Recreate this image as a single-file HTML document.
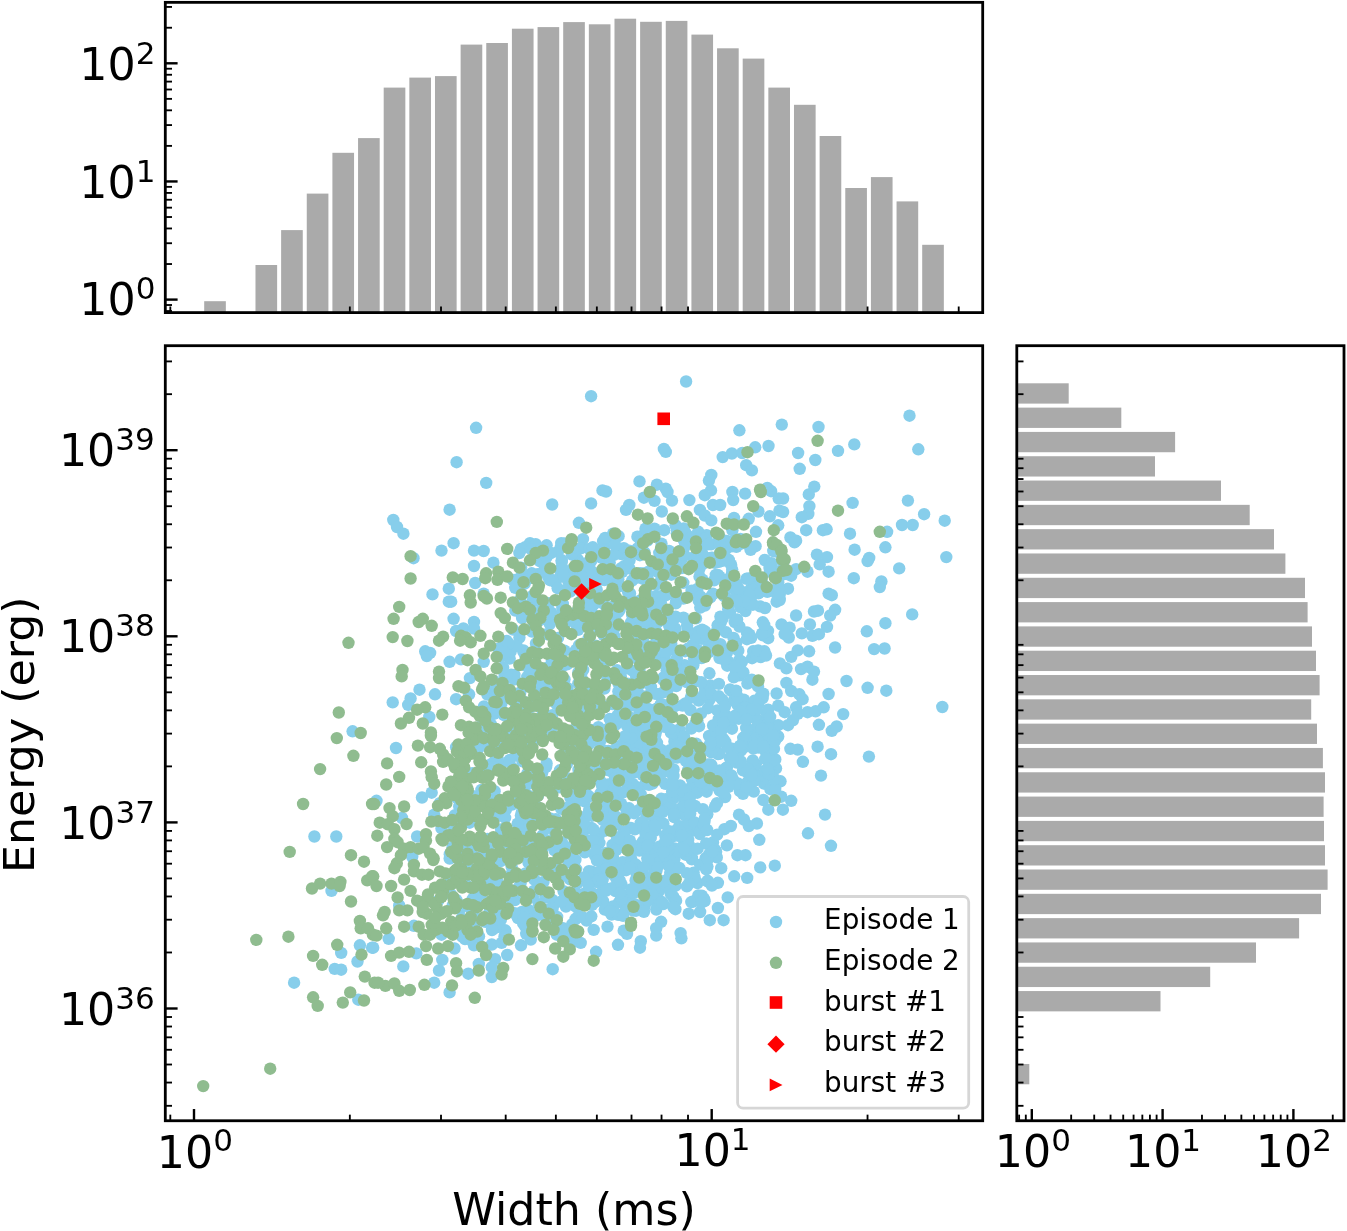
<!DOCTYPE html>
<html><head><meta charset="utf-8"><title>plot</title>
<style>html,body{margin:0;padding:0;background:#fff;}svg{display:block;}circle{r:6.2px;}text{font-family:"DejaVu Sans","Liberation Sans",sans-serif;fill:#000;}</style>
</head><body>
<svg width="1347" height="1231" viewBox="0 0 1347 1231">
<rect width="1347" height="1231" fill="#fff"/>
<rect x="204.2" y="301.2" width="21.64" height="11.4" fill="#aaaaaa"/>
<rect x="255.49" y="265" width="21.64" height="47.6" fill="#aaaaaa"/>
<rect x="281.13" y="230.1" width="21.64" height="82.5" fill="#aaaaaa"/>
<rect x="306.77" y="193.6" width="21.64" height="119" fill="#aaaaaa"/>
<rect x="332.41" y="152.8" width="21.64" height="159.8" fill="#aaaaaa"/>
<rect x="358.06" y="138.1" width="21.64" height="174.5" fill="#aaaaaa"/>
<rect x="383.7" y="87.6" width="21.64" height="225" fill="#aaaaaa"/>
<rect x="409.34" y="77.6" width="21.64" height="235" fill="#aaaaaa"/>
<rect x="434.99" y="76.1" width="21.64" height="236.5" fill="#aaaaaa"/>
<rect x="460.63" y="44.6" width="21.64" height="268" fill="#aaaaaa"/>
<rect x="486.27" y="43" width="21.64" height="269.6" fill="#aaaaaa"/>
<rect x="511.92" y="28.7" width="21.64" height="283.9" fill="#aaaaaa"/>
<rect x="537.56" y="27.1" width="21.64" height="285.5" fill="#aaaaaa"/>
<rect x="563.2" y="22.1" width="21.64" height="290.5" fill="#aaaaaa"/>
<rect x="588.85" y="24.3" width="21.64" height="288.3" fill="#aaaaaa"/>
<rect x="614.49" y="18.7" width="21.64" height="293.9" fill="#aaaaaa"/>
<rect x="640.13" y="21.8" width="21.64" height="290.8" fill="#aaaaaa"/>
<rect x="665.77" y="20.9" width="21.64" height="291.7" fill="#aaaaaa"/>
<rect x="691.42" y="34.6" width="21.64" height="278" fill="#aaaaaa"/>
<rect x="717.06" y="48.3" width="21.64" height="264.3" fill="#aaaaaa"/>
<rect x="742.7" y="58.6" width="21.64" height="254" fill="#aaaaaa"/>
<rect x="768.35" y="87.6" width="21.64" height="225" fill="#aaaaaa"/>
<rect x="793.99" y="104.8" width="21.64" height="207.8" fill="#aaaaaa"/>
<rect x="819.63" y="136" width="21.64" height="176.6" fill="#aaaaaa"/>
<rect x="845.28" y="188" width="21.64" height="124.6" fill="#aaaaaa"/>
<rect x="870.92" y="177.1" width="21.64" height="135.5" fill="#aaaaaa"/>
<rect x="896.56" y="201.4" width="21.64" height="111.2" fill="#aaaaaa"/>
<rect x="922.2" y="244.8" width="21.64" height="67.8" fill="#aaaaaa"/>
<rect x="1016.8" y="383.3" width="51.9" height="20.31" fill="#aaaaaa"/>
<rect x="1016.8" y="407.61" width="104.5" height="20.31" fill="#aaaaaa"/>
<rect x="1016.8" y="431.92" width="158.3" height="20.31" fill="#aaaaaa"/>
<rect x="1016.8" y="456.23" width="138.2" height="20.31" fill="#aaaaaa"/>
<rect x="1016.8" y="480.54" width="204.2" height="20.31" fill="#aaaaaa"/>
<rect x="1016.8" y="504.85" width="232.9" height="20.31" fill="#aaaaaa"/>
<rect x="1016.8" y="529.16" width="257.2" height="20.31" fill="#aaaaaa"/>
<rect x="1016.8" y="553.47" width="268.6" height="20.31" fill="#aaaaaa"/>
<rect x="1016.8" y="577.78" width="288.2" height="20.31" fill="#aaaaaa"/>
<rect x="1016.8" y="602.09" width="290.8" height="20.31" fill="#aaaaaa"/>
<rect x="1016.8" y="626.4" width="295.2" height="20.31" fill="#aaaaaa"/>
<rect x="1016.8" y="650.71" width="299.2" height="20.31" fill="#aaaaaa"/>
<rect x="1016.8" y="675.02" width="302.8" height="20.31" fill="#aaaaaa"/>
<rect x="1016.8" y="699.33" width="294.4" height="20.31" fill="#aaaaaa"/>
<rect x="1016.8" y="723.64" width="300.2" height="20.31" fill="#aaaaaa"/>
<rect x="1016.8" y="747.95" width="306.1" height="20.31" fill="#aaaaaa"/>
<rect x="1016.8" y="772.26" width="308.2" height="20.31" fill="#aaaaaa"/>
<rect x="1016.8" y="796.57" width="306.8" height="20.31" fill="#aaaaaa"/>
<rect x="1016.8" y="820.88" width="307.2" height="20.31" fill="#aaaaaa"/>
<rect x="1016.8" y="845.19" width="308.2" height="20.31" fill="#aaaaaa"/>
<rect x="1016.8" y="869.5" width="310.8" height="20.31" fill="#aaaaaa"/>
<rect x="1016.8" y="893.81" width="304.2" height="20.31" fill="#aaaaaa"/>
<rect x="1016.8" y="918.12" width="282.3" height="20.31" fill="#aaaaaa"/>
<rect x="1016.8" y="942.43" width="239.2" height="20.31" fill="#aaaaaa"/>
<rect x="1016.8" y="966.74" width="193.4" height="20.31" fill="#aaaaaa"/>
<rect x="1016.8" y="991.05" width="143.7" height="20.31" fill="#aaaaaa"/>
<rect x="1016.8" y="1063.98" width="12.5" height="20.31" fill="#aaaaaa"/>
<g fill="#87ceeb"><circle cx="476.1" cy="427.8" r="6.2"/><circle cx="456.6" cy="462.2" r="6.2"/><circle cx="486.2" cy="482.9" r="6.2"/><circle cx="449.6" cy="509.7" r="6.2"/><circle cx="552.2" cy="504.5" r="6.2"/><circle cx="393.3" cy="520.0" r="6.2"/><circle cx="397.0" cy="527.0" r="6.2"/><circle cx="403.4" cy="533.7" r="6.2"/><circle cx="591.1" cy="396.2" r="6.2"/><circle cx="686.1" cy="381.5" r="6.2"/><circle cx="739.4" cy="430.3" r="6.2"/><circle cx="663.9" cy="448.9" r="6.2"/><circle cx="665.8" cy="451.9" r="6.2"/><circle cx="722.7" cy="457.1" r="6.2"/><circle cx="731.9" cy="453.5" r="6.2"/><circle cx="755.2" cy="447.3" r="6.2"/><circle cx="768.5" cy="446.0" r="6.2"/><circle cx="742.2" cy="453.0" r="6.2"/><circle cx="746.2" cy="465.2" r="6.2"/><circle cx="751.9" cy="470.4" r="6.2"/><circle cx="711.3" cy="474.9" r="6.2"/><circle cx="708.9" cy="480.6" r="6.2"/><circle cx="639.5" cy="481.4" r="6.2"/><circle cx="602.5" cy="490.4" r="6.2"/><circle cx="606.1" cy="491.5" r="6.2"/><circle cx="591.1" cy="503.4" r="6.2"/><circle cx="656.9" cy="484.7" r="6.2"/><circle cx="665.8" cy="488.7" r="6.2"/><circle cx="667.5" cy="492.0" r="6.2"/><circle cx="643.9" cy="497.7" r="6.2"/><circle cx="654.5" cy="500.9" r="6.2"/><circle cx="672.0" cy="500.6" r="6.2"/><circle cx="689.4" cy="500.1" r="6.2"/><circle cx="711.0" cy="490.4" r="6.2"/><circle cx="704.8" cy="495.2" r="6.2"/><circle cx="732.4" cy="492.0" r="6.2"/><circle cx="733.2" cy="500.1" r="6.2"/><circle cx="745.1" cy="493.6" r="6.2"/><circle cx="771.1" cy="491.2" r="6.2"/><circle cx="767.3" cy="487.9" r="6.2"/><circle cx="712.9" cy="505.0" r="6.2"/><circle cx="720.2" cy="505.0" r="6.2"/><circle cx="629.3" cy="505.0" r="6.2"/><circle cx="626.0" cy="509.9" r="6.2"/><circle cx="661.8" cy="511.5" r="6.2"/><circle cx="699.9" cy="509.9" r="6.2"/><circle cx="704.8" cy="515.5" r="6.2"/><circle cx="758.4" cy="511.5" r="6.2"/><circle cx="769.8" cy="516.3" r="6.2"/><circle cx="578.9" cy="522.8" r="6.2"/><circle cx="583.0" cy="539.1" r="6.2"/><circle cx="637.4" cy="536.7" r="6.2"/><circle cx="664.2" cy="530.2" r="6.2"/><circle cx="675.6" cy="525.3" r="6.2"/><circle cx="683.7" cy="528.5" r="6.2"/><circle cx="698.3" cy="531.8" r="6.2"/><circle cx="734.0" cy="518.0" r="6.2"/><circle cx="748.7" cy="518.8" r="6.2"/><circle cx="756.0" cy="531.8" r="6.2"/><circle cx="778.7" cy="498.5" r="6.2"/><circle cx="779.5" cy="510.7" r="6.2"/><circle cx="711.3" cy="520.4" r="6.2"/><circle cx="614.7" cy="539.9" r="6.2"/><circle cx="732.4" cy="530.2" r="6.2"/><circle cx="781.8" cy="424.6" r="6.2"/><circle cx="818.5" cy="427.0" r="6.2"/><circle cx="909.5" cy="415.7" r="6.2"/><circle cx="798.1" cy="453.0" r="6.2"/><circle cx="815.3" cy="460.0" r="6.2"/><circle cx="799.7" cy="468.8" r="6.2"/><circle cx="838.0" cy="450.9" r="6.2"/><circle cx="854.3" cy="444.4" r="6.2"/><circle cx="918.3" cy="449.3" r="6.2"/><circle cx="814.3" cy="486.6" r="6.2"/><circle cx="808.8" cy="494.4" r="6.2"/><circle cx="783.1" cy="498.5" r="6.2"/><circle cx="809.4" cy="506.1" r="6.2"/><circle cx="808.3" cy="513.9" r="6.2"/><circle cx="801.8" cy="517.2" r="6.2"/><circle cx="783.1" cy="512.0" r="6.2"/><circle cx="852.6" cy="502.9" r="6.2"/><circle cx="907.9" cy="500.6" r="6.2"/><circle cx="924.1" cy="514.2" r="6.2"/><circle cx="944.7" cy="520.7" r="6.2"/><circle cx="902.0" cy="525.0" r="6.2"/><circle cx="912.7" cy="525.0" r="6.2"/><circle cx="806.2" cy="530.2" r="6.2"/><circle cx="822.9" cy="530.2" r="6.2"/><circle cx="826.6" cy="529.3" r="6.2"/><circle cx="850.0" cy="533.7" r="6.2"/><circle cx="887.1" cy="531.8" r="6.2"/><circle cx="778.2" cy="525.3" r="6.2"/><circle cx="790.4" cy="537.5" r="6.2"/><circle cx="796.1" cy="540.7" r="6.2"/><circle cx="352.6" cy="731.3" r="6.2"/><circle cx="453.6" cy="543.2" r="6.2"/><circle cx="441.5" cy="550.6" r="6.2"/><circle cx="474.0" cy="550.6" r="6.2"/><circle cx="483.7" cy="551.0" r="6.2"/><circle cx="530.0" cy="543.2" r="6.2"/><circle cx="535.7" cy="544.1" r="6.2"/><circle cx="525.1" cy="547.3" r="6.2"/><circle cx="539.7" cy="561.1" r="6.2"/><circle cx="413.5" cy="558.2" r="6.2"/><circle cx="561.7" cy="561.9" r="6.2"/><circle cx="474.0" cy="566.0" r="6.2"/><circle cx="493.4" cy="562.7" r="6.2"/><circle cx="475.2" cy="583.0" r="6.2"/><circle cx="537.3" cy="574.1" r="6.2"/><circle cx="548.7" cy="577.4" r="6.2"/><circle cx="555.2" cy="582.2" r="6.2"/><circle cx="568.1" cy="580.6" r="6.2"/><circle cx="448.8" cy="588.7" r="6.2"/><circle cx="432.5" cy="594.4" r="6.2"/><circle cx="448.8" cy="601.7" r="6.2"/><circle cx="451.2" cy="601.7" r="6.2"/><circle cx="483.7" cy="593.6" r="6.2"/><circle cx="548.7" cy="603.3" r="6.2"/><circle cx="453.6" cy="618.8" r="6.2"/><circle cx="474.0" cy="622.0" r="6.2"/><circle cx="522.7" cy="611.5" r="6.2"/><circle cx="576.3" cy="624.5" r="6.2"/><circle cx="456.1" cy="631.0" r="6.2"/><circle cx="463.4" cy="628.5" r="6.2"/><circle cx="474.0" cy="628.5" r="6.2"/><circle cx="503.2" cy="645.6" r="6.2"/><circle cx="519.4" cy="637.5" r="6.2"/><circle cx="547.0" cy="634.2" r="6.2"/><circle cx="425.2" cy="651.3" r="6.2"/><circle cx="430.1" cy="652.9" r="6.2"/><circle cx="426.8" cy="656.1" r="6.2"/><circle cx="449.6" cy="661.8" r="6.2"/><circle cx="461.0" cy="659.4" r="6.2"/><circle cx="483.7" cy="661.8" r="6.2"/><circle cx="509.7" cy="658.6" r="6.2"/><circle cx="511.3" cy="674.8" r="6.2"/><circle cx="512.9" cy="678.1" r="6.2"/><circle cx="523.5" cy="650.4" r="6.2"/><circle cx="551.9" cy="660.2" r="6.2"/><circle cx="469.9" cy="678.1" r="6.2"/><circle cx="535.7" cy="692.7" r="6.2"/><circle cx="545.4" cy="679.7" r="6.2"/><circle cx="419.5" cy="689.7" r="6.2"/><circle cx="435.0" cy="694.3" r="6.2"/><circle cx="392.7" cy="702.4" r="6.2"/><circle cx="410.6" cy="698.4" r="6.2"/><circle cx="408.2" cy="704.9" r="6.2"/><circle cx="456.1" cy="699.2" r="6.2"/><circle cx="469.1" cy="694.3" r="6.2"/><circle cx="429.3" cy="717.0" r="6.2"/><circle cx="490.2" cy="725.2" r="6.2"/><circle cx="499.9" cy="731.6" r="6.2"/><circle cx="542.2" cy="715.4" r="6.2"/><circle cx="569.8" cy="731.6" r="6.2"/><circle cx="794.5" cy="542.4" r="6.2"/><circle cx="854.6" cy="549.7" r="6.2"/><circle cx="885.4" cy="547.3" r="6.2"/><circle cx="869.2" cy="557.9" r="6.2"/><circle cx="867.6" cy="561.1" r="6.2"/><circle cx="899.2" cy="568.4" r="6.2"/><circle cx="946.3" cy="557.1" r="6.2"/><circle cx="816.9" cy="554.6" r="6.2"/><circle cx="827.0" cy="557.1" r="6.2"/><circle cx="819.7" cy="564.4" r="6.2"/><circle cx="828.6" cy="571.7" r="6.2"/><circle cx="807.5" cy="571.7" r="6.2"/><circle cx="796.1" cy="569.2" r="6.2"/><circle cx="791.2" cy="575.7" r="6.2"/><circle cx="784.7" cy="574.1" r="6.2"/><circle cx="853.8" cy="578.2" r="6.2"/><circle cx="881.4" cy="581.4" r="6.2"/><circle cx="879.8" cy="587.1" r="6.2"/><circle cx="788.0" cy="588.7" r="6.2"/><circle cx="779.9" cy="593.6" r="6.2"/><circle cx="776.6" cy="601.7" r="6.2"/><circle cx="778.2" cy="582.2" r="6.2"/><circle cx="828.6" cy="593.6" r="6.2"/><circle cx="831.8" cy="595.2" r="6.2"/><circle cx="796.1" cy="615.5" r="6.2"/><circle cx="814.0" cy="611.5" r="6.2"/><circle cx="818.0" cy="610.7" r="6.2"/><circle cx="835.1" cy="609.8" r="6.2"/><circle cx="830.2" cy="615.5" r="6.2"/><circle cx="781.5" cy="624.5" r="6.2"/><circle cx="789.6" cy="627.7" r="6.2"/><circle cx="788.8" cy="637.5" r="6.2"/><circle cx="784.7" cy="634.2" r="6.2"/><circle cx="809.9" cy="624.5" r="6.2"/><circle cx="801.8" cy="633.4" r="6.2"/><circle cx="812.4" cy="635.8" r="6.2"/><circle cx="818.9" cy="634.2" r="6.2"/><circle cx="827.0" cy="626.9" r="6.2"/><circle cx="912.2" cy="614.4" r="6.2"/><circle cx="885.4" cy="623.2" r="6.2"/><circle cx="866.8" cy="631.3" r="6.2"/><circle cx="835.1" cy="647.5" r="6.2"/><circle cx="874.1" cy="649.1" r="6.2"/><circle cx="884.6" cy="648.5" r="6.2"/><circle cx="797.7" cy="650.4" r="6.2"/><circle cx="791.2" cy="656.9" r="6.2"/><circle cx="809.1" cy="651.3" r="6.2"/><circle cx="779.9" cy="663.4" r="6.2"/><circle cx="786.4" cy="668.3" r="6.2"/><circle cx="801.0" cy="669.1" r="6.2"/><circle cx="807.5" cy="666.7" r="6.2"/><circle cx="814.0" cy="671.6" r="6.2"/><circle cx="812.4" cy="679.7" r="6.2"/><circle cx="846.5" cy="681.0" r="6.2"/><circle cx="867.6" cy="687.8" r="6.2"/><circle cx="886.3" cy="690.7" r="6.2"/><circle cx="786.4" cy="682.9" r="6.2"/><circle cx="791.2" cy="691.0" r="6.2"/><circle cx="799.4" cy="694.3" r="6.2"/><circle cx="802.6" cy="699.2" r="6.2"/><circle cx="776.6" cy="693.5" r="6.2"/><circle cx="828.6" cy="694.0" r="6.2"/><circle cx="942.3" cy="707.0" r="6.2"/><circle cx="778.2" cy="705.7" r="6.2"/><circle cx="784.7" cy="712.2" r="6.2"/><circle cx="796.1" cy="707.3" r="6.2"/><circle cx="797.7" cy="713.8" r="6.2"/><circle cx="807.5" cy="712.2" r="6.2"/><circle cx="815.6" cy="711.3" r="6.2"/><circle cx="823.7" cy="707.3" r="6.2"/><circle cx="843.2" cy="714.1" r="6.2"/><circle cx="778.2" cy="725.2" r="6.2"/><circle cx="788.0" cy="725.2" r="6.2"/><circle cx="792.9" cy="720.3" r="6.2"/><circle cx="818.9" cy="724.8" r="6.2"/><circle cx="831.8" cy="730.8" r="6.2"/><circle cx="836.7" cy="726.5" r="6.2"/><circle cx="778.2" cy="736.5" r="6.2"/><circle cx="314.4" cy="836.5" r="6.2"/><circle cx="336.3" cy="836.5" r="6.2"/><circle cx="331.5" cy="890.9" r="6.2"/><circle cx="396.0" cy="748.0" r="6.2"/><circle cx="422.0" cy="797.5" r="6.2"/><circle cx="376.5" cy="800.8" r="6.2"/><circle cx="434.2" cy="814.6" r="6.2"/><circle cx="417.1" cy="836.5" r="6.2"/><circle cx="456.1" cy="747.2" r="6.2"/><circle cx="472.3" cy="744.7" r="6.2"/><circle cx="431.7" cy="792.7" r="6.2"/><circle cx="439.8" cy="803.2" r="6.2"/><circle cx="441.5" cy="828.4" r="6.2"/><circle cx="412.2" cy="856.8" r="6.2"/><circle cx="438.2" cy="900.7" r="6.2"/><circle cx="399.2" cy="905.5" r="6.2"/><circle cx="413.9" cy="925.8" r="6.2"/><circle cx="439.8" cy="931.5" r="6.2"/><circle cx="402.0" cy="818.0" r="6.2"/><circle cx="776.4" cy="738.2" r="6.2"/><circle cx="780.5" cy="781.3" r="6.2"/><circle cx="781.3" cy="796.7" r="6.2"/><circle cx="782.9" cy="809.7" r="6.2"/><circle cx="768.3" cy="809.7" r="6.2"/><circle cx="763.4" cy="800.0" r="6.2"/><circle cx="756.9" cy="823.5" r="6.2"/><circle cx="748.8" cy="826.0" r="6.2"/><circle cx="739.0" cy="814.6" r="6.2"/><circle cx="743.9" cy="819.5" r="6.2"/><circle cx="724.4" cy="829.2" r="6.2"/><circle cx="730.9" cy="826.0" r="6.2"/><circle cx="726.9" cy="845.4" r="6.2"/><circle cx="759.3" cy="839.8" r="6.2"/><circle cx="737.4" cy="855.2" r="6.2"/><circle cx="745.5" cy="855.2" r="6.2"/><circle cx="760.2" cy="867.4" r="6.2"/><circle cx="774.8" cy="865.7" r="6.2"/><circle cx="734.2" cy="876.3" r="6.2"/><circle cx="747.2" cy="877.9" r="6.2"/><circle cx="721.2" cy="868.2" r="6.2"/><circle cx="717.9" cy="882.8" r="6.2"/><circle cx="727.7" cy="897.4" r="6.2"/><circle cx="717.9" cy="908.0" r="6.2"/><circle cx="723.6" cy="920.2" r="6.2"/><circle cx="709.8" cy="920.2" r="6.2"/><circle cx="700.1" cy="912.0" r="6.2"/><circle cx="688.7" cy="913.7" r="6.2"/><circle cx="680.6" cy="933.1" r="6.2"/><circle cx="661.1" cy="921.8" r="6.2"/><circle cx="790.4" cy="748.8" r="6.2"/><circle cx="797.7" cy="749.6" r="6.2"/><circle cx="817.6" cy="746.7" r="6.2"/><circle cx="831.0" cy="754.2" r="6.2"/><circle cx="802.9" cy="761.8" r="6.2"/><circle cx="868.9" cy="756.6" r="6.2"/><circle cx="776.0" cy="768.3" r="6.2"/><circle cx="821.0" cy="775.6" r="6.2"/><circle cx="791.2" cy="800.8" r="6.2"/><circle cx="825.0" cy="814.6" r="6.2"/><circle cx="808.0" cy="833.3" r="6.2"/><circle cx="831.0" cy="845.8" r="6.2"/><circle cx="341.2" cy="952.9" r="6.2"/><circle cx="359.9" cy="945.3" r="6.2"/><circle cx="372.1" cy="947.7" r="6.2"/><circle cx="357.5" cy="961.5" r="6.2"/><circle cx="334.7" cy="968.9" r="6.2"/><circle cx="341.2" cy="969.7" r="6.2"/><circle cx="294.1" cy="982.7" r="6.2"/><circle cx="358.3" cy="999.7" r="6.2"/><circle cx="373.2" cy="947.7" r="6.2"/><circle cx="388.7" cy="938.8" r="6.2"/><circle cx="403.3" cy="966.4" r="6.2"/><circle cx="416.3" cy="953.4" r="6.2"/><circle cx="441.5" cy="934.7" r="6.2"/><circle cx="442.3" cy="959.9" r="6.2"/><circle cx="439.0" cy="970.5" r="6.2"/><circle cx="434.2" cy="982.7" r="6.2"/><circle cx="454.5" cy="948.5" r="6.2"/><circle cx="449.6" cy="992.4" r="6.2"/><circle cx="468.3" cy="973.7" r="6.2"/><circle cx="474.0" cy="945.3" r="6.2"/><circle cx="478.8" cy="964.0" r="6.2"/><circle cx="491.8" cy="944.5" r="6.2"/><circle cx="501.6" cy="942.9" r="6.2"/><circle cx="507.2" cy="955.0" r="6.2"/><circle cx="495.1" cy="959.1" r="6.2"/><circle cx="491.8" cy="967.2" r="6.2"/><circle cx="491.8" cy="977.0" r="6.2"/><circle cx="505.6" cy="931.5" r="6.2"/><circle cx="521.0" cy="945.3" r="6.2"/><circle cx="530.8" cy="939.6" r="6.2"/><circle cx="552.7" cy="969.2" r="6.2"/><circle cx="556.8" cy="934.7" r="6.2"/><circle cx="574.6" cy="941.2" r="6.2"/><circle cx="467.5" cy="934.7" r="6.2"/><circle cx="580.7" cy="942.9" r="6.2"/><circle cx="596.1" cy="951.8" r="6.2"/><circle cx="593.7" cy="929.9" r="6.2"/><circle cx="607.5" cy="926.6" r="6.2"/><circle cx="618.0" cy="944.8" r="6.2"/><circle cx="623.7" cy="930.7" r="6.2"/><circle cx="627.0" cy="933.9" r="6.2"/><circle cx="640.8" cy="941.2" r="6.2"/><circle cx="640.0" cy="947.7" r="6.2"/><circle cx="656.2" cy="935.6" r="6.2"/><circle cx="656.2" cy="928.2" r="6.2"/><circle cx="681.4" cy="938.3" r="6.2"/><circle cx="709.4" cy="673.3" r="6.2"/><circle cx="639.5" cy="669.5" r="6.2"/><circle cx="576.1" cy="661.0" r="6.2"/><circle cx="746.4" cy="603.8" r="6.2"/><circle cx="640.2" cy="573.1" r="6.2"/><circle cx="629.8" cy="600.1" r="6.2"/><circle cx="683.5" cy="617.7" r="6.2"/><circle cx="708.8" cy="688.2" r="6.2"/><circle cx="621.3" cy="554.0" r="6.2"/><circle cx="706.7" cy="535.1" r="6.2"/><circle cx="582.7" cy="611.4" r="6.2"/><circle cx="675.2" cy="676.6" r="6.2"/><circle cx="681.8" cy="568.1" r="6.2"/><circle cx="577.5" cy="559.2" r="6.2"/><circle cx="723.8" cy="560.5" r="6.2"/><circle cx="654.5" cy="528.6" r="6.2"/><circle cx="632.5" cy="670.6" r="6.2"/><circle cx="684.6" cy="665.2" r="6.2"/><circle cx="712.5" cy="648.2" r="6.2"/><circle cx="594.7" cy="615.7" r="6.2"/><circle cx="684.2" cy="669.2" r="6.2"/><circle cx="652.7" cy="624.9" r="6.2"/><circle cx="587.7" cy="590.8" r="6.2"/><circle cx="644.5" cy="552.3" r="6.2"/><circle cx="750.5" cy="589.5" r="6.2"/><circle cx="705.1" cy="631.4" r="6.2"/><circle cx="720.4" cy="552.4" r="6.2"/><circle cx="669.7" cy="566.8" r="6.2"/><circle cx="661.5" cy="543.7" r="6.2"/><circle cx="783.1" cy="562.8" r="6.2"/><circle cx="719.4" cy="576.7" r="6.2"/><circle cx="762.9" cy="635.3" r="6.2"/><circle cx="603.3" cy="664.9" r="6.2"/><circle cx="697.5" cy="551.6" r="6.2"/><circle cx="616.4" cy="678.3" r="6.2"/><circle cx="693.8" cy="557.2" r="6.2"/><circle cx="765.1" cy="631.9" r="6.2"/><circle cx="697.5" cy="589.0" r="6.2"/><circle cx="663.4" cy="566.8" r="6.2"/><circle cx="583.2" cy="669.9" r="6.2"/><circle cx="675.6" cy="616.7" r="6.2"/><circle cx="644.3" cy="649.7" r="6.2"/><circle cx="580.4" cy="588.3" r="6.2"/><circle cx="581.5" cy="547.9" r="6.2"/><circle cx="667.1" cy="612.8" r="6.2"/><circle cx="762.7" cy="583.8" r="6.2"/><circle cx="701.9" cy="638.8" r="6.2"/><circle cx="651.4" cy="612.1" r="6.2"/><circle cx="739.5" cy="675.3" r="6.2"/><circle cx="607.5" cy="679.2" r="6.2"/><circle cx="576.1" cy="650.0" r="6.2"/><circle cx="665.1" cy="660.1" r="6.2"/><circle cx="578.1" cy="629.8" r="6.2"/><circle cx="745.5" cy="611.1" r="6.2"/><circle cx="731.1" cy="564.7" r="6.2"/><circle cx="617.7" cy="586.8" r="6.2"/><circle cx="613.6" cy="584.1" r="6.2"/><circle cx="648.1" cy="572.0" r="6.2"/><circle cx="779.7" cy="600.0" r="6.2"/><circle cx="687.1" cy="673.2" r="6.2"/><circle cx="734.7" cy="622.1" r="6.2"/><circle cx="666.7" cy="670.3" r="6.2"/><circle cx="663.5" cy="677.5" r="6.2"/><circle cx="589.8" cy="597.7" r="6.2"/><circle cx="686.7" cy="682.1" r="6.2"/><circle cx="629.0" cy="658.6" r="6.2"/><circle cx="720.4" cy="644.2" r="6.2"/><circle cx="710.4" cy="685.4" r="6.2"/><circle cx="646.5" cy="592.5" r="6.2"/><circle cx="618.6" cy="536.2" r="6.2"/><circle cx="620.8" cy="676.3" r="6.2"/><circle cx="755.6" cy="546.2" r="6.2"/><circle cx="704.8" cy="605.6" r="6.2"/><circle cx="702.9" cy="634.8" r="6.2"/><circle cx="640.9" cy="683.7" r="6.2"/><circle cx="675.2" cy="629.8" r="6.2"/><circle cx="711.6" cy="557.8" r="6.2"/><circle cx="588.3" cy="594.7" r="6.2"/><circle cx="739.3" cy="660.1" r="6.2"/><circle cx="731.9" cy="546.3" r="6.2"/><circle cx="629.3" cy="568.3" r="6.2"/><circle cx="615.3" cy="619.9" r="6.2"/><circle cx="583.4" cy="623.6" r="6.2"/><circle cx="610.7" cy="637.8" r="6.2"/><circle cx="579.5" cy="578.3" r="6.2"/><circle cx="749.5" cy="634.6" r="6.2"/><circle cx="706.3" cy="559.0" r="6.2"/><circle cx="698.5" cy="534.4" r="6.2"/><circle cx="747.4" cy="683.5" r="6.2"/><circle cx="647.8" cy="579.5" r="6.2"/><circle cx="599.2" cy="629.5" r="6.2"/><circle cx="746.5" cy="578.8" r="6.2"/><circle cx="760.5" cy="657.1" r="6.2"/><circle cx="602.8" cy="652.2" r="6.2"/><circle cx="764.8" cy="560.0" r="6.2"/><circle cx="698.3" cy="631.5" r="6.2"/><circle cx="706.0" cy="543.6" r="6.2"/><circle cx="717.2" cy="630.4" r="6.2"/><circle cx="752.1" cy="658.2" r="6.2"/><circle cx="645.3" cy="645.0" r="6.2"/><circle cx="714.9" cy="562.8" r="6.2"/><circle cx="696.2" cy="681.1" r="6.2"/><circle cx="656.6" cy="568.9" r="6.2"/><circle cx="673.1" cy="634.5" r="6.2"/><circle cx="596.7" cy="589.7" r="6.2"/><circle cx="603.8" cy="635.3" r="6.2"/><circle cx="753.6" cy="589.1" r="6.2"/><circle cx="654.9" cy="615.4" r="6.2"/><circle cx="621.2" cy="568.1" r="6.2"/><circle cx="645.9" cy="602.1" r="6.2"/><circle cx="592.5" cy="649.9" r="6.2"/><circle cx="699.5" cy="576.6" r="6.2"/><circle cx="591.7" cy="651.6" r="6.2"/><circle cx="603.2" cy="549.6" r="6.2"/><circle cx="603.1" cy="541.2" r="6.2"/><circle cx="769.9" cy="571.6" r="6.2"/><circle cx="640.9" cy="662.9" r="6.2"/><circle cx="708.3" cy="558.3" r="6.2"/><circle cx="668.5" cy="671.2" r="6.2"/><circle cx="655.7" cy="643.2" r="6.2"/><circle cx="595.8" cy="645.8" r="6.2"/><circle cx="741.9" cy="661.8" r="6.2"/><circle cx="588.8" cy="612.0" r="6.2"/><circle cx="632.2" cy="614.9" r="6.2"/><circle cx="735.9" cy="673.2" r="6.2"/><circle cx="602.0" cy="557.9" r="6.2"/><circle cx="746.9" cy="632.4" r="6.2"/><circle cx="730.0" cy="689.5" r="6.2"/><circle cx="742.1" cy="592.0" r="6.2"/><circle cx="712.9" cy="557.9" r="6.2"/><circle cx="738.3" cy="650.7" r="6.2"/><circle cx="730.1" cy="600.1" r="6.2"/><circle cx="656.3" cy="596.0" r="6.2"/><circle cx="582.2" cy="664.8" r="6.2"/><circle cx="691.6" cy="590.8" r="6.2"/><circle cx="692.8" cy="644.9" r="6.2"/><circle cx="657.0" cy="662.6" r="6.2"/><circle cx="772.7" cy="590.8" r="6.2"/><circle cx="604.6" cy="651.2" r="6.2"/><circle cx="728.2" cy="661.7" r="6.2"/><circle cx="594.7" cy="688.0" r="6.2"/><circle cx="600.1" cy="556.6" r="6.2"/><circle cx="698.6" cy="600.3" r="6.2"/><circle cx="771.6" cy="563.2" r="6.2"/><circle cx="740.4" cy="539.0" r="6.2"/><circle cx="676.8" cy="533.3" r="6.2"/><circle cx="642.5" cy="578.6" r="6.2"/><circle cx="729.7" cy="601.7" r="6.2"/><circle cx="587.2" cy="689.2" r="6.2"/><circle cx="628.0" cy="591.8" r="6.2"/><circle cx="623.8" cy="548.2" r="6.2"/><circle cx="582.1" cy="609.5" r="6.2"/><circle cx="601.5" cy="556.6" r="6.2"/><circle cx="760.0" cy="606.4" r="6.2"/><circle cx="614.5" cy="636.5" r="6.2"/><circle cx="632.2" cy="613.4" r="6.2"/><circle cx="635.8" cy="611.6" r="6.2"/><circle cx="660.1" cy="656.1" r="6.2"/><circle cx="604.3" cy="546.3" r="6.2"/><circle cx="624.6" cy="685.1" r="6.2"/><circle cx="619.7" cy="610.0" r="6.2"/><circle cx="681.9" cy="676.2" r="6.2"/><circle cx="583.7" cy="579.1" r="6.2"/><circle cx="704.0" cy="538.8" r="6.2"/><circle cx="625.9" cy="603.3" r="6.2"/><circle cx="764.4" cy="651.3" r="6.2"/><circle cx="753.2" cy="651.3" r="6.2"/><circle cx="727.2" cy="665.7" r="6.2"/><circle cx="721.5" cy="647.2" r="6.2"/><circle cx="639.9" cy="555.2" r="6.2"/><circle cx="645.8" cy="679.7" r="6.2"/><circle cx="608.4" cy="611.3" r="6.2"/><circle cx="594.7" cy="684.4" r="6.2"/><circle cx="698.7" cy="658.2" r="6.2"/><circle cx="635.6" cy="657.9" r="6.2"/><circle cx="726.1" cy="632.3" r="6.2"/><circle cx="779.4" cy="598.2" r="6.2"/><circle cx="664.2" cy="640.1" r="6.2"/><circle cx="754.5" cy="582.3" r="6.2"/><circle cx="719.0" cy="561.9" r="6.2"/><circle cx="693.6" cy="652.6" r="6.2"/><circle cx="589.0" cy="645.9" r="6.2"/><circle cx="578.3" cy="683.3" r="6.2"/><circle cx="675.8" cy="594.3" r="6.2"/><circle cx="729.9" cy="612.8" r="6.2"/><circle cx="732.1" cy="541.7" r="6.2"/><circle cx="696.0" cy="618.4" r="6.2"/><circle cx="672.4" cy="630.2" r="6.2"/><circle cx="693.4" cy="540.0" r="6.2"/><circle cx="702.5" cy="564.0" r="6.2"/><circle cx="617.0" cy="670.3" r="6.2"/><circle cx="617.5" cy="601.6" r="6.2"/><circle cx="736.3" cy="642.6" r="6.2"/><circle cx="694.0" cy="658.7" r="6.2"/><circle cx="675.2" cy="628.5" r="6.2"/><circle cx="751.1" cy="637.9" r="6.2"/><circle cx="713.0" cy="593.8" r="6.2"/><circle cx="695.0" cy="592.2" r="6.2"/><circle cx="735.0" cy="589.6" r="6.2"/><circle cx="675.3" cy="650.4" r="6.2"/><circle cx="683.3" cy="582.8" r="6.2"/><circle cx="752.8" cy="589.7" r="6.2"/><circle cx="756.6" cy="655.2" r="6.2"/><circle cx="671.2" cy="643.5" r="6.2"/><circle cx="582.4" cy="591.1" r="6.2"/><circle cx="694.9" cy="635.7" r="6.2"/><circle cx="720.7" cy="622.5" r="6.2"/><circle cx="665.4" cy="557.7" r="6.2"/><circle cx="637.9" cy="575.5" r="6.2"/><circle cx="667.6" cy="689.8" r="6.2"/><circle cx="650.8" cy="600.5" r="6.2"/><circle cx="654.9" cy="622.2" r="6.2"/><circle cx="656.1" cy="571.2" r="6.2"/><circle cx="765.1" cy="608.0" r="6.2"/><circle cx="722.4" cy="539.9" r="6.2"/><circle cx="761.3" cy="578.7" r="6.2"/><circle cx="681.3" cy="560.1" r="6.2"/><circle cx="665.4" cy="662.1" r="6.2"/><circle cx="752.9" cy="604.7" r="6.2"/><circle cx="740.1" cy="602.2" r="6.2"/><circle cx="655.3" cy="616.4" r="6.2"/><circle cx="618.3" cy="579.3" r="6.2"/><circle cx="726.9" cy="652.8" r="6.2"/><circle cx="587.2" cy="646.7" r="6.2"/><circle cx="750.7" cy="600.1" r="6.2"/><circle cx="588.4" cy="638.6" r="6.2"/><circle cx="627.9" cy="632.2" r="6.2"/><circle cx="656.0" cy="631.2" r="6.2"/><circle cx="630.5" cy="605.2" r="6.2"/><circle cx="687.8" cy="630.2" r="6.2"/><circle cx="618.7" cy="683.9" r="6.2"/><circle cx="637.2" cy="577.6" r="6.2"/><circle cx="665.9" cy="653.0" r="6.2"/><circle cx="727.6" cy="559.7" r="6.2"/><circle cx="604.4" cy="580.1" r="6.2"/><circle cx="740.2" cy="607.1" r="6.2"/><circle cx="708.5" cy="652.4" r="6.2"/><circle cx="736.3" cy="583.7" r="6.2"/><circle cx="630.3" cy="598.9" r="6.2"/><circle cx="680.2" cy="551.0" r="6.2"/><circle cx="669.9" cy="631.7" r="6.2"/><circle cx="604.2" cy="550.4" r="6.2"/><circle cx="612.4" cy="573.9" r="6.2"/><circle cx="614.5" cy="554.7" r="6.2"/><circle cx="677.0" cy="530.4" r="6.2"/><circle cx="673.5" cy="554.4" r="6.2"/><circle cx="633.0" cy="656.4" r="6.2"/><circle cx="614.6" cy="628.0" r="6.2"/><circle cx="662.4" cy="595.7" r="6.2"/><circle cx="718.7" cy="536.0" r="6.2"/><circle cx="717.6" cy="625.3" r="6.2"/><circle cx="599.6" cy="579.1" r="6.2"/><circle cx="582.0" cy="662.6" r="6.2"/><circle cx="706.6" cy="635.9" r="6.2"/><circle cx="720.9" cy="620.4" r="6.2"/><circle cx="647.2" cy="611.1" r="6.2"/><circle cx="579.0" cy="645.3" r="6.2"/><circle cx="724.2" cy="596.2" r="6.2"/><circle cx="758.1" cy="650.4" r="6.2"/><circle cx="647.4" cy="540.6" r="6.2"/><circle cx="603.4" cy="557.9" r="6.2"/><circle cx="640.3" cy="600.5" r="6.2"/><circle cx="774.5" cy="573.1" r="6.2"/><circle cx="768.2" cy="638.2" r="6.2"/><circle cx="758.5" cy="593.3" r="6.2"/><circle cx="575.7" cy="655.5" r="6.2"/><circle cx="627.8" cy="551.1" r="6.2"/><circle cx="746.9" cy="639.2" r="6.2"/><circle cx="620.7" cy="571.3" r="6.2"/><circle cx="776.9" cy="571.5" r="6.2"/><circle cx="726.0" cy="549.0" r="6.2"/><circle cx="750.2" cy="547.0" r="6.2"/><circle cx="685.9" cy="533.7" r="6.2"/><circle cx="693.3" cy="665.2" r="6.2"/><circle cx="593.1" cy="572.4" r="6.2"/><circle cx="739.4" cy="626.5" r="6.2"/><circle cx="642.3" cy="629.9" r="6.2"/><circle cx="672.8" cy="667.7" r="6.2"/><circle cx="638.0" cy="650.8" r="6.2"/><circle cx="711.7" cy="647.9" r="6.2"/><circle cx="656.3" cy="645.4" r="6.2"/><circle cx="725.2" cy="590.8" r="6.2"/><circle cx="580.7" cy="684.0" r="6.2"/><circle cx="728.4" cy="561.2" r="6.2"/><circle cx="732.1" cy="573.1" r="6.2"/><circle cx="675.9" cy="667.3" r="6.2"/><circle cx="671.3" cy="574.7" r="6.2"/><circle cx="640.7" cy="540.5" r="6.2"/><circle cx="622.2" cy="571.9" r="6.2"/><circle cx="612.2" cy="538.2" r="6.2"/><circle cx="675.1" cy="562.7" r="6.2"/><circle cx="733.8" cy="677.4" r="6.2"/><circle cx="633.7" cy="620.7" r="6.2"/><circle cx="683.9" cy="540.2" r="6.2"/><circle cx="601.8" cy="671.3" r="6.2"/><circle cx="676.9" cy="658.3" r="6.2"/><circle cx="589.3" cy="624.4" r="6.2"/><circle cx="576.2" cy="612.5" r="6.2"/><circle cx="654.3" cy="651.1" r="6.2"/><circle cx="590.7" cy="570.9" r="6.2"/><circle cx="749.7" cy="604.1" r="6.2"/><circle cx="672.4" cy="684.9" r="6.2"/><circle cx="643.8" cy="534.8" r="6.2"/><circle cx="659.3" cy="552.8" r="6.2"/><circle cx="592.6" cy="620.0" r="6.2"/><circle cx="714.1" cy="580.4" r="6.2"/><circle cx="697.8" cy="649.9" r="6.2"/><circle cx="701.7" cy="658.1" r="6.2"/><circle cx="693.4" cy="560.1" r="6.2"/><circle cx="700.3" cy="607.5" r="6.2"/><circle cx="610.7" cy="628.3" r="6.2"/><circle cx="750.6" cy="549.9" r="6.2"/><circle cx="692.2" cy="646.9" r="6.2"/><circle cx="661.6" cy="571.7" r="6.2"/><circle cx="655.0" cy="615.8" r="6.2"/><circle cx="722.6" cy="618.6" r="6.2"/><circle cx="598.0" cy="660.5" r="6.2"/><circle cx="628.6" cy="556.1" r="6.2"/><circle cx="584.5" cy="581.9" r="6.2"/><circle cx="616.4" cy="604.1" r="6.2"/><circle cx="611.8" cy="606.9" r="6.2"/><circle cx="687.7" cy="648.8" r="6.2"/><circle cx="669.1" cy="550.9" r="6.2"/><circle cx="651.0" cy="687.1" r="6.2"/><circle cx="736.4" cy="546.8" r="6.2"/><circle cx="748.8" cy="578.4" r="6.2"/><circle cx="673.0" cy="635.2" r="6.2"/><circle cx="684.2" cy="554.8" r="6.2"/><circle cx="604.9" cy="574.1" r="6.2"/><circle cx="586.3" cy="563.1" r="6.2"/><circle cx="603.0" cy="603.3" r="6.2"/><circle cx="651.6" cy="623.1" r="6.2"/><circle cx="646.2" cy="650.3" r="6.2"/><circle cx="630.0" cy="593.5" r="6.2"/><circle cx="737.3" cy="593.9" r="6.2"/><circle cx="641.8" cy="647.2" r="6.2"/><circle cx="629.4" cy="550.6" r="6.2"/><circle cx="669.1" cy="625.6" r="6.2"/><circle cx="776.2" cy="551.6" r="6.2"/><circle cx="728.2" cy="605.0" r="6.2"/><circle cx="603.3" cy="685.6" r="6.2"/><circle cx="724.6" cy="548.9" r="6.2"/><circle cx="594.9" cy="581.7" r="6.2"/><circle cx="589.4" cy="620.1" r="6.2"/><circle cx="673.6" cy="619.4" r="6.2"/><circle cx="733.5" cy="637.9" r="6.2"/><circle cx="749.8" cy="594.6" r="6.2"/><circle cx="743.4" cy="672.5" r="6.2"/><circle cx="788.3" cy="571.1" r="6.2"/><circle cx="672.4" cy="680.7" r="6.2"/><circle cx="778.3" cy="588.4" r="6.2"/><circle cx="777.1" cy="593.8" r="6.2"/><circle cx="655.6" cy="650.6" r="6.2"/><circle cx="676.3" cy="600.6" r="6.2"/><circle cx="658.0" cy="598.1" r="6.2"/><circle cx="605.1" cy="537.9" r="6.2"/><circle cx="737.1" cy="619.4" r="6.2"/><circle cx="719.5" cy="658.0" r="6.2"/><circle cx="624.5" cy="565.9" r="6.2"/><circle cx="634.8" cy="577.2" r="6.2"/><circle cx="738.5" cy="588.6" r="6.2"/><circle cx="644.5" cy="631.1" r="6.2"/><circle cx="615.1" cy="545.2" r="6.2"/><circle cx="724.9" cy="650.5" r="6.2"/><circle cx="638.7" cy="631.0" r="6.2"/><circle cx="582.3" cy="593.5" r="6.2"/><circle cx="699.3" cy="569.1" r="6.2"/><circle cx="649.9" cy="626.7" r="6.2"/><circle cx="701.8" cy="553.0" r="6.2"/><circle cx="726.9" cy="541.0" r="6.2"/><circle cx="783.5" cy="560.8" r="6.2"/><circle cx="629.5" cy="560.4" r="6.2"/><circle cx="788.2" cy="574.4" r="6.2"/><circle cx="705.1" cy="688.5" r="6.2"/><circle cx="687.1" cy="625.4" r="6.2"/><circle cx="726.0" cy="582.4" r="6.2"/><circle cx="645.5" cy="528.7" r="6.2"/><circle cx="582.6" cy="617.1" r="6.2"/><circle cx="591.3" cy="560.8" r="6.2"/><circle cx="646.7" cy="539.4" r="6.2"/><circle cx="581.6" cy="678.2" r="6.2"/><circle cx="668.6" cy="561.2" r="6.2"/><circle cx="627.7" cy="683.6" r="6.2"/><circle cx="768.0" cy="631.0" r="6.2"/><circle cx="595.0" cy="579.5" r="6.2"/><circle cx="581.0" cy="563.5" r="6.2"/><circle cx="580.5" cy="548.4" r="6.2"/><circle cx="711.1" cy="544.3" r="6.2"/><circle cx="608.5" cy="674.3" r="6.2"/><circle cx="647.1" cy="581.9" r="6.2"/><circle cx="593.6" cy="656.9" r="6.2"/><circle cx="720.4" cy="616.6" r="6.2"/><circle cx="707.9" cy="544.3" r="6.2"/><circle cx="631.0" cy="622.5" r="6.2"/><circle cx="578.3" cy="672.3" r="6.2"/><circle cx="589.4" cy="548.9" r="6.2"/><circle cx="724.0" cy="659.6" r="6.2"/><circle cx="744.1" cy="601.3" r="6.2"/><circle cx="613.1" cy="533.7" r="6.2"/><circle cx="758.0" cy="686.4" r="6.2"/><circle cx="627.5" cy="668.3" r="6.2"/><circle cx="661.5" cy="578.4" r="6.2"/><circle cx="670.2" cy="560.3" r="6.2"/><circle cx="728.2" cy="609.4" r="6.2"/><circle cx="643.1" cy="573.4" r="6.2"/><circle cx="586.7" cy="610.8" r="6.2"/><circle cx="683.4" cy="598.5" r="6.2"/><circle cx="601.9" cy="552.6" r="6.2"/><circle cx="662.6" cy="663.1" r="6.2"/><circle cx="709.1" cy="646.2" r="6.2"/><circle cx="698.9" cy="562.0" r="6.2"/><circle cx="725.2" cy="559.5" r="6.2"/><circle cx="676.3" cy="686.0" r="6.2"/><circle cx="690.9" cy="537.2" r="6.2"/><circle cx="667.2" cy="635.0" r="6.2"/><circle cx="587.2" cy="568.9" r="6.2"/><circle cx="578.9" cy="615.5" r="6.2"/><circle cx="657.0" cy="609.6" r="6.2"/><circle cx="638.6" cy="634.4" r="6.2"/><circle cx="612.2" cy="674.9" r="6.2"/><circle cx="675.1" cy="667.3" r="6.2"/><circle cx="637.3" cy="658.1" r="6.2"/><circle cx="636.8" cy="644.6" r="6.2"/><circle cx="646.8" cy="625.6" r="6.2"/><circle cx="656.5" cy="584.7" r="6.2"/><circle cx="589.9" cy="569.9" r="6.2"/><circle cx="709.0" cy="543.8" r="6.2"/><circle cx="718.9" cy="683.9" r="6.2"/><circle cx="783.6" cy="560.8" r="6.2"/><circle cx="618.1" cy="612.2" r="6.2"/><circle cx="637.5" cy="548.4" r="6.2"/><circle cx="602.6" cy="657.8" r="6.2"/><circle cx="773.3" cy="551.0" r="6.2"/><circle cx="577.9" cy="570.7" r="6.2"/><circle cx="603.9" cy="558.6" r="6.2"/><circle cx="700.4" cy="596.4" r="6.2"/><circle cx="667.3" cy="561.3" r="6.2"/><circle cx="717.9" cy="574.9" r="6.2"/><circle cx="660.8" cy="603.1" r="6.2"/><circle cx="769.5" cy="567.9" r="6.2"/><circle cx="729.5" cy="578.1" r="6.2"/><circle cx="767.3" cy="591.8" r="6.2"/><circle cx="683.6" cy="670.1" r="6.2"/><circle cx="719.6" cy="543.3" r="6.2"/><circle cx="604.4" cy="688.5" r="6.2"/><circle cx="581.3" cy="576.7" r="6.2"/><circle cx="609.7" cy="562.6" r="6.2"/><circle cx="593.6" cy="604.5" r="6.2"/><circle cx="702.4" cy="579.6" r="6.2"/><circle cx="598.4" cy="659.4" r="6.2"/><circle cx="604.6" cy="615.8" r="6.2"/><circle cx="710.3" cy="597.4" r="6.2"/><circle cx="760.7" cy="591.2" r="6.2"/><circle cx="684.8" cy="546.5" r="6.2"/><circle cx="696.2" cy="652.2" r="6.2"/><circle cx="732.2" cy="569.6" r="6.2"/><circle cx="666.1" cy="595.2" r="6.2"/><circle cx="712.5" cy="644.5" r="6.2"/><circle cx="686.0" cy="669.5" r="6.2"/><circle cx="675.8" cy="603.3" r="6.2"/><circle cx="636.2" cy="676.9" r="6.2"/><circle cx="643.0" cy="640.6" r="6.2"/><circle cx="663.0" cy="679.5" r="6.2"/><circle cx="590.9" cy="608.5" r="6.2"/><circle cx="585.6" cy="616.9" r="6.2"/><circle cx="614.9" cy="587.6" r="6.2"/><circle cx="640.5" cy="625.6" r="6.2"/><circle cx="751.8" cy="679.7" r="6.2"/><circle cx="645.7" cy="620.3" r="6.2"/><circle cx="576.3" cy="588.3" r="6.2"/><circle cx="762.0" cy="633.7" r="6.2"/><circle cx="638.2" cy="654.1" r="6.2"/><circle cx="637.2" cy="673.0" r="6.2"/><circle cx="592.8" cy="547.3" r="6.2"/><circle cx="736.3" cy="600.8" r="6.2"/><circle cx="606.7" cy="611.2" r="6.2"/><circle cx="638.8" cy="617.0" r="6.2"/><circle cx="734.9" cy="666.8" r="6.2"/><circle cx="587.7" cy="624.0" r="6.2"/><circle cx="740.5" cy="543.8" r="6.2"/><circle cx="762.8" cy="622.3" r="6.2"/><circle cx="766.0" cy="655.5" r="6.2"/><circle cx="728.8" cy="559.9" r="6.2"/><circle cx="632.1" cy="580.6" r="6.2"/><circle cx="702.1" cy="629.7" r="6.2"/><circle cx="616.6" cy="586.6" r="6.2"/><circle cx="685.1" cy="651.2" r="6.2"/><circle cx="715.8" cy="575.0" r="6.2"/><circle cx="593.7" cy="602.9" r="6.2"/><circle cx="764.2" cy="624.9" r="6.2"/><circle cx="586.5" cy="599.3" r="6.2"/><circle cx="657.7" cy="622.4" r="6.2"/><circle cx="701.2" cy="682.1" r="6.2"/><circle cx="616.2" cy="776.7" r="6.2"/><circle cx="649.7" cy="897.7" r="6.2"/><circle cx="682.5" cy="705.5" r="6.2"/><circle cx="742.0" cy="700.8" r="6.2"/><circle cx="576.7" cy="800.6" r="6.2"/><circle cx="599.9" cy="812.8" r="6.2"/><circle cx="593.3" cy="895.8" r="6.2"/><circle cx="612.6" cy="845.0" r="6.2"/><circle cx="709.0" cy="764.4" r="6.2"/><circle cx="619.0" cy="902.3" r="6.2"/><circle cx="583.2" cy="749.0" r="6.2"/><circle cx="642.0" cy="825.5" r="6.2"/><circle cx="650.7" cy="715.8" r="6.2"/><circle cx="691.9" cy="858.0" r="6.2"/><circle cx="637.9" cy="692.4" r="6.2"/><circle cx="684.2" cy="835.8" r="6.2"/><circle cx="616.5" cy="878.9" r="6.2"/><circle cx="764.5" cy="744.9" r="6.2"/><circle cx="764.0" cy="783.5" r="6.2"/><circle cx="697.0" cy="825.2" r="6.2"/><circle cx="589.5" cy="828.4" r="6.2"/><circle cx="624.4" cy="780.1" r="6.2"/><circle cx="705.7" cy="858.2" r="6.2"/><circle cx="610.4" cy="760.6" r="6.2"/><circle cx="754.9" cy="717.9" r="6.2"/><circle cx="770.4" cy="789.2" r="6.2"/><circle cx="654.9" cy="809.4" r="6.2"/><circle cx="665.9" cy="799.2" r="6.2"/><circle cx="661.9" cy="852.8" r="6.2"/><circle cx="631.6" cy="728.6" r="6.2"/><circle cx="664.1" cy="710.5" r="6.2"/><circle cx="666.7" cy="804.7" r="6.2"/><circle cx="735.8" cy="715.3" r="6.2"/><circle cx="656.4" cy="871.1" r="6.2"/><circle cx="644.3" cy="884.0" r="6.2"/><circle cx="722.3" cy="699.7" r="6.2"/><circle cx="654.0" cy="867.8" r="6.2"/><circle cx="682.9" cy="846.1" r="6.2"/><circle cx="686.9" cy="886.3" r="6.2"/><circle cx="663.2" cy="692.4" r="6.2"/><circle cx="630.9" cy="828.0" r="6.2"/><circle cx="657.0" cy="742.9" r="6.2"/><circle cx="688.3" cy="769.8" r="6.2"/><circle cx="597.9" cy="855.4" r="6.2"/><circle cx="603.1" cy="901.2" r="6.2"/><circle cx="738.4" cy="748.7" r="6.2"/><circle cx="673.3" cy="836.2" r="6.2"/><circle cx="639.6" cy="715.0" r="6.2"/><circle cx="746.6" cy="728.2" r="6.2"/><circle cx="675.6" cy="791.5" r="6.2"/><circle cx="647.3" cy="858.5" r="6.2"/><circle cx="623.0" cy="865.7" r="6.2"/><circle cx="674.4" cy="741.5" r="6.2"/><circle cx="704.6" cy="901.2" r="6.2"/><circle cx="638.5" cy="694.7" r="6.2"/><circle cx="612.9" cy="906.4" r="6.2"/><circle cx="576.2" cy="702.5" r="6.2"/><circle cx="595.2" cy="896.9" r="6.2"/><circle cx="653.6" cy="850.5" r="6.2"/><circle cx="719.7" cy="790.7" r="6.2"/><circle cx="725.1" cy="797.0" r="6.2"/><circle cx="686.1" cy="761.2" r="6.2"/><circle cx="575.4" cy="827.6" r="6.2"/><circle cx="629.5" cy="753.8" r="6.2"/><circle cx="755.2" cy="773.9" r="6.2"/><circle cx="596.0" cy="836.2" r="6.2"/><circle cx="685.4" cy="703.4" r="6.2"/><circle cx="646.5" cy="831.8" r="6.2"/><circle cx="762.7" cy="698.1" r="6.2"/><circle cx="621.0" cy="902.2" r="6.2"/><circle cx="679.3" cy="729.5" r="6.2"/><circle cx="691.9" cy="859.4" r="6.2"/><circle cx="698.7" cy="700.6" r="6.2"/><circle cx="582.5" cy="784.4" r="6.2"/><circle cx="578.3" cy="709.5" r="6.2"/><circle cx="706.7" cy="791.7" r="6.2"/><circle cx="592.5" cy="893.3" r="6.2"/><circle cx="650.5" cy="894.9" r="6.2"/><circle cx="699.9" cy="834.1" r="6.2"/><circle cx="661.9" cy="845.9" r="6.2"/><circle cx="624.9" cy="749.7" r="6.2"/><circle cx="754.4" cy="737.3" r="6.2"/><circle cx="654.1" cy="862.8" r="6.2"/><circle cx="642.7" cy="774.9" r="6.2"/><circle cx="761.4" cy="737.9" r="6.2"/><circle cx="624.4" cy="895.7" r="6.2"/><circle cx="631.4" cy="766.7" r="6.2"/><circle cx="755.8" cy="764.5" r="6.2"/><circle cx="748.6" cy="742.4" r="6.2"/><circle cx="619.5" cy="864.6" r="6.2"/><circle cx="744.5" cy="742.1" r="6.2"/><circle cx="617.2" cy="746.5" r="6.2"/><circle cx="603.2" cy="787.7" r="6.2"/><circle cx="678.1" cy="835.7" r="6.2"/><circle cx="586.3" cy="734.6" r="6.2"/><circle cx="599.0" cy="752.6" r="6.2"/><circle cx="613.1" cy="907.2" r="6.2"/><circle cx="651.5" cy="722.2" r="6.2"/><circle cx="652.5" cy="783.6" r="6.2"/><circle cx="636.9" cy="877.0" r="6.2"/><circle cx="715.5" cy="752.4" r="6.2"/><circle cx="624.5" cy="742.8" r="6.2"/><circle cx="740.0" cy="791.2" r="6.2"/><circle cx="732.0" cy="728.7" r="6.2"/><circle cx="709.4" cy="699.9" r="6.2"/><circle cx="608.8" cy="868.3" r="6.2"/><circle cx="743.8" cy="699.7" r="6.2"/><circle cx="691.1" cy="787.5" r="6.2"/><circle cx="701.8" cy="895.6" r="6.2"/><circle cx="723.2" cy="739.0" r="6.2"/><circle cx="688.7" cy="820.3" r="6.2"/><circle cx="577.3" cy="720.6" r="6.2"/><circle cx="648.7" cy="731.3" r="6.2"/><circle cx="623.6" cy="846.9" r="6.2"/><circle cx="707.4" cy="866.6" r="6.2"/><circle cx="713.0" cy="842.4" r="6.2"/><circle cx="575.2" cy="891.8" r="6.2"/><circle cx="608.1" cy="731.9" r="6.2"/><circle cx="679.5" cy="826.2" r="6.2"/><circle cx="729.9" cy="758.0" r="6.2"/><circle cx="589.6" cy="692.8" r="6.2"/><circle cx="706.3" cy="788.9" r="6.2"/><circle cx="665.3" cy="765.6" r="6.2"/><circle cx="611.6" cy="799.9" r="6.2"/><circle cx="627.2" cy="897.1" r="6.2"/><circle cx="611.6" cy="914.5" r="6.2"/><circle cx="751.4" cy="779.0" r="6.2"/><circle cx="670.5" cy="878.4" r="6.2"/><circle cx="745.3" cy="736.7" r="6.2"/><circle cx="760.7" cy="697.4" r="6.2"/><circle cx="576.1" cy="802.2" r="6.2"/><circle cx="636.8" cy="788.1" r="6.2"/><circle cx="673.2" cy="798.7" r="6.2"/><circle cx="646.0" cy="756.7" r="6.2"/><circle cx="709.1" cy="736.0" r="6.2"/><circle cx="657.1" cy="856.6" r="6.2"/><circle cx="576.2" cy="869.1" r="6.2"/><circle cx="725.4" cy="779.8" r="6.2"/><circle cx="625.8" cy="815.3" r="6.2"/><circle cx="635.6" cy="880.5" r="6.2"/><circle cx="696.1" cy="761.2" r="6.2"/><circle cx="602.1" cy="786.0" r="6.2"/><circle cx="675.4" cy="909.2" r="6.2"/><circle cx="640.7" cy="794.1" r="6.2"/><circle cx="775.2" cy="788.9" r="6.2"/><circle cx="744.6" cy="712.5" r="6.2"/><circle cx="655.7" cy="732.6" r="6.2"/><circle cx="619.8" cy="711.4" r="6.2"/><circle cx="661.3" cy="712.4" r="6.2"/><circle cx="674.5" cy="859.1" r="6.2"/><circle cx="638.6" cy="728.9" r="6.2"/><circle cx="649.1" cy="728.5" r="6.2"/><circle cx="748.0" cy="712.3" r="6.2"/><circle cx="726.9" cy="767.5" r="6.2"/><circle cx="602.7" cy="865.5" r="6.2"/><circle cx="707.2" cy="764.8" r="6.2"/><circle cx="610.8" cy="862.7" r="6.2"/><circle cx="743.2" cy="737.8" r="6.2"/><circle cx="598.3" cy="771.7" r="6.2"/><circle cx="703.3" cy="774.7" r="6.2"/><circle cx="582.3" cy="823.4" r="6.2"/><circle cx="613.4" cy="874.5" r="6.2"/><circle cx="622.7" cy="862.1" r="6.2"/><circle cx="643.2" cy="841.2" r="6.2"/><circle cx="753.8" cy="791.6" r="6.2"/><circle cx="716.2" cy="732.3" r="6.2"/><circle cx="595.1" cy="855.7" r="6.2"/><circle cx="680.9" cy="836.1" r="6.2"/><circle cx="649.4" cy="887.4" r="6.2"/><circle cx="650.7" cy="899.7" r="6.2"/><circle cx="652.3" cy="860.1" r="6.2"/><circle cx="580.3" cy="698.9" r="6.2"/><circle cx="670.2" cy="872.7" r="6.2"/><circle cx="756.9" cy="777.0" r="6.2"/><circle cx="681.0" cy="809.0" r="6.2"/><circle cx="594.4" cy="690.2" r="6.2"/><circle cx="682.4" cy="807.0" r="6.2"/><circle cx="752.0" cy="732.2" r="6.2"/><circle cx="685.5" cy="854.0" r="6.2"/><circle cx="604.8" cy="909.6" r="6.2"/><circle cx="575.5" cy="839.3" r="6.2"/><circle cx="616.3" cy="718.8" r="6.2"/><circle cx="740.9" cy="750.7" r="6.2"/><circle cx="588.5" cy="711.3" r="6.2"/><circle cx="707.3" cy="814.3" r="6.2"/><circle cx="575.6" cy="906.4" r="6.2"/><circle cx="732.6" cy="779.0" r="6.2"/><circle cx="625.9" cy="901.7" r="6.2"/><circle cx="661.1" cy="803.2" r="6.2"/><circle cx="717.2" cy="834.7" r="6.2"/><circle cx="679.3" cy="867.9" r="6.2"/><circle cx="656.1" cy="750.9" r="6.2"/><circle cx="722.2" cy="729.0" r="6.2"/><circle cx="584.4" cy="904.0" r="6.2"/><circle cx="768.3" cy="753.2" r="6.2"/><circle cx="704.0" cy="694.3" r="6.2"/><circle cx="655.7" cy="853.3" r="6.2"/><circle cx="649.0" cy="877.3" r="6.2"/><circle cx="762.1" cy="721.8" r="6.2"/><circle cx="716.1" cy="777.2" r="6.2"/><circle cx="610.7" cy="771.0" r="6.2"/><circle cx="673.8" cy="897.8" r="6.2"/><circle cx="731.9" cy="691.2" r="6.2"/><circle cx="586.6" cy="920.6" r="6.2"/><circle cx="689.1" cy="831.6" r="6.2"/><circle cx="647.3" cy="882.9" r="6.2"/><circle cx="689.2" cy="827.5" r="6.2"/><circle cx="626.2" cy="870.2" r="6.2"/><circle cx="618.9" cy="721.8" r="6.2"/><circle cx="697.5" cy="883.1" r="6.2"/><circle cx="635.1" cy="760.1" r="6.2"/><circle cx="605.6" cy="829.9" r="6.2"/><circle cx="733.0" cy="719.1" r="6.2"/><circle cx="684.7" cy="815.2" r="6.2"/><circle cx="596.9" cy="813.0" r="6.2"/><circle cx="630.7" cy="736.2" r="6.2"/><circle cx="645.4" cy="833.5" r="6.2"/><circle cx="658.0" cy="694.2" r="6.2"/><circle cx="752.6" cy="745.5" r="6.2"/><circle cx="659.5" cy="900.8" r="6.2"/><circle cx="659.3" cy="862.6" r="6.2"/><circle cx="748.9" cy="735.8" r="6.2"/><circle cx="709.8" cy="745.5" r="6.2"/><circle cx="619.1" cy="721.8" r="6.2"/><circle cx="768.1" cy="719.8" r="6.2"/><circle cx="762.1" cy="728.4" r="6.2"/><circle cx="642.5" cy="739.1" r="6.2"/><circle cx="629.1" cy="808.3" r="6.2"/><circle cx="608.0" cy="784.5" r="6.2"/><circle cx="580.4" cy="848.1" r="6.2"/><circle cx="696.6" cy="753.1" r="6.2"/><circle cx="577.7" cy="907.9" r="6.2"/><circle cx="600.6" cy="766.0" r="6.2"/><circle cx="580.2" cy="778.9" r="6.2"/><circle cx="657.3" cy="813.8" r="6.2"/><circle cx="641.4" cy="747.9" r="6.2"/><circle cx="736.1" cy="754.7" r="6.2"/><circle cx="643.1" cy="803.9" r="6.2"/><circle cx="631.1" cy="858.6" r="6.2"/><circle cx="592.2" cy="765.0" r="6.2"/><circle cx="661.3" cy="749.9" r="6.2"/><circle cx="747.2" cy="772.2" r="6.2"/><circle cx="661.2" cy="798.8" r="6.2"/><circle cx="745.2" cy="740.7" r="6.2"/><circle cx="629.5" cy="729.3" r="6.2"/><circle cx="736.7" cy="762.6" r="6.2"/><circle cx="621.6" cy="708.1" r="6.2"/><circle cx="716.1" cy="851.7" r="6.2"/><circle cx="718.7" cy="719.2" r="6.2"/><circle cx="626.8" cy="705.3" r="6.2"/><circle cx="699.0" cy="726.2" r="6.2"/><circle cx="600.5" cy="793.5" r="6.2"/><circle cx="655.1" cy="735.4" r="6.2"/><circle cx="593.3" cy="840.2" r="6.2"/><circle cx="737.4" cy="704.6" r="6.2"/><circle cx="638.5" cy="759.7" r="6.2"/><circle cx="686.1" cy="830.2" r="6.2"/><circle cx="659.1" cy="890.9" r="6.2"/><circle cx="655.1" cy="760.4" r="6.2"/><circle cx="754.9" cy="729.3" r="6.2"/><circle cx="615.4" cy="797.3" r="6.2"/><circle cx="702.8" cy="765.8" r="6.2"/><circle cx="689.7" cy="846.6" r="6.2"/><circle cx="654.2" cy="752.9" r="6.2"/><circle cx="632.8" cy="722.1" r="6.2"/><circle cx="691.8" cy="779.1" r="6.2"/><circle cx="693.6" cy="872.6" r="6.2"/><circle cx="674.7" cy="731.4" r="6.2"/><circle cx="598.3" cy="837.6" r="6.2"/><circle cx="744.6" cy="707.7" r="6.2"/><circle cx="700.9" cy="751.8" r="6.2"/><circle cx="591.8" cy="871.6" r="6.2"/><circle cx="636.6" cy="787.2" r="6.2"/><circle cx="601.8" cy="766.8" r="6.2"/><circle cx="602.3" cy="749.7" r="6.2"/><circle cx="693.6" cy="759.4" r="6.2"/><circle cx="693.2" cy="696.7" r="6.2"/><circle cx="771.8" cy="735.9" r="6.2"/><circle cx="646.0" cy="812.2" r="6.2"/><circle cx="701.9" cy="769.4" r="6.2"/><circle cx="665.3" cy="835.4" r="6.2"/><circle cx="668.7" cy="755.7" r="6.2"/><circle cx="659.2" cy="779.3" r="6.2"/><circle cx="634.9" cy="829.4" r="6.2"/><circle cx="680.0" cy="785.5" r="6.2"/><circle cx="708.0" cy="769.2" r="6.2"/><circle cx="767.0" cy="714.2" r="6.2"/><circle cx="740.1" cy="787.7" r="6.2"/><circle cx="656.3" cy="885.6" r="6.2"/><circle cx="755.0" cy="717.0" r="6.2"/><circle cx="678.1" cy="868.1" r="6.2"/><circle cx="591.9" cy="815.9" r="6.2"/><circle cx="598.9" cy="757.1" r="6.2"/><circle cx="645.6" cy="756.3" r="6.2"/><circle cx="663.6" cy="883.4" r="6.2"/><circle cx="681.1" cy="826.7" r="6.2"/><circle cx="597.4" cy="705.0" r="6.2"/><circle cx="770.0" cy="770.5" r="6.2"/><circle cx="769.2" cy="767.9" r="6.2"/><circle cx="706.1" cy="843.5" r="6.2"/><circle cx="593.4" cy="706.5" r="6.2"/><circle cx="665.6" cy="719.5" r="6.2"/><circle cx="635.6" cy="735.4" r="6.2"/><circle cx="639.2" cy="795.8" r="6.2"/><circle cx="638.8" cy="767.8" r="6.2"/><circle cx="674.6" cy="848.4" r="6.2"/><circle cx="663.3" cy="904.1" r="6.2"/><circle cx="576.5" cy="703.3" r="6.2"/><circle cx="595.3" cy="901.8" r="6.2"/><circle cx="659.5" cy="886.4" r="6.2"/><circle cx="717.4" cy="710.4" r="6.2"/><circle cx="649.1" cy="766.9" r="6.2"/><circle cx="667.9" cy="864.9" r="6.2"/><circle cx="592.1" cy="904.9" r="6.2"/><circle cx="672.7" cy="774.9" r="6.2"/><circle cx="718.0" cy="754.1" r="6.2"/><circle cx="721.1" cy="786.5" r="6.2"/><circle cx="673.0" cy="733.9" r="6.2"/><circle cx="616.7" cy="889.8" r="6.2"/><circle cx="693.1" cy="788.0" r="6.2"/><circle cx="577.9" cy="832.4" r="6.2"/><circle cx="629.0" cy="748.5" r="6.2"/><circle cx="676.4" cy="830.2" r="6.2"/><circle cx="664.6" cy="855.6" r="6.2"/><circle cx="769.8" cy="729.2" r="6.2"/><circle cx="623.7" cy="831.4" r="6.2"/><circle cx="659.1" cy="763.2" r="6.2"/><circle cx="678.4" cy="851.7" r="6.2"/><circle cx="743.0" cy="770.4" r="6.2"/><circle cx="610.8" cy="911.2" r="6.2"/><circle cx="625.7" cy="848.3" r="6.2"/><circle cx="587.2" cy="698.7" r="6.2"/><circle cx="615.1" cy="823.5" r="6.2"/><circle cx="661.9" cy="709.1" r="6.2"/><circle cx="616.4" cy="824.4" r="6.2"/><circle cx="657.5" cy="867.1" r="6.2"/><circle cx="670.7" cy="893.6" r="6.2"/><circle cx="648.4" cy="739.6" r="6.2"/><circle cx="634.9" cy="772.4" r="6.2"/><circle cx="649.1" cy="731.5" r="6.2"/><circle cx="672.0" cy="715.9" r="6.2"/><circle cx="594.5" cy="766.1" r="6.2"/><circle cx="627.3" cy="726.2" r="6.2"/><circle cx="673.5" cy="732.5" r="6.2"/><circle cx="606.1" cy="852.9" r="6.2"/><circle cx="663.1" cy="845.9" r="6.2"/><circle cx="671.3" cy="806.9" r="6.2"/><circle cx="638.7" cy="788.9" r="6.2"/><circle cx="673.6" cy="769.4" r="6.2"/><circle cx="744.4" cy="747.1" r="6.2"/><circle cx="620.2" cy="769.9" r="6.2"/><circle cx="690.8" cy="773.7" r="6.2"/><circle cx="708.0" cy="881.7" r="6.2"/><circle cx="624.8" cy="844.9" r="6.2"/><circle cx="720.5" cy="780.5" r="6.2"/><circle cx="604.7" cy="830.9" r="6.2"/><circle cx="618.1" cy="775.4" r="6.2"/><circle cx="605.0" cy="707.1" r="6.2"/><circle cx="584.5" cy="839.0" r="6.2"/><circle cx="580.6" cy="817.8" r="6.2"/><circle cx="599.4" cy="842.9" r="6.2"/><circle cx="649.0" cy="841.9" r="6.2"/><circle cx="627.9" cy="707.4" r="6.2"/><circle cx="612.3" cy="753.5" r="6.2"/><circle cx="608.8" cy="736.0" r="6.2"/><circle cx="686.6" cy="791.5" r="6.2"/><circle cx="685.6" cy="854.7" r="6.2"/><circle cx="582.5" cy="796.5" r="6.2"/><circle cx="581.6" cy="830.3" r="6.2"/><circle cx="588.3" cy="815.2" r="6.2"/><circle cx="605.7" cy="888.5" r="6.2"/><circle cx="594.3" cy="843.0" r="6.2"/><circle cx="719.3" cy="753.8" r="6.2"/><circle cx="696.5" cy="766.5" r="6.2"/><circle cx="628.1" cy="750.2" r="6.2"/><circle cx="578.2" cy="846.1" r="6.2"/><circle cx="589.7" cy="735.7" r="6.2"/><circle cx="592.8" cy="876.6" r="6.2"/><circle cx="683.5" cy="798.4" r="6.2"/><circle cx="694.6" cy="877.5" r="6.2"/><circle cx="702.9" cy="809.1" r="6.2"/><circle cx="639.2" cy="809.9" r="6.2"/><circle cx="672.8" cy="896.1" r="6.2"/><circle cx="586.2" cy="704.7" r="6.2"/><circle cx="585.4" cy="695.6" r="6.2"/><circle cx="577.0" cy="823.9" r="6.2"/><circle cx="603.2" cy="820.2" r="6.2"/><circle cx="711.1" cy="693.6" r="6.2"/><circle cx="753.4" cy="748.6" r="6.2"/><circle cx="688.6" cy="772.1" r="6.2"/><circle cx="645.4" cy="783.6" r="6.2"/><circle cx="575.8" cy="789.5" r="6.2"/><circle cx="629.3" cy="772.9" r="6.2"/><circle cx="608.4" cy="767.7" r="6.2"/><circle cx="615.4" cy="891.1" r="6.2"/><circle cx="701.0" cy="713.4" r="6.2"/><circle cx="578.0" cy="895.1" r="6.2"/><circle cx="623.0" cy="714.6" r="6.2"/><circle cx="709.4" cy="853.9" r="6.2"/><circle cx="639.0" cy="763.8" r="6.2"/><circle cx="617.0" cy="837.4" r="6.2"/><circle cx="768.2" cy="709.6" r="6.2"/><circle cx="654.3" cy="771.6" r="6.2"/><circle cx="591.4" cy="828.0" r="6.2"/><circle cx="630.5" cy="903.2" r="6.2"/><circle cx="614.8" cy="754.4" r="6.2"/><circle cx="595.8" cy="897.8" r="6.2"/><circle cx="740.8" cy="710.1" r="6.2"/><circle cx="683.9" cy="739.4" r="6.2"/><circle cx="595.6" cy="776.5" r="6.2"/><circle cx="693.1" cy="901.5" r="6.2"/><circle cx="651.0" cy="733.6" r="6.2"/><circle cx="633.1" cy="747.6" r="6.2"/><circle cx="606.7" cy="769.8" r="6.2"/><circle cx="626.0" cy="808.4" r="6.2"/><circle cx="607.7" cy="822.1" r="6.2"/><circle cx="713.1" cy="725.4" r="6.2"/><circle cx="684.0" cy="736.4" r="6.2"/><circle cx="649.6" cy="765.2" r="6.2"/><circle cx="742.1" cy="744.3" r="6.2"/><circle cx="685.7" cy="825.9" r="6.2"/><circle cx="642.6" cy="905.6" r="6.2"/><circle cx="643.1" cy="765.7" r="6.2"/><circle cx="717.0" cy="803.2" r="6.2"/><circle cx="723.6" cy="725.5" r="6.2"/><circle cx="605.4" cy="860.8" r="6.2"/><circle cx="654.7" cy="888.9" r="6.2"/><circle cx="622.9" cy="745.7" r="6.2"/><circle cx="752.0" cy="773.9" r="6.2"/><circle cx="597.5" cy="741.1" r="6.2"/><circle cx="732.8" cy="751.6" r="6.2"/><circle cx="688.9" cy="883.6" r="6.2"/><circle cx="700.1" cy="864.6" r="6.2"/><circle cx="775.3" cy="759.4" r="6.2"/><circle cx="616.3" cy="720.6" r="6.2"/><circle cx="642.2" cy="721.9" r="6.2"/><circle cx="584.1" cy="893.8" r="6.2"/><circle cx="697.2" cy="792.7" r="6.2"/><circle cx="603.9" cy="799.0" r="6.2"/><circle cx="669.1" cy="831.1" r="6.2"/><circle cx="687.9" cy="834.7" r="6.2"/><circle cx="615.8" cy="724.5" r="6.2"/><circle cx="577.6" cy="883.0" r="6.2"/><circle cx="575.7" cy="749.4" r="6.2"/><circle cx="695.0" cy="806.0" r="6.2"/><circle cx="759.8" cy="739.5" r="6.2"/><circle cx="598.4" cy="727.2" r="6.2"/><circle cx="677.1" cy="757.6" r="6.2"/><circle cx="668.4" cy="849.6" r="6.2"/><circle cx="640.9" cy="844.3" r="6.2"/><circle cx="579.0" cy="816.7" r="6.2"/><circle cx="623.3" cy="759.0" r="6.2"/><circle cx="666.9" cy="808.1" r="6.2"/><circle cx="743.0" cy="793.8" r="6.2"/><circle cx="584.9" cy="852.4" r="6.2"/><circle cx="620.6" cy="894.7" r="6.2"/><circle cx="618.5" cy="758.6" r="6.2"/><circle cx="603.1" cy="760.2" r="6.2"/><circle cx="698.2" cy="752.0" r="6.2"/><circle cx="584.9" cy="826.0" r="6.2"/><circle cx="725.7" cy="715.3" r="6.2"/><circle cx="662.0" cy="705.8" r="6.2"/><circle cx="578.5" cy="776.9" r="6.2"/><circle cx="633.7" cy="893.1" r="6.2"/><circle cx="577.8" cy="840.0" r="6.2"/><circle cx="725.4" cy="786.7" r="6.2"/><circle cx="677.7" cy="747.3" r="6.2"/><circle cx="626.7" cy="702.3" r="6.2"/><circle cx="760.7" cy="696.7" r="6.2"/><circle cx="603.1" cy="858.0" r="6.2"/><circle cx="668.8" cy="808.8" r="6.2"/><circle cx="635.4" cy="727.4" r="6.2"/><circle cx="738.8" cy="718.7" r="6.2"/><circle cx="635.6" cy="864.4" r="6.2"/><circle cx="636.1" cy="910.7" r="6.2"/><circle cx="610.9" cy="812.4" r="6.2"/><circle cx="685.3" cy="806.1" r="6.2"/><circle cx="733.8" cy="700.7" r="6.2"/><circle cx="686.9" cy="873.2" r="6.2"/><circle cx="585.4" cy="816.7" r="6.2"/><circle cx="665.3" cy="783.9" r="6.2"/><circle cx="685.2" cy="834.9" r="6.2"/><circle cx="711.3" cy="752.4" r="6.2"/><circle cx="605.2" cy="706.4" r="6.2"/><circle cx="630.0" cy="717.6" r="6.2"/><circle cx="715.1" cy="850.0" r="6.2"/><circle cx="700.5" cy="778.8" r="6.2"/><circle cx="670.1" cy="750.2" r="6.2"/><circle cx="763.3" cy="693.7" r="6.2"/><circle cx="640.7" cy="822.9" r="6.2"/><circle cx="612.0" cy="888.2" r="6.2"/><circle cx="673.5" cy="776.0" r="6.2"/><circle cx="587.9" cy="755.2" r="6.2"/><circle cx="695.9" cy="755.2" r="6.2"/><circle cx="584.3" cy="824.5" r="6.2"/><circle cx="637.3" cy="886.4" r="6.2"/><circle cx="716.8" cy="857.4" r="6.2"/><circle cx="642.5" cy="822.0" r="6.2"/><circle cx="628.1" cy="736.8" r="6.2"/><circle cx="617.2" cy="715.8" r="6.2"/><circle cx="624.0" cy="742.1" r="6.2"/><circle cx="712.9" cy="748.3" r="6.2"/><circle cx="584.6" cy="787.8" r="6.2"/><circle cx="616.2" cy="849.9" r="6.2"/><circle cx="620.5" cy="819.2" r="6.2"/><circle cx="611.1" cy="801.9" r="6.2"/><circle cx="752.8" cy="760.4" r="6.2"/><circle cx="683.1" cy="791.8" r="6.2"/><circle cx="589.4" cy="694.8" r="6.2"/><circle cx="747.7" cy="769.0" r="6.2"/><circle cx="715.6" cy="785.7" r="6.2"/><circle cx="746.9" cy="735.2" r="6.2"/><circle cx="674.2" cy="817.2" r="6.2"/><circle cx="737.7" cy="696.8" r="6.2"/><circle cx="649.3" cy="800.2" r="6.2"/><circle cx="695.7" cy="722.8" r="6.2"/><circle cx="686.4" cy="850.9" r="6.2"/><circle cx="725.3" cy="742.0" r="6.2"/><circle cx="665.4" cy="759.1" r="6.2"/><circle cx="654.5" cy="774.2" r="6.2"/><circle cx="591.0" cy="737.8" r="6.2"/><circle cx="633.8" cy="889.0" r="6.2"/><circle cx="654.9" cy="693.7" r="6.2"/><circle cx="703.3" cy="898.6" r="6.2"/><circle cx="597.0" cy="882.0" r="6.2"/><circle cx="575.4" cy="859.9" r="6.2"/><circle cx="676.1" cy="900.7" r="6.2"/><circle cx="754.4" cy="700.8" r="6.2"/><circle cx="677.1" cy="746.2" r="6.2"/><circle cx="665.1" cy="705.4" r="6.2"/><circle cx="648.9" cy="784.8" r="6.2"/><circle cx="575.8" cy="800.1" r="6.2"/><circle cx="758.4" cy="704.1" r="6.2"/><circle cx="618.2" cy="914.8" r="6.2"/><circle cx="672.1" cy="791.4" r="6.2"/><circle cx="652.2" cy="894.5" r="6.2"/><circle cx="601.6" cy="738.8" r="6.2"/><circle cx="633.1" cy="704.5" r="6.2"/><circle cx="698.3" cy="895.4" r="6.2"/><circle cx="676.4" cy="754.1" r="6.2"/><circle cx="683.9" cy="806.1" r="6.2"/><circle cx="636.3" cy="743.8" r="6.2"/><circle cx="648.3" cy="860.5" r="6.2"/><circle cx="623.2" cy="753.3" r="6.2"/><circle cx="600.2" cy="780.9" r="6.2"/><circle cx="651.2" cy="848.2" r="6.2"/><circle cx="758.7" cy="747.5" r="6.2"/><circle cx="740.9" cy="761.5" r="6.2"/><circle cx="658.4" cy="719.8" r="6.2"/><circle cx="758.0" cy="776.6" r="6.2"/><circle cx="718.7" cy="696.1" r="6.2"/><circle cx="717.9" cy="742.5" r="6.2"/><circle cx="667.6" cy="846.3" r="6.2"/><circle cx="610.0" cy="812.3" r="6.2"/><circle cx="746.3" cy="727.9" r="6.2"/><circle cx="670.9" cy="732.7" r="6.2"/><circle cx="604.4" cy="803.7" r="6.2"/><circle cx="668.6" cy="839.4" r="6.2"/><circle cx="643.9" cy="802.8" r="6.2"/><circle cx="715.0" cy="806.6" r="6.2"/><circle cx="602.4" cy="891.4" r="6.2"/><circle cx="632.7" cy="784.0" r="6.2"/><circle cx="756.3" cy="738.1" r="6.2"/><circle cx="762.3" cy="743.2" r="6.2"/><circle cx="592.9" cy="809.2" r="6.2"/><circle cx="738.0" cy="783.4" r="6.2"/><circle cx="747.8" cy="782.0" r="6.2"/><circle cx="742.1" cy="716.2" r="6.2"/><circle cx="633.1" cy="718.4" r="6.2"/><circle cx="709.4" cy="745.3" r="6.2"/><circle cx="591.2" cy="764.0" r="6.2"/><circle cx="753.8" cy="742.6" r="6.2"/><circle cx="690.4" cy="710.0" r="6.2"/><circle cx="663.4" cy="823.7" r="6.2"/><circle cx="628.0" cy="787.9" r="6.2"/><circle cx="650.1" cy="709.6" r="6.2"/><circle cx="589.0" cy="871.2" r="6.2"/><circle cx="575.6" cy="918.8" r="6.2"/><circle cx="736.1" cy="690.6" r="6.2"/><circle cx="598.8" cy="763.9" r="6.2"/><circle cx="612.2" cy="704.0" r="6.2"/><circle cx="732.2" cy="748.7" r="6.2"/><circle cx="641.3" cy="719.6" r="6.2"/><circle cx="602.8" cy="784.9" r="6.2"/><circle cx="745.6" cy="707.7" r="6.2"/><circle cx="663.1" cy="772.3" r="6.2"/><circle cx="757.9" cy="725.5" r="6.2"/><circle cx="709.4" cy="764.9" r="6.2"/><circle cx="707.5" cy="880.8" r="6.2"/><circle cx="635.0" cy="754.0" r="6.2"/><circle cx="600.1" cy="749.2" r="6.2"/><circle cx="599.5" cy="871.9" r="6.2"/><circle cx="584.7" cy="734.5" r="6.2"/><circle cx="774.6" cy="779.0" r="6.2"/><circle cx="584.2" cy="877.5" r="6.2"/><circle cx="633.7" cy="869.4" r="6.2"/><circle cx="579.0" cy="698.1" r="6.2"/><circle cx="697.6" cy="848.7" r="6.2"/><circle cx="690.2" cy="813.5" r="6.2"/><circle cx="697.4" cy="720.4" r="6.2"/><circle cx="588.0" cy="771.1" r="6.2"/><circle cx="687.3" cy="747.7" r="6.2"/><circle cx="611.7" cy="793.6" r="6.2"/><circle cx="659.0" cy="752.3" r="6.2"/><circle cx="584.6" cy="801.4" r="6.2"/><circle cx="623.7" cy="768.0" r="6.2"/><circle cx="580.8" cy="708.6" r="6.2"/><circle cx="581.9" cy="719.2" r="6.2"/><circle cx="708.1" cy="708.2" r="6.2"/><circle cx="630.2" cy="850.4" r="6.2"/><circle cx="770.1" cy="717.0" r="6.2"/><circle cx="689.8" cy="798.0" r="6.2"/><circle cx="638.6" cy="756.8" r="6.2"/><circle cx="592.7" cy="840.1" r="6.2"/><circle cx="615.5" cy="788.1" r="6.2"/><circle cx="765.3" cy="770.8" r="6.2"/><circle cx="639.8" cy="906.3" r="6.2"/><circle cx="694.6" cy="822.4" r="6.2"/><circle cx="620.6" cy="838.8" r="6.2"/><circle cx="652.7" cy="816.2" r="6.2"/><circle cx="656.5" cy="708.8" r="6.2"/><circle cx="771.4" cy="761.1" r="6.2"/><circle cx="632.7" cy="721.5" r="6.2"/><circle cx="637.7" cy="765.4" r="6.2"/><circle cx="612.7" cy="751.4" r="6.2"/><circle cx="635.3" cy="889.0" r="6.2"/><circle cx="666.5" cy="880.2" r="6.2"/><circle cx="585.2" cy="733.7" r="6.2"/><circle cx="589.2" cy="810.2" r="6.2"/><circle cx="634.4" cy="735.1" r="6.2"/><circle cx="699.8" cy="831.3" r="6.2"/><circle cx="613.6" cy="815.1" r="6.2"/><circle cx="668.2" cy="886.4" r="6.2"/><circle cx="589.0" cy="744.1" r="6.2"/><circle cx="690.8" cy="697.7" r="6.2"/><circle cx="642.3" cy="869.7" r="6.2"/><circle cx="626.1" cy="909.9" r="6.2"/><circle cx="618.4" cy="691.4" r="6.2"/><circle cx="589.0" cy="796.4" r="6.2"/><circle cx="582.9" cy="917.4" r="6.2"/><circle cx="704.4" cy="822.0" r="6.2"/><circle cx="703.4" cy="787.0" r="6.2"/><circle cx="663.2" cy="755.9" r="6.2"/><circle cx="604.6" cy="763.1" r="6.2"/><circle cx="647.4" cy="708.7" r="6.2"/><circle cx="764.6" cy="749.9" r="6.2"/><circle cx="685.7" cy="705.3" r="6.2"/><circle cx="688.2" cy="839.9" r="6.2"/><circle cx="591.3" cy="916.3" r="6.2"/><circle cx="608.4" cy="751.0" r="6.2"/><circle cx="726.0" cy="768.1" r="6.2"/><circle cx="754.7" cy="745.3" r="6.2"/><circle cx="639.4" cy="850.6" r="6.2"/><circle cx="634.1" cy="813.2" r="6.2"/><circle cx="659.2" cy="846.8" r="6.2"/><circle cx="621.6" cy="884.7" r="6.2"/><circle cx="721.2" cy="730.6" r="6.2"/><circle cx="639.4" cy="768.0" r="6.2"/><circle cx="656.3" cy="909.5" r="6.2"/><circle cx="634.9" cy="693.0" r="6.2"/><circle cx="596.0" cy="850.6" r="6.2"/><circle cx="653.2" cy="883.4" r="6.2"/><circle cx="684.3" cy="849.1" r="6.2"/><circle cx="647.3" cy="826.2" r="6.2"/><circle cx="718.1" cy="777.4" r="6.2"/><circle cx="675.6" cy="885.7" r="6.2"/><circle cx="765.5" cy="771.3" r="6.2"/><circle cx="588.7" cy="885.4" r="6.2"/><circle cx="731.4" cy="775.4" r="6.2"/><circle cx="656.7" cy="777.9" r="6.2"/><circle cx="706.2" cy="784.0" r="6.2"/><circle cx="691.3" cy="902.1" r="6.2"/><circle cx="579.0" cy="693.6" r="6.2"/><circle cx="705.1" cy="767.2" r="6.2"/><circle cx="754.0" cy="780.9" r="6.2"/><circle cx="727.5" cy="747.1" r="6.2"/><circle cx="704.0" cy="898.9" r="6.2"/><circle cx="751.7" cy="775.0" r="6.2"/><circle cx="673.8" cy="814.2" r="6.2"/><circle cx="645.6" cy="802.3" r="6.2"/><circle cx="639.5" cy="848.7" r="6.2"/><circle cx="769.4" cy="774.0" r="6.2"/><circle cx="756.8" cy="709.6" r="6.2"/><circle cx="624.5" cy="836.9" r="6.2"/><circle cx="593.5" cy="829.7" r="6.2"/><circle cx="598.8" cy="879.5" r="6.2"/><circle cx="580.3" cy="744.1" r="6.2"/><circle cx="623.6" cy="869.8" r="6.2"/><circle cx="665.6" cy="884.4" r="6.2"/><circle cx="711.9" cy="885.6" r="6.2"/><circle cx="631.6" cy="772.5" r="6.2"/><circle cx="703.8" cy="825.2" r="6.2"/><circle cx="637.5" cy="718.1" r="6.2"/><circle cx="631.8" cy="703.2" r="6.2"/><circle cx="579.7" cy="747.6" r="6.2"/><circle cx="631.1" cy="738.1" r="6.2"/><circle cx="585.4" cy="729.5" r="6.2"/><circle cx="646.7" cy="711.4" r="6.2"/><circle cx="617.3" cy="791.6" r="6.2"/><circle cx="658.0" cy="719.2" r="6.2"/><circle cx="630.2" cy="846.6" r="6.2"/><circle cx="658.5" cy="822.3" r="6.2"/><circle cx="751.2" cy="709.9" r="6.2"/><circle cx="635.9" cy="697.9" r="6.2"/><circle cx="681.8" cy="832.6" r="6.2"/><circle cx="627.1" cy="702.9" r="6.2"/><circle cx="670.1" cy="728.9" r="6.2"/><circle cx="614.9" cy="778.5" r="6.2"/><circle cx="768.7" cy="773.5" r="6.2"/><circle cx="720.4" cy="776.4" r="6.2"/><circle cx="658.1" cy="722.5" r="6.2"/><circle cx="612.8" cy="868.8" r="6.2"/><circle cx="663.0" cy="756.2" r="6.2"/><circle cx="629.2" cy="790.7" r="6.2"/><circle cx="691.2" cy="728.5" r="6.2"/><circle cx="662.6" cy="755.9" r="6.2"/><circle cx="741.1" cy="711.9" r="6.2"/><circle cx="642.9" cy="707.5" r="6.2"/><circle cx="588.9" cy="812.5" r="6.2"/><circle cx="655.1" cy="830.6" r="6.2"/><circle cx="643.9" cy="911.9" r="6.2"/><circle cx="619.7" cy="880.3" r="6.2"/><circle cx="629.9" cy="840.7" r="6.2"/><circle cx="662.7" cy="812.0" r="6.2"/><circle cx="682.0" cy="835.2" r="6.2"/><circle cx="588.9" cy="703.8" r="6.2"/><circle cx="774.0" cy="748.7" r="6.2"/><circle cx="648.1" cy="745.6" r="6.2"/><circle cx="657.6" cy="764.5" r="6.2"/><circle cx="646.6" cy="696.3" r="6.2"/><circle cx="593.4" cy="701.1" r="6.2"/><circle cx="604.0" cy="817.3" r="6.2"/><circle cx="617.5" cy="698.5" r="6.2"/><circle cx="746.6" cy="719.5" r="6.2"/><circle cx="602.7" cy="879.6" r="6.2"/><circle cx="625.0" cy="736.1" r="6.2"/><circle cx="768.4" cy="735.1" r="6.2"/><circle cx="691.0" cy="762.2" r="6.2"/><circle cx="644.5" cy="906.3" r="6.2"/><circle cx="761.1" cy="730.6" r="6.2"/><circle cx="723.5" cy="722.4" r="6.2"/><circle cx="636.4" cy="706.4" r="6.2"/><circle cx="707.8" cy="858.5" r="6.2"/><circle cx="655.9" cy="731.1" r="6.2"/><circle cx="575.9" cy="792.1" r="6.2"/><circle cx="701.2" cy="902.7" r="6.2"/><circle cx="696.4" cy="743.8" r="6.2"/><circle cx="728.5" cy="786.9" r="6.2"/><circle cx="719.8" cy="741.8" r="6.2"/><circle cx="767.8" cy="728.1" r="6.2"/><circle cx="606.2" cy="890.7" r="6.2"/><circle cx="707.1" cy="830.0" r="6.2"/><circle cx="627.1" cy="766.2" r="6.2"/><circle cx="623.2" cy="792.4" r="6.2"/><circle cx="707.8" cy="859.1" r="6.2"/><circle cx="719.7" cy="770.5" r="6.2"/><circle cx="643.9" cy="867.1" r="6.2"/><circle cx="774.6" cy="741.4" r="6.2"/><circle cx="659.6" cy="754.1" r="6.2"/><circle cx="643.0" cy="847.9" r="6.2"/><circle cx="650.8" cy="837.7" r="6.2"/><circle cx="662.2" cy="902.3" r="6.2"/><circle cx="668.8" cy="878.5" r="6.2"/><circle cx="693.1" cy="776.4" r="6.2"/><circle cx="773.2" cy="735.3" r="6.2"/><circle cx="663.8" cy="881.3" r="6.2"/><circle cx="665.3" cy="841.4" r="6.2"/><circle cx="593.9" cy="706.7" r="6.2"/><circle cx="597.0" cy="860.6" r="6.2"/><circle cx="647.8" cy="900.7" r="6.2"/><circle cx="591.2" cy="730.0" r="6.2"/><circle cx="746.4" cy="787.1" r="6.2"/><circle cx="620.2" cy="871.2" r="6.2"/><circle cx="623.1" cy="915.8" r="6.2"/><circle cx="631.4" cy="889.2" r="6.2"/><circle cx="673.3" cy="907.0" r="6.2"/><circle cx="635.7" cy="904.6" r="6.2"/><circle cx="637.1" cy="794.0" r="6.2"/><circle cx="704.7" cy="818.6" r="6.2"/><circle cx="712.5" cy="851.5" r="6.2"/><circle cx="629.9" cy="692.0" r="6.2"/><circle cx="690.5" cy="805.0" r="6.2"/><circle cx="765.3" cy="758.9" r="6.2"/><circle cx="762.0" cy="729.0" r="6.2"/><circle cx="606.6" cy="868.7" r="6.2"/><circle cx="631.0" cy="703.7" r="6.2"/><circle cx="663.4" cy="852.2" r="6.2"/><circle cx="633.1" cy="910.5" r="6.2"/><circle cx="575.5" cy="752.1" r="6.2"/><circle cx="645.0" cy="776.0" r="6.2"/><circle cx="636.4" cy="695.0" r="6.2"/><circle cx="618.0" cy="750.7" r="6.2"/><circle cx="712.9" cy="777.5" r="6.2"/><circle cx="723.1" cy="792.7" r="6.2"/><circle cx="644.8" cy="726.9" r="6.2"/><circle cx="621.8" cy="899.1" r="6.2"/><circle cx="668.3" cy="762.7" r="6.2"/><circle cx="619.8" cy="893.4" r="6.2"/><circle cx="739.9" cy="746.0" r="6.2"/><circle cx="724.9" cy="706.6" r="6.2"/><circle cx="711.3" cy="764.8" r="6.2"/><circle cx="710.7" cy="742.6" r="6.2"/><circle cx="647.5" cy="845.5" r="6.2"/><circle cx="767.6" cy="769.0" r="6.2"/><circle cx="609.7" cy="718.9" r="6.2"/><circle cx="578.5" cy="770.0" r="6.2"/><circle cx="609.6" cy="911.5" r="6.2"/><circle cx="602.1" cy="705.9" r="6.2"/><circle cx="733.6" cy="716.6" r="6.2"/><circle cx="658.6" cy="810.6" r="6.2"/><circle cx="587.3" cy="795.1" r="6.2"/><circle cx="692.2" cy="761.4" r="6.2"/><circle cx="607.7" cy="728.9" r="6.2"/><circle cx="706.3" cy="869.3" r="6.2"/><circle cx="634.0" cy="767.6" r="6.2"/><circle cx="615.2" cy="816.2" r="6.2"/><circle cx="664.5" cy="726.9" r="6.2"/><circle cx="732.5" cy="757.8" r="6.2"/><circle cx="655.0" cy="825.4" r="6.2"/><circle cx="763.2" cy="746.3" r="6.2"/><circle cx="661.0" cy="704.0" r="6.2"/><circle cx="575.6" cy="746.5" r="6.2"/><circle cx="672.7" cy="785.0" r="6.2"/><circle cx="629.3" cy="867.7" r="6.2"/><circle cx="675.0" cy="706.2" r="6.2"/><circle cx="595.4" cy="761.4" r="6.2"/><circle cx="612.9" cy="857.1" r="6.2"/><circle cx="700.6" cy="782.3" r="6.2"/><circle cx="621.1" cy="803.7" r="6.2"/><circle cx="569.0" cy="899.0" r="6.2"/><circle cx="512.1" cy="804.5" r="6.2"/><circle cx="522.7" cy="819.9" r="6.2"/><circle cx="570.1" cy="879.4" r="6.2"/><circle cx="470.7" cy="869.0" r="6.2"/><circle cx="551.2" cy="612.6" r="6.2"/><circle cx="550.2" cy="692.9" r="6.2"/><circle cx="523.1" cy="785.2" r="6.2"/><circle cx="512.9" cy="579.9" r="6.2"/><circle cx="549.1" cy="666.7" r="6.2"/><circle cx="481.6" cy="796.4" r="6.2"/><circle cx="471.5" cy="904.1" r="6.2"/><circle cx="530.3" cy="855.7" r="6.2"/><circle cx="491.3" cy="711.4" r="6.2"/><circle cx="500.7" cy="854.8" r="6.2"/><circle cx="511.9" cy="873.3" r="6.2"/><circle cx="452.7" cy="905.3" r="6.2"/><circle cx="533.5" cy="621.7" r="6.2"/><circle cx="572.5" cy="932.3" r="6.2"/><circle cx="530.5" cy="745.9" r="6.2"/><circle cx="524.7" cy="787.2" r="6.2"/><circle cx="569.4" cy="847.4" r="6.2"/><circle cx="487.7" cy="839.0" r="6.2"/><circle cx="505.0" cy="930.2" r="6.2"/><circle cx="564.5" cy="650.7" r="6.2"/><circle cx="552.3" cy="784.6" r="6.2"/><circle cx="542.5" cy="835.5" r="6.2"/><circle cx="563.0" cy="873.3" r="6.2"/><circle cx="530.0" cy="670.7" r="6.2"/><circle cx="510.7" cy="651.5" r="6.2"/><circle cx="490.8" cy="724.2" r="6.2"/><circle cx="501.7" cy="655.8" r="6.2"/><circle cx="472.3" cy="773.1" r="6.2"/><circle cx="469.7" cy="822.7" r="6.2"/><circle cx="552.3" cy="715.1" r="6.2"/><circle cx="550.1" cy="668.3" r="6.2"/><circle cx="492.0" cy="763.6" r="6.2"/><circle cx="456.8" cy="930.8" r="6.2"/><circle cx="464.9" cy="905.3" r="6.2"/><circle cx="531.7" cy="845.7" r="6.2"/><circle cx="474.7" cy="896.8" r="6.2"/><circle cx="516.1" cy="705.3" r="6.2"/><circle cx="557.6" cy="927.8" r="6.2"/><circle cx="501.1" cy="829.4" r="6.2"/><circle cx="536.7" cy="737.5" r="6.2"/><circle cx="509.0" cy="761.3" r="6.2"/><circle cx="492.0" cy="838.2" r="6.2"/><circle cx="501.1" cy="741.8" r="6.2"/><circle cx="471.1" cy="930.3" r="6.2"/><circle cx="457.9" cy="826.8" r="6.2"/><circle cx="531.9" cy="677.8" r="6.2"/><circle cx="572.0" cy="554.6" r="6.2"/><circle cx="529.5" cy="776.1" r="6.2"/><circle cx="538.4" cy="884.2" r="6.2"/><circle cx="498.9" cy="815.7" r="6.2"/><circle cx="514.9" cy="679.3" r="6.2"/><circle cx="504.6" cy="674.8" r="6.2"/><circle cx="496.2" cy="800.4" r="6.2"/><circle cx="490.6" cy="880.4" r="6.2"/><circle cx="493.9" cy="713.8" r="6.2"/><circle cx="503.0" cy="901.3" r="6.2"/><circle cx="524.8" cy="925.9" r="6.2"/><circle cx="472.8" cy="898.9" r="6.2"/><circle cx="453.6" cy="882.5" r="6.2"/><circle cx="528.3" cy="814.2" r="6.2"/><circle cx="497.7" cy="695.2" r="6.2"/><circle cx="527.3" cy="676.8" r="6.2"/><circle cx="505.7" cy="904.2" r="6.2"/><circle cx="521.9" cy="836.1" r="6.2"/><circle cx="461.4" cy="817.0" r="6.2"/><circle cx="538.5" cy="782.9" r="6.2"/><circle cx="570.2" cy="591.6" r="6.2"/><circle cx="548.7" cy="827.8" r="6.2"/><circle cx="540.2" cy="681.9" r="6.2"/><circle cx="534.0" cy="664.8" r="6.2"/><circle cx="568.5" cy="588.7" r="6.2"/><circle cx="551.4" cy="730.9" r="6.2"/><circle cx="492.9" cy="687.2" r="6.2"/><circle cx="571.3" cy="708.5" r="6.2"/><circle cx="527.1" cy="821.1" r="6.2"/><circle cx="490.2" cy="914.0" r="6.2"/><circle cx="455.8" cy="791.0" r="6.2"/><circle cx="521.1" cy="549.0" r="6.2"/><circle cx="568.6" cy="831.4" r="6.2"/><circle cx="517.9" cy="918.0" r="6.2"/><circle cx="515.3" cy="610.5" r="6.2"/><circle cx="547.0" cy="922.1" r="6.2"/><circle cx="476.8" cy="901.6" r="6.2"/><circle cx="460.2" cy="862.7" r="6.2"/><circle cx="474.2" cy="796.5" r="6.2"/><circle cx="535.9" cy="844.2" r="6.2"/><circle cx="566.7" cy="764.2" r="6.2"/><circle cx="480.2" cy="734.2" r="6.2"/><circle cx="527.6" cy="817.8" r="6.2"/><circle cx="526.2" cy="933.8" r="6.2"/><circle cx="572.4" cy="873.6" r="6.2"/><circle cx="507.1" cy="842.9" r="6.2"/><circle cx="479.6" cy="885.9" r="6.2"/><circle cx="479.0" cy="936.3" r="6.2"/><circle cx="449.7" cy="858.5" r="6.2"/><circle cx="511.6" cy="866.5" r="6.2"/><circle cx="514.2" cy="873.4" r="6.2"/><circle cx="538.0" cy="795.7" r="6.2"/><circle cx="568.8" cy="587.2" r="6.2"/><circle cx="565.6" cy="748.7" r="6.2"/><circle cx="537.8" cy="807.3" r="6.2"/><circle cx="497.8" cy="750.7" r="6.2"/><circle cx="571.5" cy="735.3" r="6.2"/><circle cx="564.4" cy="543.4" r="6.2"/><circle cx="520.9" cy="815.6" r="6.2"/><circle cx="548.6" cy="841.2" r="6.2"/><circle cx="554.6" cy="850.4" r="6.2"/><circle cx="553.9" cy="867.5" r="6.2"/><circle cx="481.4" cy="789.9" r="6.2"/><circle cx="507.2" cy="696.1" r="6.2"/><circle cx="500.1" cy="809.3" r="6.2"/><circle cx="574.8" cy="729.1" r="6.2"/><circle cx="494.6" cy="791.2" r="6.2"/><circle cx="527.9" cy="702.9" r="6.2"/><circle cx="530.0" cy="802.7" r="6.2"/><circle cx="542.8" cy="606.8" r="6.2"/><circle cx="530.9" cy="707.1" r="6.2"/><circle cx="559.7" cy="787.4" r="6.2"/><circle cx="551.0" cy="864.1" r="6.2"/><circle cx="544.5" cy="562.2" r="6.2"/><circle cx="568.4" cy="816.1" r="6.2"/><circle cx="501.8" cy="808.1" r="6.2"/><circle cx="464.8" cy="795.3" r="6.2"/><circle cx="567.1" cy="664.3" r="6.2"/><circle cx="498.4" cy="915.8" r="6.2"/><circle cx="549.2" cy="694.0" r="6.2"/><circle cx="572.4" cy="553.0" r="6.2"/><circle cx="531.9" cy="743.8" r="6.2"/><circle cx="560.7" cy="547.5" r="6.2"/><circle cx="488.8" cy="731.3" r="6.2"/><circle cx="457.3" cy="798.2" r="6.2"/><circle cx="555.6" cy="902.5" r="6.2"/><circle cx="573.1" cy="568.6" r="6.2"/><circle cx="537.5" cy="654.4" r="6.2"/><circle cx="563.4" cy="783.3" r="6.2"/><circle cx="561.8" cy="560.2" r="6.2"/><circle cx="524.9" cy="708.0" r="6.2"/><circle cx="542.2" cy="772.8" r="6.2"/><circle cx="523.4" cy="651.8" r="6.2"/><circle cx="512.6" cy="718.5" r="6.2"/><circle cx="563.6" cy="891.2" r="6.2"/><circle cx="503.5" cy="741.3" r="6.2"/><circle cx="485.2" cy="766.8" r="6.2"/><circle cx="464.6" cy="926.3" r="6.2"/><circle cx="485.7" cy="919.6" r="6.2"/><circle cx="487.4" cy="694.6" r="6.2"/><circle cx="571.8" cy="853.9" r="6.2"/><circle cx="497.6" cy="689.3" r="6.2"/><circle cx="561.6" cy="755.7" r="6.2"/><circle cx="565.5" cy="934.5" r="6.2"/><circle cx="558.4" cy="702.6" r="6.2"/><circle cx="497.6" cy="759.0" r="6.2"/><circle cx="534.3" cy="879.5" r="6.2"/><circle cx="551.8" cy="665.2" r="6.2"/><circle cx="541.5" cy="690.4" r="6.2"/><circle cx="546.6" cy="545.3" r="6.2"/><circle cx="555.8" cy="819.2" r="6.2"/><circle cx="487.5" cy="745.4" r="6.2"/><circle cx="563.0" cy="928.2" r="6.2"/><circle cx="524.6" cy="583.7" r="6.2"/><circle cx="572.3" cy="924.2" r="6.2"/><circle cx="459.2" cy="806.3" r="6.2"/><circle cx="532.6" cy="804.3" r="6.2"/><circle cx="530.5" cy="578.0" r="6.2"/><circle cx="473.9" cy="732.9" r="6.2"/><circle cx="474.2" cy="856.8" r="6.2"/><circle cx="462.2" cy="848.5" r="6.2"/><circle cx="531.5" cy="603.3" r="6.2"/><circle cx="496.1" cy="692.9" r="6.2"/><circle cx="505.8" cy="809.9" r="6.2"/><circle cx="536.7" cy="577.2" r="6.2"/><circle cx="555.2" cy="688.2" r="6.2"/><circle cx="452.6" cy="847.3" r="6.2"/><circle cx="565.2" cy="894.1" r="6.2"/><circle cx="560.2" cy="569.4" r="6.2"/><circle cx="501.4" cy="703.5" r="6.2"/><circle cx="523.8" cy="853.6" r="6.2"/><circle cx="548.1" cy="912.1" r="6.2"/><circle cx="533.9" cy="890.9" r="6.2"/><circle cx="505.3" cy="893.1" r="6.2"/><circle cx="557.7" cy="674.5" r="6.2"/><circle cx="557.1" cy="916.9" r="6.2"/><circle cx="546.4" cy="909.4" r="6.2"/><circle cx="566.2" cy="622.4" r="6.2"/><circle cx="528.0" cy="653.8" r="6.2"/><circle cx="516.6" cy="714.3" r="6.2"/><circle cx="539.6" cy="620.4" r="6.2"/><circle cx="489.3" cy="873.5" r="6.2"/><circle cx="570.4" cy="546.1" r="6.2"/><circle cx="555.3" cy="833.6" r="6.2"/><circle cx="557.9" cy="617.7" r="6.2"/><circle cx="563.3" cy="756.0" r="6.2"/><circle cx="573.0" cy="741.9" r="6.2"/><circle cx="464.7" cy="782.4" r="6.2"/><circle cx="552.0" cy="899.7" r="6.2"/><circle cx="570.4" cy="797.7" r="6.2"/><circle cx="522.1" cy="618.0" r="6.2"/><circle cx="570.4" cy="833.9" r="6.2"/><circle cx="532.9" cy="817.8" r="6.2"/><circle cx="554.9" cy="677.2" r="6.2"/><circle cx="462.2" cy="936.5" r="6.2"/><circle cx="487.4" cy="888.1" r="6.2"/><circle cx="527.4" cy="773.5" r="6.2"/><circle cx="497.4" cy="709.8" r="6.2"/><circle cx="488.1" cy="852.5" r="6.2"/><circle cx="506.8" cy="903.2" r="6.2"/><circle cx="493.1" cy="888.6" r="6.2"/><circle cx="493.6" cy="868.2" r="6.2"/><circle cx="536.0" cy="643.4" r="6.2"/><circle cx="505.1" cy="817.8" r="6.2"/><circle cx="485.3" cy="921.8" r="6.2"/><circle cx="449.8" cy="854.2" r="6.2"/><circle cx="469.6" cy="939.2" r="6.2"/><circle cx="460.5" cy="908.4" r="6.2"/><circle cx="499.0" cy="654.6" r="6.2"/><circle cx="496.7" cy="914.3" r="6.2"/><circle cx="570.9" cy="571.9" r="6.2"/><circle cx="519.4" cy="553.0" r="6.2"/><circle cx="461.2" cy="786.4" r="6.2"/><circle cx="514.9" cy="900.1" r="6.2"/><circle cx="562.8" cy="603.9" r="6.2"/><circle cx="528.5" cy="862.5" r="6.2"/><circle cx="546.1" cy="766.9" r="6.2"/><circle cx="513.1" cy="768.4" r="6.2"/><circle cx="500.5" cy="766.0" r="6.2"/><circle cx="561.2" cy="679.2" r="6.2"/><circle cx="504.0" cy="715.2" r="6.2"/><circle cx="558.0" cy="637.9" r="6.2"/><circle cx="503.8" cy="840.5" r="6.2"/><circle cx="497.8" cy="882.2" r="6.2"/><circle cx="516.3" cy="579.6" r="6.2"/><circle cx="503.8" cy="685.7" r="6.2"/><circle cx="491.1" cy="871.8" r="6.2"/><circle cx="562.0" cy="842.3" r="6.2"/><circle cx="545.3" cy="897.1" r="6.2"/><circle cx="564.5" cy="609.8" r="6.2"/><circle cx="562.0" cy="604.4" r="6.2"/><circle cx="482.5" cy="856.3" r="6.2"/><circle cx="466.2" cy="925.8" r="6.2"/><circle cx="528.8" cy="910.2" r="6.2"/><circle cx="516.6" cy="754.9" r="6.2"/><circle cx="522.5" cy="761.3" r="6.2"/><circle cx="521.9" cy="812.2" r="6.2"/><circle cx="569.4" cy="572.9" r="6.2"/><circle cx="562.6" cy="666.1" r="6.2"/><circle cx="524.3" cy="665.2" r="6.2"/><circle cx="573.5" cy="617.0" r="6.2"/><circle cx="498.1" cy="687.9" r="6.2"/><circle cx="451.0" cy="894.3" r="6.2"/><circle cx="526.3" cy="731.3" r="6.2"/><circle cx="535.6" cy="684.0" r="6.2"/><circle cx="465.8" cy="795.8" r="6.2"/><circle cx="498.6" cy="890.7" r="6.2"/><circle cx="478.3" cy="748.7" r="6.2"/><circle cx="495.3" cy="927.8" r="6.2"/><circle cx="473.9" cy="916.1" r="6.2"/><circle cx="490.6" cy="733.3" r="6.2"/><circle cx="569.8" cy="852.2" r="6.2"/><circle cx="568.2" cy="755.5" r="6.2"/><circle cx="488.4" cy="810.0" r="6.2"/><circle cx="535.0" cy="556.6" r="6.2"/><circle cx="461.6" cy="918.5" r="6.2"/><circle cx="539.6" cy="869.2" r="6.2"/><circle cx="471.9" cy="929.8" r="6.2"/><circle cx="493.6" cy="680.6" r="6.2"/><circle cx="455.4" cy="878.6" r="6.2"/><circle cx="558.5" cy="619.0" r="6.2"/><circle cx="518.0" cy="888.3" r="6.2"/><circle cx="496.0" cy="743.6" r="6.2"/><circle cx="479.0" cy="727.2" r="6.2"/><circle cx="487.7" cy="869.7" r="6.2"/><circle cx="562.4" cy="608.9" r="6.2"/><circle cx="517.7" cy="823.6" r="6.2"/><circle cx="489.5" cy="911.6" r="6.2"/><circle cx="456.3" cy="899.9" r="6.2"/><circle cx="475.4" cy="899.0" r="6.2"/><circle cx="506.0" cy="913.2" r="6.2"/><circle cx="459.0" cy="882.1" r="6.2"/><circle cx="572.4" cy="824.3" r="6.2"/><circle cx="465.0" cy="939.0" r="6.2"/><circle cx="549.8" cy="624.0" r="6.2"/><circle cx="571.2" cy="574.5" r="6.2"/><circle cx="523.2" cy="701.5" r="6.2"/><circle cx="559.9" cy="576.8" r="6.2"/><circle cx="529.1" cy="607.5" r="6.2"/><circle cx="512.9" cy="677.1" r="6.2"/><circle cx="521.5" cy="717.4" r="6.2"/><circle cx="535.8" cy="613.9" r="6.2"/><circle cx="572.9" cy="547.9" r="6.2"/><circle cx="472.9" cy="796.6" r="6.2"/><circle cx="511.7" cy="842.5" r="6.2"/><circle cx="557.8" cy="666.7" r="6.2"/><circle cx="531.5" cy="549.3" r="6.2"/><circle cx="561.1" cy="808.7" r="6.2"/><circle cx="562.6" cy="624.2" r="6.2"/><circle cx="511.1" cy="837.5" r="6.2"/><circle cx="451.2" cy="876.4" r="6.2"/><circle cx="537.9" cy="855.2" r="6.2"/><circle cx="468.6" cy="850.8" r="6.2"/><circle cx="520.0" cy="600.0" r="6.2"/><circle cx="464.8" cy="883.1" r="6.2"/><circle cx="498.6" cy="648.8" r="6.2"/><circle cx="494.8" cy="813.9" r="6.2"/><circle cx="530.5" cy="897.7" r="6.2"/><circle cx="533.3" cy="918.0" r="6.2"/><circle cx="495.3" cy="683.5" r="6.2"/><circle cx="482.1" cy="857.1" r="6.2"/><circle cx="484.0" cy="706.5" r="6.2"/><circle cx="489.8" cy="816.4" r="6.2"/><circle cx="489.6" cy="860.2" r="6.2"/><circle cx="514.4" cy="675.0" r="6.2"/><circle cx="517.6" cy="794.5" r="6.2"/><circle cx="520.3" cy="692.4" r="6.2"/><circle cx="506.3" cy="730.5" r="6.2"/><circle cx="564.5" cy="679.4" r="6.2"/><circle cx="490.8" cy="768.9" r="6.2"/><circle cx="522.0" cy="831.2" r="6.2"/><circle cx="531.7" cy="573.3" r="6.2"/><circle cx="497.5" cy="688.2" r="6.2"/><circle cx="462.3" cy="775.4" r="6.2"/><circle cx="546.4" cy="557.2" r="6.2"/><circle cx="515.3" cy="587.8" r="6.2"/><circle cx="546.6" cy="763.4" r="6.2"/><circle cx="532.7" cy="701.8" r="6.2"/><circle cx="565.9" cy="906.6" r="6.2"/><circle cx="556.4" cy="704.1" r="6.2"/><circle cx="562.9" cy="568.8" r="6.2"/><circle cx="546.5" cy="683.6" r="6.2"/><circle cx="557.9" cy="551.9" r="6.2"/><circle cx="521.1" cy="567.8" r="6.2"/><circle cx="485.4" cy="765.9" r="6.2"/><circle cx="465.6" cy="817.7" r="6.2"/><circle cx="513.1" cy="629.5" r="6.2"/><circle cx="516.3" cy="718.3" r="6.2"/><circle cx="452.3" cy="823.8" r="6.2"/><circle cx="538.8" cy="904.1" r="6.2"/><circle cx="567.6" cy="688.1" r="6.2"/><circle cx="529.7" cy="783.1" r="6.2"/><circle cx="454.7" cy="829.5" r="6.2"/><circle cx="482.6" cy="709.9" r="6.2"/><circle cx="526.8" cy="741.8" r="6.2"/><circle cx="483.6" cy="889.3" r="6.2"/><circle cx="459.9" cy="781.1" r="6.2"/><circle cx="471.5" cy="909.9" r="6.2"/><circle cx="566.9" cy="825.5" r="6.2"/><circle cx="560.3" cy="846.6" r="6.2"/><circle cx="531.1" cy="839.0" r="6.2"/><circle cx="563.7" cy="626.7" r="6.2"/><circle cx="540.6" cy="611.7" r="6.2"/><circle cx="506.5" cy="675.9" r="6.2"/><circle cx="528.5" cy="795.6" r="6.2"/><circle cx="562.6" cy="875.9" r="6.2"/><circle cx="453.7" cy="824.2" r="6.2"/><circle cx="492.0" cy="930.0" r="6.2"/><circle cx="475.2" cy="922.6" r="6.2"/><circle cx="544.1" cy="844.9" r="6.2"/><circle cx="525.2" cy="893.9" r="6.2"/><circle cx="477.8" cy="887.6" r="6.2"/><circle cx="559.9" cy="782.6" r="6.2"/><circle cx="532.0" cy="631.5" r="6.2"/><circle cx="510.4" cy="774.8" r="6.2"/><circle cx="568.6" cy="862.4" r="6.2"/><circle cx="494.4" cy="752.8" r="6.2"/><circle cx="523.1" cy="923.2" r="6.2"/><circle cx="518.9" cy="829.4" r="6.2"/><circle cx="550.0" cy="580.2" r="6.2"/><circle cx="521.9" cy="912.0" r="6.2"/><circle cx="552.6" cy="908.8" r="6.2"/><circle cx="468.6" cy="851.1" r="6.2"/><circle cx="483.4" cy="890.3" r="6.2"/><circle cx="547.6" cy="690.0" r="6.2"/><circle cx="521.6" cy="727.8" r="6.2"/><circle cx="567.6" cy="761.5" r="6.2"/><circle cx="510.3" cy="724.6" r="6.2"/><circle cx="539.0" cy="914.7" r="6.2"/><circle cx="543.9" cy="570.7" r="6.2"/><circle cx="552.8" cy="867.9" r="6.2"/><circle cx="555.2" cy="830.9" r="6.2"/><circle cx="481.1" cy="738.0" r="6.2"/><circle cx="516.6" cy="645.9" r="6.2"/><circle cx="569.0" cy="806.6" r="6.2"/><circle cx="550.8" cy="553.0" r="6.2"/><circle cx="538.4" cy="861.2" r="6.2"/><circle cx="506.6" cy="641.0" r="6.2"/><circle cx="509.8" cy="760.0" r="6.2"/><circle cx="503.1" cy="667.3" r="6.2"/><circle cx="532.9" cy="896.7" r="6.2"/><circle cx="482.1" cy="893.0" r="6.2"/><circle cx="455.0" cy="815.2" r="6.2"/><circle cx="491.7" cy="749.9" r="6.2"/><circle cx="469.1" cy="934.8" r="6.2"/><circle cx="500.8" cy="920.1" r="6.2"/><circle cx="514.0" cy="899.6" r="6.2"/><circle cx="504.5" cy="936.5" r="6.2"/><circle cx="508.6" cy="643.5" r="6.2"/><circle cx="462.0" cy="812.8" r="6.2"/><circle cx="494.1" cy="889.5" r="6.2"/><circle cx="473.1" cy="913.6" r="6.2"/><circle cx="500.7" cy="861.1" r="6.2"/><circle cx="454.7" cy="850.1" r="6.2"/><circle cx="558.3" cy="666.4" r="6.2"/><circle cx="567.3" cy="578.0" r="6.2"/><circle cx="557.7" cy="588.2" r="6.2"/><circle cx="468.8" cy="848.9" r="6.2"/><circle cx="529.2" cy="668.3" r="6.2"/><circle cx="537.2" cy="599.2" r="6.2"/><circle cx="559.9" cy="770.3" r="6.2"/><circle cx="568.2" cy="778.4" r="6.2"/><circle cx="520.6" cy="883.2" r="6.2"/><circle cx="522.0" cy="574.7" r="6.2"/><circle cx="525.7" cy="657.4" r="6.2"/><circle cx="525.5" cy="873.5" r="6.2"/><circle cx="488.8" cy="801.7" r="6.2"/><circle cx="543.1" cy="847.5" r="6.2"/><circle cx="543.5" cy="882.0" r="6.2"/><circle cx="539.6" cy="723.6" r="6.2"/><circle cx="449.7" cy="882.8" r="6.2"/><circle cx="466.9" cy="885.7" r="6.2"/><circle cx="553.3" cy="825.8" r="6.2"/><circle cx="574.7" cy="756.7" r="6.2"/><circle cx="566.1" cy="742.5" r="6.2"/><circle cx="531.8" cy="895.9" r="6.2"/><circle cx="551.6" cy="912.2" r="6.2"/><circle cx="516.2" cy="724.3" r="6.2"/><circle cx="514.7" cy="913.3" r="6.2"/><circle cx="497.8" cy="799.9" r="6.2"/><circle cx="553.8" cy="917.2" r="6.2"/><circle cx="535.3" cy="865.3" r="6.2"/><circle cx="551.2" cy="863.5" r="6.2"/><circle cx="524.1" cy="918.0" r="6.2"/><circle cx="561.2" cy="543.1" r="6.2"/><circle cx="463.4" cy="936.9" r="6.2"/><circle cx="532.6" cy="596.0" r="6.2"/><circle cx="563.7" cy="575.7" r="6.2"/><circle cx="516.3" cy="695.0" r="6.2"/><circle cx="460.7" cy="789.7" r="6.2"/><circle cx="488.8" cy="846.8" r="6.2"/><circle cx="567.1" cy="894.8" r="6.2"/><circle cx="541.9" cy="852.2" r="6.2"/><circle cx="459.7" cy="928.9" r="6.2"/><circle cx="521.2" cy="757.3" r="6.2"/><circle cx="533.6" cy="615.0" r="6.2"/><circle cx="564.7" cy="739.9" r="6.2"/><circle cx="464.8" cy="927.9" r="6.2"/><circle cx="521.8" cy="842.1" r="6.2"/><circle cx="550.0" cy="818.4" r="6.2"/><circle cx="504.3" cy="652.2" r="6.2"/><circle cx="454.5" cy="789.6" r="6.2"/><circle cx="561.0" cy="901.6" r="6.2"/><circle cx="552.4" cy="617.3" r="6.2"/></g>
<g fill="#8fbc8f"><circle cx="496.8" cy="521.9" r="6.2"/><circle cx="747.5" cy="452.2" r="6.2"/><circle cx="649.9" cy="492.0" r="6.2"/><circle cx="760.8" cy="492.0" r="6.2"/><circle cx="760.0" cy="489.6" r="6.2"/><circle cx="753.2" cy="506.1" r="6.2"/><circle cx="637.9" cy="514.7" r="6.2"/><circle cx="647.6" cy="518.5" r="6.2"/><circle cx="672.8" cy="518.5" r="6.2"/><circle cx="686.9" cy="516.3" r="6.2"/><circle cx="693.4" cy="522.8" r="6.2"/><circle cx="586.2" cy="527.7" r="6.2"/><circle cx="615.2" cy="533.4" r="6.2"/><circle cx="571.6" cy="539.1" r="6.2"/><circle cx="648.0" cy="539.1" r="6.2"/><circle cx="654.5" cy="536.7" r="6.2"/><circle cx="677.2" cy="535.8" r="6.2"/><circle cx="716.2" cy="532.6" r="6.2"/><circle cx="718.6" cy="534.2" r="6.2"/><circle cx="726.7" cy="523.7" r="6.2"/><circle cx="734.0" cy="524.5" r="6.2"/><circle cx="743.8" cy="524.5" r="6.2"/><circle cx="773.8" cy="530.2" r="6.2"/><circle cx="737.3" cy="539.9" r="6.2"/><circle cx="746.2" cy="539.1" r="6.2"/><circle cx="695.9" cy="541.5" r="6.2"/><circle cx="773.0" cy="542.3" r="6.2"/><circle cx="817.6" cy="440.8" r="6.2"/><circle cx="838.0" cy="510.7" r="6.2"/><circle cx="879.8" cy="531.8" r="6.2"/><circle cx="348.5" cy="642.8" r="6.2"/><circle cx="338.8" cy="712.5" r="6.2"/><circle cx="360.7" cy="733.0" r="6.2"/><circle cx="336.8" cy="738.1" r="6.2"/><circle cx="507.2" cy="548.9" r="6.2"/><circle cx="543.0" cy="550.6" r="6.2"/><circle cx="535.7" cy="553.0" r="6.2"/><circle cx="530.0" cy="560.3" r="6.2"/><circle cx="568.1" cy="548.1" r="6.2"/><circle cx="571.4" cy="541.6" r="6.2"/><circle cx="410.6" cy="556.2" r="6.2"/><circle cx="575.0" cy="566.0" r="6.2"/><circle cx="512.9" cy="562.7" r="6.2"/><circle cx="519.4" cy="567.6" r="6.2"/><circle cx="550.3" cy="568.4" r="6.2"/><circle cx="410.6" cy="578.5" r="6.2"/><circle cx="452.8" cy="577.4" r="6.2"/><circle cx="462.6" cy="579.0" r="6.2"/><circle cx="486.1" cy="573.3" r="6.2"/><circle cx="485.3" cy="578.2" r="6.2"/><circle cx="498.3" cy="571.7" r="6.2"/><circle cx="497.5" cy="579.8" r="6.2"/><circle cx="507.2" cy="576.5" r="6.2"/><circle cx="523.5" cy="582.2" r="6.2"/><circle cx="535.7" cy="579.0" r="6.2"/><circle cx="538.9" cy="585.5" r="6.2"/><circle cx="574.6" cy="581.4" r="6.2"/><circle cx="469.9" cy="595.2" r="6.2"/><circle cx="470.7" cy="602.5" r="6.2"/><circle cx="483.7" cy="596.0" r="6.2"/><circle cx="486.9" cy="598.5" r="6.2"/><circle cx="500.7" cy="597.7" r="6.2"/><circle cx="521.9" cy="594.4" r="6.2"/><circle cx="535.7" cy="592.0" r="6.2"/><circle cx="538.1" cy="588.7" r="6.2"/><circle cx="555.2" cy="600.1" r="6.2"/><circle cx="564.9" cy="595.2" r="6.2"/><circle cx="399.2" cy="606.9" r="6.2"/><circle cx="393.6" cy="618.8" r="6.2"/><circle cx="418.7" cy="622.0" r="6.2"/><circle cx="422.8" cy="618.8" r="6.2"/><circle cx="431.7" cy="625.8" r="6.2"/><circle cx="512.9" cy="602.5" r="6.2"/><circle cx="517.8" cy="608.2" r="6.2"/><circle cx="525.9" cy="606.6" r="6.2"/><circle cx="530.0" cy="609.8" r="6.2"/><circle cx="500.7" cy="613.1" r="6.2"/><circle cx="504.8" cy="618.0" r="6.2"/><circle cx="543.8" cy="610.7" r="6.2"/><circle cx="540.5" cy="618.0" r="6.2"/><circle cx="532.4" cy="619.6" r="6.2"/><circle cx="535.7" cy="626.1" r="6.2"/><circle cx="560.0" cy="619.6" r="6.2"/><circle cx="564.9" cy="616.3" r="6.2"/><circle cx="573.0" cy="614.7" r="6.2"/><circle cx="392.7" cy="637.1" r="6.2"/><circle cx="407.4" cy="641.0" r="6.2"/><circle cx="443.1" cy="636.6" r="6.2"/><circle cx="439.0" cy="640.7" r="6.2"/><circle cx="461.0" cy="635.8" r="6.2"/><circle cx="465.8" cy="637.5" r="6.2"/><circle cx="470.7" cy="642.3" r="6.2"/><circle cx="460.1" cy="640.7" r="6.2"/><circle cx="480.4" cy="635.8" r="6.2"/><circle cx="498.3" cy="636.6" r="6.2"/><circle cx="490.2" cy="645.6" r="6.2"/><circle cx="483.7" cy="653.7" r="6.2"/><circle cx="511.3" cy="627.7" r="6.2"/><circle cx="524.3" cy="629.3" r="6.2"/><circle cx="538.9" cy="640.7" r="6.2"/><circle cx="538.9" cy="632.6" r="6.2"/><circle cx="564.9" cy="631.0" r="6.2"/><circle cx="571.4" cy="634.2" r="6.2"/><circle cx="561.7" cy="624.5" r="6.2"/><circle cx="560.0" cy="648.8" r="6.2"/><circle cx="467.5" cy="660.2" r="6.2"/><circle cx="496.7" cy="656.9" r="6.2"/><circle cx="496.7" cy="668.3" r="6.2"/><circle cx="519.4" cy="665.1" r="6.2"/><circle cx="525.9" cy="658.6" r="6.2"/><circle cx="532.4" cy="652.1" r="6.2"/><circle cx="538.9" cy="653.7" r="6.2"/><circle cx="547.0" cy="653.7" r="6.2"/><circle cx="535.7" cy="663.4" r="6.2"/><circle cx="542.2" cy="668.3" r="6.2"/><circle cx="563.3" cy="661.0" r="6.2"/><circle cx="574.6" cy="656.1" r="6.2"/><circle cx="402.5" cy="669.9" r="6.2"/><circle cx="401.7" cy="676.4" r="6.2"/><circle cx="439.0" cy="671.6" r="6.2"/><circle cx="439.0" cy="678.1" r="6.2"/><circle cx="475.6" cy="669.9" r="6.2"/><circle cx="480.4" cy="676.4" r="6.2"/><circle cx="491.8" cy="679.7" r="6.2"/><circle cx="502.4" cy="682.9" r="6.2"/><circle cx="499.9" cy="691.0" r="6.2"/><circle cx="482.1" cy="689.4" r="6.2"/><circle cx="483.7" cy="686.2" r="6.2"/><circle cx="522.7" cy="683.7" r="6.2"/><circle cx="530.8" cy="681.3" r="6.2"/><circle cx="540.5" cy="674.8" r="6.2"/><circle cx="553.5" cy="673.2" r="6.2"/><circle cx="556.8" cy="682.9" r="6.2"/><circle cx="564.9" cy="687.8" r="6.2"/><circle cx="458.5" cy="686.2" r="6.2"/><circle cx="464.2" cy="687.8" r="6.2"/><circle cx="465.8" cy="700.8" r="6.2"/><circle cx="469.1" cy="707.3" r="6.2"/><circle cx="496.7" cy="702.4" r="6.2"/><circle cx="511.3" cy="699.2" r="6.2"/><circle cx="519.4" cy="695.9" r="6.2"/><circle cx="516.2" cy="708.9" r="6.2"/><circle cx="525.9" cy="702.4" r="6.2"/><circle cx="540.5" cy="702.4" r="6.2"/><circle cx="548.7" cy="700.8" r="6.2"/><circle cx="545.4" cy="692.7" r="6.2"/><circle cx="573.0" cy="695.9" r="6.2"/><circle cx="568.1" cy="702.4" r="6.2"/><circle cx="561.7" cy="710.5" r="6.2"/><circle cx="425.2" cy="707.3" r="6.2"/><circle cx="417.1" cy="709.7" r="6.2"/><circle cx="442.3" cy="714.6" r="6.2"/><circle cx="409.0" cy="717.8" r="6.2"/><circle cx="400.9" cy="723.5" r="6.2"/><circle cx="422.8" cy="723.5" r="6.2"/><circle cx="430.9" cy="732.5" r="6.2"/><circle cx="485.3" cy="716.2" r="6.2"/><circle cx="461.0" cy="725.2" r="6.2"/><circle cx="469.1" cy="726.8" r="6.2"/><circle cx="477.2" cy="734.1" r="6.2"/><circle cx="493.4" cy="736.5" r="6.2"/><circle cx="512.9" cy="712.2" r="6.2"/><circle cx="512.9" cy="720.3" r="6.2"/><circle cx="519.4" cy="726.8" r="6.2"/><circle cx="525.9" cy="721.9" r="6.2"/><circle cx="534.0" cy="718.7" r="6.2"/><circle cx="538.9" cy="723.5" r="6.2"/><circle cx="550.3" cy="718.7" r="6.2"/><circle cx="556.8" cy="723.5" r="6.2"/><circle cx="563.3" cy="728.4" r="6.2"/><circle cx="576.3" cy="720.3" r="6.2"/><circle cx="574.6" cy="734.9" r="6.2"/><circle cx="516.2" cy="734.9" r="6.2"/><circle cx="532.4" cy="734.9" r="6.2"/><circle cx="591.2" cy="557.1" r="6.2"/><circle cx="604.2" cy="553.0" r="6.2"/><circle cx="577.4" cy="566.0" r="6.2"/><circle cx="631.0" cy="552.2" r="6.2"/><circle cx="643.2" cy="543.2" r="6.2"/><circle cx="644.8" cy="554.6" r="6.2"/><circle cx="651.3" cy="561.1" r="6.2"/><circle cx="657.8" cy="564.4" r="6.2"/><circle cx="661.1" cy="548.1" r="6.2"/><circle cx="678.9" cy="551.4" r="6.2"/><circle cx="672.5" cy="559.5" r="6.2"/><circle cx="675.7" cy="570.9" r="6.2"/><circle cx="688.7" cy="569.2" r="6.2"/><circle cx="691.9" cy="566.0" r="6.2"/><circle cx="696.0" cy="548.1" r="6.2"/><circle cx="720.4" cy="553.0" r="6.2"/><circle cx="709.8" cy="562.7" r="6.2"/><circle cx="735.8" cy="542.4" r="6.2"/><circle cx="743.9" cy="542.4" r="6.2"/><circle cx="773.1" cy="544.1" r="6.2"/><circle cx="781.3" cy="549.7" r="6.2"/><circle cx="782.1" cy="559.5" r="6.2"/><circle cx="782.9" cy="570.9" r="6.2"/><circle cx="636.7" cy="573.3" r="6.2"/><circle cx="643.2" cy="574.1" r="6.2"/><circle cx="663.5" cy="574.9" r="6.2"/><circle cx="680.6" cy="582.2" r="6.2"/><circle cx="675.7" cy="592.0" r="6.2"/><circle cx="666.0" cy="587.1" r="6.2"/><circle cx="651.3" cy="583.9" r="6.2"/><circle cx="644.8" cy="590.3" r="6.2"/><circle cx="602.6" cy="569.2" r="6.2"/><circle cx="610.7" cy="569.2" r="6.2"/><circle cx="618.0" cy="573.3" r="6.2"/><circle cx="612.4" cy="588.7" r="6.2"/><circle cx="627.8" cy="586.3" r="6.2"/><circle cx="701.7" cy="582.2" r="6.2"/><circle cx="706.6" cy="583.9" r="6.2"/><circle cx="687.1" cy="597.7" r="6.2"/><circle cx="706.6" cy="600.9" r="6.2"/><circle cx="734.2" cy="575.7" r="6.2"/><circle cx="725.2" cy="585.5" r="6.2"/><circle cx="722.0" cy="593.6" r="6.2"/><circle cx="727.7" cy="603.3" r="6.2"/><circle cx="755.3" cy="570.9" r="6.2"/><circle cx="761.8" cy="577.4" r="6.2"/><circle cx="766.7" cy="587.1" r="6.2"/><circle cx="774.8" cy="577.4" r="6.2"/><circle cx="599.4" cy="598.5" r="6.2"/><circle cx="607.5" cy="595.2" r="6.2"/><circle cx="615.6" cy="596.8" r="6.2"/><circle cx="622.1" cy="601.7" r="6.2"/><circle cx="630.2" cy="605.0" r="6.2"/><circle cx="636.7" cy="608.2" r="6.2"/><circle cx="641.6" cy="611.5" r="6.2"/><circle cx="648.1" cy="601.7" r="6.2"/><circle cx="644.8" cy="595.2" r="6.2"/><circle cx="656.2" cy="614.7" r="6.2"/><circle cx="661.1" cy="619.6" r="6.2"/><circle cx="667.6" cy="609.8" r="6.2"/><circle cx="694.4" cy="618.0" r="6.2"/><circle cx="578.2" cy="613.1" r="6.2"/><circle cx="584.7" cy="616.3" r="6.2"/><circle cx="591.2" cy="618.0" r="6.2"/><circle cx="599.4" cy="616.3" r="6.2"/><circle cx="607.5" cy="608.2" r="6.2"/><circle cx="588.0" cy="627.7" r="6.2"/><circle cx="597.7" cy="624.5" r="6.2"/><circle cx="605.9" cy="624.5" r="6.2"/><circle cx="618.9" cy="624.5" r="6.2"/><circle cx="627.0" cy="628.5" r="6.2"/><circle cx="636.7" cy="631.0" r="6.2"/><circle cx="643.2" cy="634.2" r="6.2"/><circle cx="651.3" cy="633.4" r="6.2"/><circle cx="657.8" cy="634.2" r="6.2"/><circle cx="666.0" cy="635.8" r="6.2"/><circle cx="672.5" cy="637.5" r="6.2"/><circle cx="581.5" cy="643.9" r="6.2"/><circle cx="591.2" cy="647.2" r="6.2"/><circle cx="596.1" cy="653.7" r="6.2"/><circle cx="605.9" cy="643.9" r="6.2"/><circle cx="612.4" cy="640.7" r="6.2"/><circle cx="620.5" cy="643.9" r="6.2"/><circle cx="628.6" cy="640.7" r="6.2"/><circle cx="636.7" cy="652.1" r="6.2"/><circle cx="638.3" cy="655.3" r="6.2"/><circle cx="649.7" cy="647.2" r="6.2"/><circle cx="683.8" cy="636.6" r="6.2"/><circle cx="713.9" cy="635.0" r="6.2"/><circle cx="732.5" cy="645.6" r="6.2"/><circle cx="717.9" cy="650.4" r="6.2"/><circle cx="680.6" cy="650.4" r="6.2"/><circle cx="691.9" cy="652.1" r="6.2"/><circle cx="704.9" cy="652.1" r="6.2"/><circle cx="704.9" cy="656.9" r="6.2"/><circle cx="575.0" cy="656.9" r="6.2"/><circle cx="584.7" cy="660.2" r="6.2"/><circle cx="594.5" cy="663.4" r="6.2"/><circle cx="605.9" cy="653.7" r="6.2"/><circle cx="610.7" cy="660.2" r="6.2"/><circle cx="622.1" cy="656.9" r="6.2"/><circle cx="627.0" cy="663.4" r="6.2"/><circle cx="655.4" cy="665.1" r="6.2"/><circle cx="651.3" cy="674.8" r="6.2"/><circle cx="671.6" cy="665.1" r="6.2"/><circle cx="672.5" cy="669.9" r="6.2"/><circle cx="690.3" cy="671.6" r="6.2"/><circle cx="691.9" cy="678.1" r="6.2"/><circle cx="680.6" cy="679.7" r="6.2"/><circle cx="758.5" cy="680.5" r="6.2"/><circle cx="578.2" cy="674.8" r="6.2"/><circle cx="579.9" cy="682.9" r="6.2"/><circle cx="594.5" cy="684.6" r="6.2"/><circle cx="597.7" cy="689.4" r="6.2"/><circle cx="614.0" cy="673.2" r="6.2"/><circle cx="617.2" cy="678.1" r="6.2"/><circle cx="631.8" cy="684.6" r="6.2"/><circle cx="640.0" cy="682.9" r="6.2"/><circle cx="646.5" cy="679.7" r="6.2"/><circle cx="653.0" cy="678.1" r="6.2"/><circle cx="625.3" cy="694.3" r="6.2"/><circle cx="636.7" cy="702.4" r="6.2"/><circle cx="646.5" cy="697.5" r="6.2"/><circle cx="666.0" cy="684.6" r="6.2"/><circle cx="672.5" cy="699.2" r="6.2"/><circle cx="691.9" cy="691.0" r="6.2"/><circle cx="575.0" cy="699.2" r="6.2"/><circle cx="592.9" cy="694.3" r="6.2"/><circle cx="599.4" cy="699.2" r="6.2"/><circle cx="604.2" cy="707.3" r="6.2"/><circle cx="612.4" cy="700.8" r="6.2"/><circle cx="617.2" cy="704.0" r="6.2"/><circle cx="625.3" cy="713.8" r="6.2"/><circle cx="659.5" cy="708.9" r="6.2"/><circle cx="667.6" cy="712.2" r="6.2"/><circle cx="672.5" cy="717.0" r="6.2"/><circle cx="682.2" cy="720.3" r="6.2"/><circle cx="696.8" cy="718.7" r="6.2"/><circle cx="636.7" cy="720.3" r="6.2"/><circle cx="644.8" cy="717.0" r="6.2"/><circle cx="656.2" cy="726.8" r="6.2"/><circle cx="578.2" cy="715.4" r="6.2"/><circle cx="584.7" cy="721.9" r="6.2"/><circle cx="583.1" cy="734.9" r="6.2"/><circle cx="597.7" cy="731.7" r="6.2"/><circle cx="610.7" cy="728.4" r="6.2"/><circle cx="614.0" cy="734.9" r="6.2"/><circle cx="651.3" cy="734.9" r="6.2"/><circle cx="776.6" cy="544.9" r="6.2"/><circle cx="781.5" cy="551.4" r="6.2"/><circle cx="784.7" cy="559.5" r="6.2"/><circle cx="786.4" cy="570.0" r="6.2"/><circle cx="775.8" cy="578.2" r="6.2"/><circle cx="804.2" cy="566.8" r="6.2"/><circle cx="353.4" cy="755.8" r="6.2"/><circle cx="320.1" cy="769.1" r="6.2"/><circle cx="303.1" cy="804.0" r="6.2"/><circle cx="372.1" cy="804.0" r="6.2"/><circle cx="289.7" cy="851.9" r="6.2"/><circle cx="351.0" cy="855.2" r="6.2"/><circle cx="364.0" cy="861.7" r="6.2"/><circle cx="312.0" cy="888.5" r="6.2"/><circle cx="320.1" cy="883.6" r="6.2"/><circle cx="331.5" cy="883.6" r="6.2"/><circle cx="340.4" cy="882.0" r="6.2"/><circle cx="339.6" cy="886.0" r="6.2"/><circle cx="367.2" cy="880.4" r="6.2"/><circle cx="372.1" cy="876.3" r="6.2"/><circle cx="351.0" cy="901.5" r="6.2"/><circle cx="359.9" cy="921.0" r="6.2"/><circle cx="360.7" cy="928.3" r="6.2"/><circle cx="368.0" cy="928.3" r="6.2"/><circle cx="430.9" cy="735.8" r="6.2"/><circle cx="417.9" cy="745.6" r="6.2"/><circle cx="430.1" cy="747.2" r="6.2"/><circle cx="439.8" cy="748.8" r="6.2"/><circle cx="443.1" cy="754.5" r="6.2"/><circle cx="443.1" cy="761.8" r="6.2"/><circle cx="387.1" cy="763.4" r="6.2"/><circle cx="399.2" cy="776.9" r="6.2"/><circle cx="386.2" cy="784.5" r="6.2"/><circle cx="421.2" cy="762.3" r="6.2"/><circle cx="430.9" cy="771.5" r="6.2"/><circle cx="431.7" cy="777.2" r="6.2"/><circle cx="434.2" cy="783.7" r="6.2"/><circle cx="374.1" cy="804.0" r="6.2"/><circle cx="389.5" cy="808.1" r="6.2"/><circle cx="404.1" cy="806.5" r="6.2"/><circle cx="392.7" cy="816.2" r="6.2"/><circle cx="379.7" cy="822.7" r="6.2"/><circle cx="387.9" cy="824.3" r="6.2"/><circle cx="406.5" cy="824.0" r="6.2"/><circle cx="394.4" cy="829.2" r="6.2"/><circle cx="377.3" cy="835.7" r="6.2"/><circle cx="394.4" cy="839.0" r="6.2"/><circle cx="397.6" cy="842.2" r="6.2"/><circle cx="387.1" cy="847.1" r="6.2"/><circle cx="438.2" cy="821.1" r="6.2"/><circle cx="444.7" cy="822.7" r="6.2"/><circle cx="441.5" cy="839.0" r="6.2"/><circle cx="444.7" cy="798.3" r="6.2"/><circle cx="446.3" cy="803.2" r="6.2"/><circle cx="426.0" cy="834.1" r="6.2"/><circle cx="426.0" cy="840.6" r="6.2"/><circle cx="404.1" cy="848.7" r="6.2"/><circle cx="410.6" cy="847.1" r="6.2"/><circle cx="418.7" cy="848.7" r="6.2"/><circle cx="423.6" cy="847.1" r="6.2"/><circle cx="400.9" cy="855.2" r="6.2"/><circle cx="396.8" cy="863.3" r="6.2"/><circle cx="394.4" cy="868.2" r="6.2"/><circle cx="430.1" cy="853.6" r="6.2"/><circle cx="433.3" cy="860.1" r="6.2"/><circle cx="413.9" cy="864.9" r="6.2"/><circle cx="413.9" cy="871.4" r="6.2"/><circle cx="422.0" cy="874.7" r="6.2"/><circle cx="428.5" cy="874.7" r="6.2"/><circle cx="439.8" cy="871.4" r="6.2"/><circle cx="373.2" cy="876.3" r="6.2"/><circle cx="376.5" cy="886.0" r="6.2"/><circle cx="391.1" cy="886.0" r="6.2"/><circle cx="404.1" cy="879.6" r="6.2"/><circle cx="410.6" cy="890.9" r="6.2"/><circle cx="397.6" cy="897.4" r="6.2"/><circle cx="435.0" cy="887.7" r="6.2"/><circle cx="443.1" cy="890.9" r="6.2"/><circle cx="441.5" cy="884.4" r="6.2"/><circle cx="417.1" cy="900.7" r="6.2"/><circle cx="407.4" cy="910.4" r="6.2"/><circle cx="399.2" cy="910.4" r="6.2"/><circle cx="384.6" cy="912.0" r="6.2"/><circle cx="383.0" cy="915.3" r="6.2"/><circle cx="386.2" cy="928.3" r="6.2"/><circle cx="425.2" cy="900.7" r="6.2"/><circle cx="426.8" cy="913.7" r="6.2"/><circle cx="436.6" cy="907.2" r="6.2"/><circle cx="441.5" cy="913.7" r="6.2"/><circle cx="404.1" cy="926.7" r="6.2"/><circle cx="418.7" cy="926.7" r="6.2"/><circle cx="431.7" cy="925.0" r="6.2"/><circle cx="473.9" cy="739.9" r="6.2"/><circle cx="483.7" cy="738.2" r="6.2"/><circle cx="493.4" cy="738.2" r="6.2"/><circle cx="503.2" cy="736.6" r="6.2"/><circle cx="511.3" cy="739.9" r="6.2"/><circle cx="519.4" cy="738.2" r="6.2"/><circle cx="530.8" cy="738.2" r="6.2"/><circle cx="542.2" cy="738.2" r="6.2"/><circle cx="553.5" cy="736.6" r="6.2"/><circle cx="564.9" cy="736.6" r="6.2"/><circle cx="573.0" cy="739.9" r="6.2"/><circle cx="461.0" cy="757.7" r="6.2"/><circle cx="464.2" cy="767.5" r="6.2"/><circle cx="482.1" cy="764.2" r="6.2"/><circle cx="490.2" cy="751.2" r="6.2"/><circle cx="498.3" cy="752.9" r="6.2"/><circle cx="504.8" cy="748.0" r="6.2"/><circle cx="512.9" cy="748.0" r="6.2"/><circle cx="522.7" cy="751.2" r="6.2"/><circle cx="524.3" cy="759.4" r="6.2"/><circle cx="532.4" cy="748.0" r="6.2"/><circle cx="542.2" cy="754.5" r="6.2"/><circle cx="563.3" cy="744.7" r="6.2"/><circle cx="571.4" cy="751.2" r="6.2"/><circle cx="576.3" cy="759.4" r="6.2"/><circle cx="564.9" cy="767.5" r="6.2"/><circle cx="556.8" cy="775.6" r="6.2"/><circle cx="454.5" cy="782.1" r="6.2"/><circle cx="459.3" cy="775.6" r="6.2"/><circle cx="467.5" cy="778.9" r="6.2"/><circle cx="467.5" cy="788.6" r="6.2"/><circle cx="459.3" cy="788.6" r="6.2"/><circle cx="461.0" cy="800.0" r="6.2"/><circle cx="477.2" cy="772.4" r="6.2"/><circle cx="488.6" cy="775.6" r="6.2"/><circle cx="498.3" cy="770.7" r="6.2"/><circle cx="503.2" cy="780.5" r="6.2"/><circle cx="490.2" cy="787.0" r="6.2"/><circle cx="512.9" cy="780.5" r="6.2"/><circle cx="516.2" cy="788.6" r="6.2"/><circle cx="525.9" cy="795.1" r="6.2"/><circle cx="537.3" cy="787.0" r="6.2"/><circle cx="545.4" cy="790.2" r="6.2"/><circle cx="548.7" cy="782.1" r="6.2"/><circle cx="561.7" cy="772.4" r="6.2"/><circle cx="566.5" cy="791.8" r="6.2"/><circle cx="574.6" cy="783.7" r="6.2"/><circle cx="482.1" cy="800.0" r="6.2"/><circle cx="467.5" cy="809.7" r="6.2"/><circle cx="475.6" cy="808.1" r="6.2"/><circle cx="483.7" cy="806.5" r="6.2"/><circle cx="493.4" cy="806.5" r="6.2"/><circle cx="499.9" cy="800.0" r="6.2"/><circle cx="508.1" cy="796.7" r="6.2"/><circle cx="519.4" cy="803.2" r="6.2"/><circle cx="524.3" cy="809.7" r="6.2"/><circle cx="532.4" cy="803.2" r="6.2"/><circle cx="540.5" cy="808.1" r="6.2"/><circle cx="551.9" cy="804.8" r="6.2"/><circle cx="558.4" cy="803.2" r="6.2"/><circle cx="571.4" cy="811.3" r="6.2"/><circle cx="574.6" cy="821.1" r="6.2"/><circle cx="568.1" cy="826.0" r="6.2"/><circle cx="556.8" cy="822.7" r="6.2"/><circle cx="547.0" cy="819.5" r="6.2"/><circle cx="534.0" cy="813.0" r="6.2"/><circle cx="532.4" cy="826.0" r="6.2"/><circle cx="506.4" cy="827.6" r="6.2"/><circle cx="493.4" cy="822.7" r="6.2"/><circle cx="483.7" cy="819.5" r="6.2"/><circle cx="475.6" cy="816.2" r="6.2"/><circle cx="467.5" cy="819.5" r="6.2"/><circle cx="461.0" cy="827.6" r="6.2"/><circle cx="480.4" cy="826.0" r="6.2"/><circle cx="451.2" cy="835.7" r="6.2"/><circle cx="457.7" cy="842.2" r="6.2"/><circle cx="467.5" cy="840.6" r="6.2"/><circle cx="477.2" cy="842.2" r="6.2"/><circle cx="483.7" cy="847.1" r="6.2"/><circle cx="493.4" cy="837.3" r="6.2"/><circle cx="499.9" cy="840.6" r="6.2"/><circle cx="508.1" cy="832.5" r="6.2"/><circle cx="516.2" cy="835.7" r="6.2"/><circle cx="522.7" cy="840.6" r="6.2"/><circle cx="530.8" cy="835.7" r="6.2"/><circle cx="538.9" cy="838.9" r="6.2"/><circle cx="548.7" cy="842.2" r="6.2"/><circle cx="556.8" cy="838.9" r="6.2"/><circle cx="568.1" cy="832.5" r="6.2"/><circle cx="574.6" cy="838.9" r="6.2"/><circle cx="576.3" cy="848.7" r="6.2"/><circle cx="451.2" cy="851.9" r="6.2"/><circle cx="457.7" cy="858.4" r="6.2"/><circle cx="467.5" cy="853.6" r="6.2"/><circle cx="477.2" cy="858.4" r="6.2"/><circle cx="483.7" cy="863.3" r="6.2"/><circle cx="491.8" cy="856.8" r="6.2"/><circle cx="499.9" cy="851.9" r="6.2"/><circle cx="508.1" cy="858.4" r="6.2"/><circle cx="516.2" cy="855.2" r="6.2"/><circle cx="525.9" cy="851.9" r="6.2"/><circle cx="534.0" cy="848.7" r="6.2"/><circle cx="542.2" cy="855.2" r="6.2"/><circle cx="550.3" cy="863.3" r="6.2"/><circle cx="558.4" cy="858.4" r="6.2"/><circle cx="564.9" cy="853.6" r="6.2"/><circle cx="454.5" cy="871.4" r="6.2"/><circle cx="461.0" cy="868.2" r="6.2"/><circle cx="469.1" cy="873.1" r="6.2"/><circle cx="477.2" cy="868.2" r="6.2"/><circle cx="483.7" cy="874.7" r="6.2"/><circle cx="493.4" cy="869.8" r="6.2"/><circle cx="499.9" cy="873.1" r="6.2"/><circle cx="509.7" cy="877.9" r="6.2"/><circle cx="516.2" cy="873.1" r="6.2"/><circle cx="532.4" cy="873.1" r="6.2"/><circle cx="542.2" cy="869.8" r="6.2"/><circle cx="548.7" cy="874.7" r="6.2"/><circle cx="555.2" cy="877.9" r="6.2"/><circle cx="561.7" cy="869.8" r="6.2"/><circle cx="571.4" cy="874.7" r="6.2"/><circle cx="574.6" cy="881.2" r="6.2"/><circle cx="451.2" cy="884.4" r="6.2"/><circle cx="461.0" cy="884.4" r="6.2"/><circle cx="470.7" cy="887.7" r="6.2"/><circle cx="480.4" cy="884.4" r="6.2"/><circle cx="490.2" cy="889.3" r="6.2"/><circle cx="496.7" cy="892.5" r="6.2"/><circle cx="504.8" cy="895.8" r="6.2"/><circle cx="512.9" cy="890.9" r="6.2"/><circle cx="522.7" cy="890.9" r="6.2"/><circle cx="529.2" cy="894.2" r="6.2"/><circle cx="540.5" cy="889.3" r="6.2"/><circle cx="548.7" cy="892.5" r="6.2"/><circle cx="558.4" cy="884.4" r="6.2"/><circle cx="569.8" cy="892.5" r="6.2"/><circle cx="574.6" cy="897.4" r="6.2"/><circle cx="457.7" cy="903.9" r="6.2"/><circle cx="467.5" cy="903.9" r="6.2"/><circle cx="477.2" cy="907.2" r="6.2"/><circle cx="486.9" cy="903.9" r="6.2"/><circle cx="499.9" cy="903.9" r="6.2"/><circle cx="508.1" cy="908.8" r="6.2"/><circle cx="525.9" cy="900.7" r="6.2"/><circle cx="540.5" cy="907.2" r="6.2"/><circle cx="548.7" cy="913.7" r="6.2"/><circle cx="556.8" cy="920.2" r="6.2"/><circle cx="451.2" cy="921.8" r="6.2"/><circle cx="461.0" cy="920.2" r="6.2"/><circle cx="470.7" cy="916.9" r="6.2"/><circle cx="482.1" cy="920.2" r="6.2"/><circle cx="490.2" cy="918.5" r="6.2"/><circle cx="506.4" cy="913.7" r="6.2"/><circle cx="532.4" cy="923.4" r="6.2"/><circle cx="545.4" cy="925.0" r="6.2"/><circle cx="553.5" cy="929.9" r="6.2"/><circle cx="448.0" cy="931.5" r="6.2"/><circle cx="467.5" cy="929.9" r="6.2"/><circle cx="477.2" cy="931.5" r="6.2"/><circle cx="532.4" cy="931.5" r="6.2"/><circle cx="574.6" cy="929.9" r="6.2"/><circle cx="597.7" cy="735.8" r="6.2"/><circle cx="611.5" cy="738.2" r="6.2"/><circle cx="651.3" cy="739.9" r="6.2"/><circle cx="646.5" cy="736.6" r="6.2"/><circle cx="581.5" cy="744.7" r="6.2"/><circle cx="586.4" cy="751.2" r="6.2"/><circle cx="578.2" cy="759.4" r="6.2"/><circle cx="584.7" cy="764.2" r="6.2"/><circle cx="579.9" cy="772.4" r="6.2"/><circle cx="588.0" cy="774.0" r="6.2"/><circle cx="581.5" cy="783.7" r="6.2"/><circle cx="589.6" cy="783.7" r="6.2"/><circle cx="579.9" cy="791.8" r="6.2"/><circle cx="599.4" cy="751.2" r="6.2"/><circle cx="607.5" cy="752.9" r="6.2"/><circle cx="615.6" cy="754.5" r="6.2"/><circle cx="623.7" cy="751.2" r="6.2"/><circle cx="628.6" cy="756.1" r="6.2"/><circle cx="636.7" cy="757.7" r="6.2"/><circle cx="631.8" cy="767.5" r="6.2"/><circle cx="623.7" cy="764.2" r="6.2"/><circle cx="614.0" cy="762.6" r="6.2"/><circle cx="605.9" cy="764.2" r="6.2"/><circle cx="594.5" cy="761.0" r="6.2"/><circle cx="599.4" cy="774.0" r="6.2"/><circle cx="618.9" cy="780.5" r="6.2"/><circle cx="632.7" cy="795.1" r="6.2"/><circle cx="654.6" cy="753.7" r="6.2"/><circle cx="659.5" cy="759.4" r="6.2"/><circle cx="653.0" cy="765.9" r="6.2"/><circle cx="666.0" cy="764.2" r="6.2"/><circle cx="646.5" cy="777.2" r="6.2"/><circle cx="654.6" cy="780.5" r="6.2"/><circle cx="675.7" cy="753.7" r="6.2"/><circle cx="687.1" cy="751.2" r="6.2"/><circle cx="691.9" cy="743.1" r="6.2"/><circle cx="700.1" cy="748.0" r="6.2"/><circle cx="700.1" cy="757.7" r="6.2"/><circle cx="687.1" cy="773.2" r="6.2"/><circle cx="698.4" cy="773.2" r="6.2"/><circle cx="709.8" cy="778.0" r="6.2"/><circle cx="717.1" cy="781.3" r="6.2"/><circle cx="597.7" cy="798.3" r="6.2"/><circle cx="607.5" cy="796.7" r="6.2"/><circle cx="615.6" cy="805.7" r="6.2"/><circle cx="596.1" cy="806.5" r="6.2"/><circle cx="597.7" cy="816.2" r="6.2"/><circle cx="643.2" cy="801.6" r="6.2"/><circle cx="649.7" cy="800.0" r="6.2"/><circle cx="654.6" cy="803.2" r="6.2"/><circle cx="648.1" cy="811.3" r="6.2"/><circle cx="623.7" cy="819.5" r="6.2"/><circle cx="610.7" cy="830.8" r="6.2"/><circle cx="575.8" cy="813.0" r="6.2"/><circle cx="575.8" cy="830.8" r="6.2"/><circle cx="581.5" cy="840.6" r="6.2"/><circle cx="584.7" cy="845.4" r="6.2"/><circle cx="576.6" cy="848.7" r="6.2"/><circle cx="608.3" cy="853.6" r="6.2"/><circle cx="627.8" cy="850.3" r="6.2"/><circle cx="611.5" cy="872.2" r="6.2"/><circle cx="639.2" cy="877.6" r="6.2"/><circle cx="656.2" cy="877.6" r="6.2"/><circle cx="675.7" cy="879.2" r="6.2"/><circle cx="575.0" cy="869.8" r="6.2"/><circle cx="575.0" cy="881.2" r="6.2"/><circle cx="644.0" cy="895.5" r="6.2"/><circle cx="633.5" cy="906.8" r="6.2"/><circle cx="631.0" cy="922.6" r="6.2"/><circle cx="584.7" cy="897.4" r="6.2"/><circle cx="591.2" cy="897.4" r="6.2"/><circle cx="579.9" cy="903.9" r="6.2"/><circle cx="584.7" cy="905.5" r="6.2"/><circle cx="578.2" cy="931.5" r="6.2"/><circle cx="774.8" cy="800.3" r="6.2"/><circle cx="256.3" cy="939.9" r="6.2"/><circle cx="288.4" cy="936.7" r="6.2"/><circle cx="372.9" cy="934.7" r="6.2"/><circle cx="337.2" cy="944.8" r="6.2"/><circle cx="313.1" cy="955.9" r="6.2"/><circle cx="322.2" cy="964.8" r="6.2"/><circle cx="361.5" cy="954.6" r="6.2"/><circle cx="364.8" cy="976.6" r="6.2"/><circle cx="374.5" cy="982.7" r="6.2"/><circle cx="313.1" cy="997.3" r="6.2"/><circle cx="317.7" cy="1005.9" r="6.2"/><circle cx="342.8" cy="1002.6" r="6.2"/><circle cx="350.2" cy="992.4" r="6.2"/><circle cx="364.0" cy="1000.5" r="6.2"/><circle cx="270.2" cy="1068.7" r="6.2"/><circle cx="203.2" cy="1086.1" r="6.2"/><circle cx="376.5" cy="935.6" r="6.2"/><circle cx="391.1" cy="955.9" r="6.2"/><circle cx="399.2" cy="952.6" r="6.2"/><circle cx="409.0" cy="951.8" r="6.2"/><circle cx="385.4" cy="985.9" r="6.2"/><circle cx="378.1" cy="982.7" r="6.2"/><circle cx="394.4" cy="983.5" r="6.2"/><circle cx="399.2" cy="990.8" r="6.2"/><circle cx="409.8" cy="990.0" r="6.2"/><circle cx="424.4" cy="984.8" r="6.2"/><circle cx="426.0" cy="946.1" r="6.2"/><circle cx="426.8" cy="959.9" r="6.2"/><circle cx="423.6" cy="934.7" r="6.2"/><circle cx="430.1" cy="934.7" r="6.2"/><circle cx="438.2" cy="948.5" r="6.2"/><circle cx="448.0" cy="946.1" r="6.2"/><circle cx="452.8" cy="934.7" r="6.2"/><circle cx="456.1" cy="963.2" r="6.2"/><circle cx="456.9" cy="971.3" r="6.2"/><circle cx="452.0" cy="985.4" r="6.2"/><circle cx="474.8" cy="997.8" r="6.2"/><circle cx="470.7" cy="934.7" r="6.2"/><circle cx="482.1" cy="946.9" r="6.2"/><circle cx="486.1" cy="955.0" r="6.2"/><circle cx="478.8" cy="970.5" r="6.2"/><circle cx="503.2" cy="968.0" r="6.2"/><circle cx="501.6" cy="974.5" r="6.2"/><circle cx="508.9" cy="939.6" r="6.2"/><circle cx="532.4" cy="959.1" r="6.2"/><circle cx="543.8" cy="937.2" r="6.2"/><circle cx="532.4" cy="930.7" r="6.2"/><circle cx="555.2" cy="948.5" r="6.2"/><circle cx="563.3" cy="941.2" r="6.2"/><circle cx="569.8" cy="949.4" r="6.2"/><circle cx="563.3" cy="956.7" r="6.2"/><circle cx="575.5" cy="932.3" r="6.2"/><circle cx="577.4" cy="932.3" r="6.2"/><circle cx="593.7" cy="960.7" r="6.2"/><circle cx="631.0" cy="925.8" r="6.2"/><circle cx="477.4" cy="879.1" r="6.2"/><circle cx="484.9" cy="869.1" r="6.2"/><circle cx="498.9" cy="732.8" r="6.2"/><circle cx="457.0" cy="751.6" r="6.2"/><circle cx="441.4" cy="896.8" r="6.2"/><circle cx="533.6" cy="731.9" r="6.2"/><circle cx="473.6" cy="777.3" r="6.2"/><circle cx="591.6" cy="777.3" r="6.2"/><circle cx="529.5" cy="706.8" r="6.2"/><circle cx="554.0" cy="694.2" r="6.2"/><circle cx="445.6" cy="873.4" r="6.2"/><circle cx="560.8" cy="823.0" r="6.2"/><circle cx="474.9" cy="875.9" r="6.2"/><circle cx="534.2" cy="695.3" r="6.2"/><circle cx="454.0" cy="853.9" r="6.2"/><circle cx="521.9" cy="778.6" r="6.2"/><circle cx="515.5" cy="740.7" r="6.2"/><circle cx="525.5" cy="714.6" r="6.2"/><circle cx="542.0" cy="824.6" r="6.2"/><circle cx="536.4" cy="855.5" r="6.2"/><circle cx="524.9" cy="802.3" r="6.2"/><circle cx="448.0" cy="759.3" r="6.2"/><circle cx="528.1" cy="765.7" r="6.2"/><circle cx="512.0" cy="771.5" r="6.2"/><circle cx="520.0" cy="721.5" r="6.2"/><circle cx="539.1" cy="776.3" r="6.2"/><circle cx="586.8" cy="759.1" r="6.2"/><circle cx="573.2" cy="778.5" r="6.2"/><circle cx="537.6" cy="768.8" r="6.2"/><circle cx="565.6" cy="736.1" r="6.2"/><circle cx="488.6" cy="863.5" r="6.2"/><circle cx="503.3" cy="890.8" r="6.2"/><circle cx="525.5" cy="813.4" r="6.2"/><circle cx="509.8" cy="690.0" r="6.2"/><circle cx="526.3" cy="727.8" r="6.2"/><circle cx="449.7" cy="835.1" r="6.2"/><circle cx="471.5" cy="753.7" r="6.2"/><circle cx="466.4" cy="755.2" r="6.2"/><circle cx="465.2" cy="758.7" r="6.2"/><circle cx="473.6" cy="887.7" r="6.2"/><circle cx="576.2" cy="706.5" r="6.2"/><circle cx="506.8" cy="885.6" r="6.2"/><circle cx="436.2" cy="929.7" r="6.2"/><circle cx="491.9" cy="804.8" r="6.2"/><circle cx="457.6" cy="794.0" r="6.2"/><circle cx="552.3" cy="795.0" r="6.2"/><circle cx="589.2" cy="730.0" r="6.2"/><circle cx="530.5" cy="850.8" r="6.2"/><circle cx="467.7" cy="791.0" r="6.2"/><circle cx="459.4" cy="881.5" r="6.2"/><circle cx="479.6" cy="715.8" r="6.2"/><circle cx="580.1" cy="766.0" r="6.2"/><circle cx="515.7" cy="712.4" r="6.2"/><circle cx="519.5" cy="787.5" r="6.2"/><circle cx="453.2" cy="794.1" r="6.2"/><circle cx="491.3" cy="900.8" r="6.2"/><circle cx="549.9" cy="791.7" r="6.2"/><circle cx="556.4" cy="833.9" r="6.2"/><circle cx="482.9" cy="777.8" r="6.2"/><circle cx="479.0" cy="845.8" r="6.2"/><circle cx="575.8" cy="754.9" r="6.2"/><circle cx="583.8" cy="784.7" r="6.2"/><circle cx="508.4" cy="744.1" r="6.2"/><circle cx="465.2" cy="789.4" r="6.2"/><circle cx="508.9" cy="891.2" r="6.2"/><circle cx="484.7" cy="871.4" r="6.2"/><circle cx="465.7" cy="799.5" r="6.2"/><circle cx="433.8" cy="903.0" r="6.2"/><circle cx="483.5" cy="840.2" r="6.2"/><circle cx="521.1" cy="802.0" r="6.2"/><circle cx="463.0" cy="886.0" r="6.2"/><circle cx="505.0" cy="712.9" r="6.2"/><circle cx="438.0" cy="805.9" r="6.2"/><circle cx="521.7" cy="749.0" r="6.2"/><circle cx="462.3" cy="887.6" r="6.2"/><circle cx="543.1" cy="715.9" r="6.2"/><circle cx="565.4" cy="694.4" r="6.2"/><circle cx="442.3" cy="927.8" r="6.2"/><circle cx="582.1" cy="724.7" r="6.2"/><circle cx="537.6" cy="796.2" r="6.2"/><circle cx="457.1" cy="848.0" r="6.2"/><circle cx="475.1" cy="800.2" r="6.2"/><circle cx="486.9" cy="775.5" r="6.2"/><circle cx="525.1" cy="876.5" r="6.2"/><circle cx="543.1" cy="708.8" r="6.2"/><circle cx="469.7" cy="836.6" r="6.2"/><circle cx="485.0" cy="794.7" r="6.2"/><circle cx="474.8" cy="811.5" r="6.2"/><circle cx="528.1" cy="722.8" r="6.2"/><circle cx="433.6" cy="858.3" r="6.2"/><circle cx="510.7" cy="696.9" r="6.2"/><circle cx="433.9" cy="922.6" r="6.2"/><circle cx="552.3" cy="721.3" r="6.2"/><circle cx="496.2" cy="728.9" r="6.2"/><circle cx="492.9" cy="907.9" r="6.2"/><circle cx="489.0" cy="864.0" r="6.2"/><circle cx="459.5" cy="749.2" r="6.2"/><circle cx="528.9" cy="753.5" r="6.2"/><circle cx="574.8" cy="809.1" r="6.2"/><circle cx="523.7" cy="806.7" r="6.2"/><circle cx="455.0" cy="767.6" r="6.2"/><circle cx="558.6" cy="783.9" r="6.2"/><circle cx="456.4" cy="878.8" r="6.2"/><circle cx="495.1" cy="874.6" r="6.2"/><circle cx="456.2" cy="925.5" r="6.2"/><circle cx="541.5" cy="730.0" r="6.2"/><circle cx="422.7" cy="912.1" r="6.2"/><circle cx="541.6" cy="860.6" r="6.2"/><circle cx="494.4" cy="701.9" r="6.2"/><circle cx="506.1" cy="840.9" r="6.2"/><circle cx="469.9" cy="919.9" r="6.2"/><circle cx="559.3" cy="684.6" r="6.2"/><circle cx="473.0" cy="905.1" r="6.2"/><circle cx="453.9" cy="900.2" r="6.2"/><circle cx="538.5" cy="781.1" r="6.2"/><circle cx="542.9" cy="741.1" r="6.2"/><circle cx="581.6" cy="699.7" r="6.2"/><circle cx="468.2" cy="859.6" r="6.2"/><circle cx="495.3" cy="900.8" r="6.2"/><circle cx="484.8" cy="789.8" r="6.2"/><circle cx="479.6" cy="758.0" r="6.2"/><circle cx="545.3" cy="815.5" r="6.2"/><circle cx="479.5" cy="761.5" r="6.2"/><circle cx="447.9" cy="835.5" r="6.2"/><circle cx="482.1" cy="820.7" r="6.2"/><circle cx="431.3" cy="821.6" r="6.2"/><circle cx="525.5" cy="718.8" r="6.2"/><circle cx="589.6" cy="715.1" r="6.2"/><circle cx="511.8" cy="842.3" r="6.2"/><circle cx="515.9" cy="849.3" r="6.2"/><circle cx="542.7" cy="845.3" r="6.2"/><circle cx="574.8" cy="716.9" r="6.2"/><circle cx="485.3" cy="890.2" r="6.2"/><circle cx="428.0" cy="894.4" r="6.2"/><circle cx="537.7" cy="776.8" r="6.2"/><circle cx="463.2" cy="810.3" r="6.2"/><circle cx="568.4" cy="730.5" r="6.2"/><circle cx="464.5" cy="804.9" r="6.2"/><circle cx="565.8" cy="784.2" r="6.2"/><circle cx="516.3" cy="876.6" r="6.2"/><circle cx="541.2" cy="817.0" r="6.2"/><circle cx="498.1" cy="843.6" r="6.2"/><circle cx="569.8" cy="716.0" r="6.2"/><circle cx="468.6" cy="732.7" r="6.2"/><circle cx="565.8" cy="761.0" r="6.2"/><circle cx="500.7" cy="808.4" r="6.2"/><circle cx="453.3" cy="897.1" r="6.2"/><circle cx="502.3" cy="771.9" r="6.2"/><circle cx="589.9" cy="706.8" r="6.2"/><circle cx="422.8" cy="906.7" r="6.2"/><circle cx="567.6" cy="814.4" r="6.2"/><circle cx="467.8" cy="874.5" r="6.2"/><circle cx="448.4" cy="786.7" r="6.2"/><circle cx="450.8" cy="781.7" r="6.2"/><circle cx="488.2" cy="813.0" r="6.2"/><circle cx="461.3" cy="923.4" r="6.2"/><circle cx="443.0" cy="840.6" r="6.2"/><circle cx="546.9" cy="725.2" r="6.2"/><circle cx="454.9" cy="908.4" r="6.2"/><circle cx="463.1" cy="761.0" r="6.2"/><circle cx="467.4" cy="799.8" r="6.2"/><circle cx="573.0" cy="814.5" r="6.2"/><circle cx="461.0" cy="772.8" r="6.2"/><circle cx="533.8" cy="861.0" r="6.2"/><circle cx="475.5" cy="727.4" r="6.2"/><circle cx="560.5" cy="755.9" r="6.2"/><circle cx="464.3" cy="752.1" r="6.2"/><circle cx="489.4" cy="727.1" r="6.2"/><circle cx="536.5" cy="705.9" r="6.2"/><circle cx="484.2" cy="917.1" r="6.2"/><circle cx="461.1" cy="876.4" r="6.2"/><circle cx="435.5" cy="917.8" r="6.2"/><circle cx="456.5" cy="869.4" r="6.2"/><circle cx="559.7" cy="743.4" r="6.2"/><circle cx="560.5" cy="736.3" r="6.2"/><circle cx="511.1" cy="778.9" r="6.2"/><circle cx="458.4" cy="744.4" r="6.2"/><circle cx="579.3" cy="695.4" r="6.2"/><circle cx="508.5" cy="800.6" r="6.2"/><circle cx="498.6" cy="769.6" r="6.2"/><circle cx="466.6" cy="743.8" r="6.2"/><circle cx="461.2" cy="839.5" r="6.2"/><circle cx="595.9" cy="756.6" r="6.2"/><circle cx="491.9" cy="854.4" r="6.2"/><circle cx="475.3" cy="711.7" r="6.2"/><circle cx="536.8" cy="768.7" r="6.2"/><circle cx="578.3" cy="693.3" r="6.2"/><circle cx="569.9" cy="820.3" r="6.2"/><circle cx="522.8" cy="799.8" r="6.2"/><circle cx="513.7" cy="770.0" r="6.2"/><circle cx="529.9" cy="687.1" r="6.2"/><circle cx="469.8" cy="750.6" r="6.2"/><circle cx="598.7" cy="714.4" r="6.2"/><circle cx="510.9" cy="862.8" r="6.2"/><circle cx="531.9" cy="870.4" r="6.2"/><circle cx="485.1" cy="720.7" r="6.2"/><circle cx="461.0" cy="817.4" r="6.2"/><circle cx="513.6" cy="781.6" r="6.2"/><circle cx="585.4" cy="780.2" r="6.2"/><circle cx="458.2" cy="830.3" r="6.2"/><circle cx="524.7" cy="876.2" r="6.2"/><circle cx="507.1" cy="726.1" r="6.2"/><circle cx="462.3" cy="872.5" r="6.2"/><circle cx="462.4" cy="786.5" r="6.2"/><circle cx="526.6" cy="728.9" r="6.2"/><circle cx="517.5" cy="858.6" r="6.2"/><circle cx="552.9" cy="821.5" r="6.2"/><circle cx="527.8" cy="810.2" r="6.2"/><circle cx="515.7" cy="791.6" r="6.2"/><circle cx="583.5" cy="757.1" r="6.2"/><circle cx="541.8" cy="853.8" r="6.2"/><circle cx="495.3" cy="730.5" r="6.2"/><circle cx="454.3" cy="795.1" r="6.2"/><circle cx="452.2" cy="820.0" r="6.2"/><circle cx="530.9" cy="797.6" r="6.2"/><circle cx="521.6" cy="729.4" r="6.2"/><circle cx="572.8" cy="707.5" r="6.2"/><circle cx="478.4" cy="859.4" r="6.2"/><circle cx="526.4" cy="776.7" r="6.2"/><circle cx="521.3" cy="742.4" r="6.2"/><circle cx="482.3" cy="711.7" r="6.2"/><circle cx="586.4" cy="698.9" r="6.2"/><circle cx="541.6" cy="822.3" r="6.2"/><circle cx="510.0" cy="852.9" r="6.2"/><circle cx="480.6" cy="836.5" r="6.2"/><circle cx="514.5" cy="832.9" r="6.2"/><circle cx="453.5" cy="763.4" r="6.2"/><circle cx="548.9" cy="822.0" r="6.2"/><circle cx="441.2" cy="897.0" r="6.2"/><circle cx="494.0" cy="741.7" r="6.2"/><circle cx="446.9" cy="911.2" r="6.2"/><circle cx="651.9" cy="651.3" r="6.2"/><circle cx="613.1" cy="593.3" r="6.2"/><circle cx="640.2" cy="665.1" r="6.2"/><circle cx="616.2" cy="679.5" r="6.2"/><circle cx="601.2" cy="632.1" r="6.2"/><circle cx="636.3" cy="644.4" r="6.2"/><circle cx="618.8" cy="606.8" r="6.2"/><circle cx="566.1" cy="610.1" r="6.2"/><circle cx="642.0" cy="603.2" r="6.2"/><circle cx="582.8" cy="693.3" r="6.2"/><circle cx="578.6" cy="607.4" r="6.2"/><circle cx="596.4" cy="674.5" r="6.2"/><circle cx="622.8" cy="682.4" r="6.2"/><circle cx="624.0" cy="683.4" r="6.2"/><circle cx="592.3" cy="655.0" r="6.2"/><circle cx="611.4" cy="638.6" r="6.2"/><circle cx="598.3" cy="667.8" r="6.2"/><circle cx="559.6" cy="681.7" r="6.2"/><circle cx="632.3" cy="612.2" r="6.2"/><circle cx="585.3" cy="682.6" r="6.2"/><circle cx="595.1" cy="683.2" r="6.2"/><circle cx="591.8" cy="699.2" r="6.2"/><circle cx="590.8" cy="698.2" r="6.2"/><circle cx="590.0" cy="636.2" r="6.2"/><circle cx="562.6" cy="676.5" r="6.2"/><circle cx="550.2" cy="676.0" r="6.2"/><circle cx="604.8" cy="684.7" r="6.2"/><circle cx="606.9" cy="614.9" r="6.2"/><circle cx="649.2" cy="656.0" r="6.2"/><circle cx="645.6" cy="662.6" r="6.2"/><circle cx="597.3" cy="646.5" r="6.2"/><circle cx="642.5" cy="615.4" r="6.2"/><circle cx="542.7" cy="600.4" r="6.2"/><circle cx="627.4" cy="648.0" r="6.2"/><circle cx="613.8" cy="657.8" r="6.2"/><circle cx="654.0" cy="647.6" r="6.2"/><circle cx="550.5" cy="635.1" r="6.2"/><circle cx="605.7" cy="656.2" r="6.2"/><circle cx="618.3" cy="644.1" r="6.2"/><circle cx="557.5" cy="665.3" r="6.2"/><circle cx="634.7" cy="602.6" r="6.2"/><circle cx="553.6" cy="643.7" r="6.2"/><circle cx="626.4" cy="633.6" r="6.2"/><circle cx="663.7" cy="642.2" r="6.2"/><circle cx="558.0" cy="655.8" r="6.2"/><circle cx="605.4" cy="671.1" r="6.2"/><circle cx="642.9" cy="676.4" r="6.2"/><circle cx="590.1" cy="593.2" r="6.2"/><circle cx="573.0" cy="661.6" r="6.2"/><circle cx="581.0" cy="667.9" r="6.2"/><circle cx="555.9" cy="640.1" r="6.2"/><circle cx="549.4" cy="678.5" r="6.2"/><circle cx="551.1" cy="672.1" r="6.2"/><circle cx="554.4" cy="654.2" r="6.2"/><circle cx="585.1" cy="651.4" r="6.2"/><circle cx="638.6" cy="611.3" r="6.2"/><circle cx="578.9" cy="602.7" r="6.2"/></g>
<rect x="657.4" y="412.5" width="12.6" height="12.6" fill="#ff0000"/>
<polygon points="581.6,583.2 589.9,591.5 581.6,599.8 573.3,591.5" fill="#ff0000"/>
<polygon points="589.2,577.9 601.8,584.1 589.2,590.3" fill="#ff0000"/>
<line x1="194" y1="1120.75" x2="194" y2="1109.05" stroke="#000" stroke-width="2.4"/>
<line x1="711.7" y1="1120.75" x2="711.7" y2="1109.05" stroke="#000" stroke-width="2.4"/>
<line x1="170.31" y1="312.6" x2="170.31" y2="306.5" stroke="#000" stroke-width="1.85"/>
<line x1="349.84" y1="312.6" x2="349.84" y2="306.5" stroke="#000" stroke-width="1.85"/>
<line x1="441.01" y1="312.6" x2="441.01" y2="306.5" stroke="#000" stroke-width="1.85"/>
<line x1="505.69" y1="312.6" x2="505.69" y2="306.5" stroke="#000" stroke-width="1.85"/>
<line x1="555.86" y1="312.6" x2="555.86" y2="306.5" stroke="#000" stroke-width="1.85"/>
<line x1="596.85" y1="312.6" x2="596.85" y2="306.5" stroke="#000" stroke-width="1.85"/>
<line x1="631.51" y1="312.6" x2="631.51" y2="306.5" stroke="#000" stroke-width="1.85"/>
<line x1="661.53" y1="312.6" x2="661.53" y2="306.5" stroke="#000" stroke-width="1.85"/>
<line x1="688.01" y1="312.6" x2="688.01" y2="306.5" stroke="#000" stroke-width="1.85"/>
<line x1="867.54" y1="312.6" x2="867.54" y2="306.5" stroke="#000" stroke-width="1.85"/>
<line x1="958.71" y1="312.6" x2="958.71" y2="306.5" stroke="#000" stroke-width="1.85"/>
<line x1="170.31" y1="1120.75" x2="170.31" y2="1114.65" stroke="#000" stroke-width="1.85"/>
<line x1="349.84" y1="1120.75" x2="349.84" y2="1114.65" stroke="#000" stroke-width="1.85"/>
<line x1="441.01" y1="1120.75" x2="441.01" y2="1114.65" stroke="#000" stroke-width="1.85"/>
<line x1="505.69" y1="1120.75" x2="505.69" y2="1114.65" stroke="#000" stroke-width="1.85"/>
<line x1="555.86" y1="1120.75" x2="555.86" y2="1114.65" stroke="#000" stroke-width="1.85"/>
<line x1="596.85" y1="1120.75" x2="596.85" y2="1114.65" stroke="#000" stroke-width="1.85"/>
<line x1="631.51" y1="1120.75" x2="631.51" y2="1114.65" stroke="#000" stroke-width="1.85"/>
<line x1="661.53" y1="1120.75" x2="661.53" y2="1114.65" stroke="#000" stroke-width="1.85"/>
<line x1="688.01" y1="1120.75" x2="688.01" y2="1114.65" stroke="#000" stroke-width="1.85"/>
<line x1="867.54" y1="1120.75" x2="867.54" y2="1114.65" stroke="#000" stroke-width="1.85"/>
<line x1="958.71" y1="1120.75" x2="958.71" y2="1114.65" stroke="#000" stroke-width="1.85"/>
<line x1="165.3" y1="299.6" x2="177.6" y2="299.6" stroke="#000" stroke-width="2.4"/>
<line x1="165.3" y1="181.45" x2="177.6" y2="181.45" stroke="#000" stroke-width="2.4"/>
<line x1="165.3" y1="63.3" x2="177.6" y2="63.3" stroke="#000" stroke-width="2.4"/>
<line x1="165.3" y1="311.05" x2="172" y2="311.05" stroke="#000" stroke-width="1.85"/>
<line x1="165.3" y1="305.01" x2="172" y2="305.01" stroke="#000" stroke-width="1.85"/>
<line x1="165.3" y1="264.03" x2="172" y2="264.03" stroke="#000" stroke-width="1.85"/>
<line x1="165.3" y1="243.23" x2="172" y2="243.23" stroke="#000" stroke-width="1.85"/>
<line x1="165.3" y1="228.47" x2="172" y2="228.47" stroke="#000" stroke-width="1.85"/>
<line x1="165.3" y1="217.02" x2="172" y2="217.02" stroke="#000" stroke-width="1.85"/>
<line x1="165.3" y1="207.66" x2="172" y2="207.66" stroke="#000" stroke-width="1.85"/>
<line x1="165.3" y1="199.75" x2="172" y2="199.75" stroke="#000" stroke-width="1.85"/>
<line x1="165.3" y1="192.9" x2="172" y2="192.9" stroke="#000" stroke-width="1.85"/>
<line x1="165.3" y1="186.86" x2="172" y2="186.86" stroke="#000" stroke-width="1.85"/>
<line x1="165.3" y1="145.88" x2="172" y2="145.88" stroke="#000" stroke-width="1.85"/>
<line x1="165.3" y1="125.08" x2="172" y2="125.08" stroke="#000" stroke-width="1.85"/>
<line x1="165.3" y1="110.32" x2="172" y2="110.32" stroke="#000" stroke-width="1.85"/>
<line x1="165.3" y1="98.87" x2="172" y2="98.87" stroke="#000" stroke-width="1.85"/>
<line x1="165.3" y1="89.51" x2="172" y2="89.51" stroke="#000" stroke-width="1.85"/>
<line x1="165.3" y1="81.6" x2="172" y2="81.6" stroke="#000" stroke-width="1.85"/>
<line x1="165.3" y1="74.75" x2="172" y2="74.75" stroke="#000" stroke-width="1.85"/>
<line x1="165.3" y1="68.71" x2="172" y2="68.71" stroke="#000" stroke-width="1.85"/>
<line x1="165.3" y1="27.73" x2="172" y2="27.73" stroke="#000" stroke-width="1.85"/>
<line x1="165.3" y1="6.93" x2="172" y2="6.93" stroke="#000" stroke-width="1.85"/>
<line x1="165.3" y1="1008.5" x2="177.6" y2="1008.5" stroke="#000" stroke-width="2.4"/>
<line x1="165.3" y1="822.4" x2="177.6" y2="822.4" stroke="#000" stroke-width="2.4"/>
<line x1="165.3" y1="636.3" x2="177.6" y2="636.3" stroke="#000" stroke-width="2.4"/>
<line x1="165.3" y1="450.2" x2="177.6" y2="450.2" stroke="#000" stroke-width="2.4"/>
<line x1="165.3" y1="1105.81" x2="172" y2="1105.81" stroke="#000" stroke-width="1.85"/>
<line x1="165.3" y1="1082.56" x2="172" y2="1082.56" stroke="#000" stroke-width="1.85"/>
<line x1="165.3" y1="1064.52" x2="172" y2="1064.52" stroke="#000" stroke-width="1.85"/>
<line x1="165.3" y1="1049.79" x2="172" y2="1049.79" stroke="#000" stroke-width="1.85"/>
<line x1="165.3" y1="1037.33" x2="172" y2="1037.33" stroke="#000" stroke-width="1.85"/>
<line x1="165.3" y1="1026.53" x2="172" y2="1026.53" stroke="#000" stroke-width="1.85"/>
<line x1="165.3" y1="1017.02" x2="172" y2="1017.02" stroke="#000" stroke-width="1.85"/>
<line x1="165.3" y1="952.48" x2="172" y2="952.48" stroke="#000" stroke-width="1.85"/>
<line x1="165.3" y1="919.71" x2="172" y2="919.71" stroke="#000" stroke-width="1.85"/>
<line x1="165.3" y1="896.46" x2="172" y2="896.46" stroke="#000" stroke-width="1.85"/>
<line x1="165.3" y1="878.42" x2="172" y2="878.42" stroke="#000" stroke-width="1.85"/>
<line x1="165.3" y1="863.69" x2="172" y2="863.69" stroke="#000" stroke-width="1.85"/>
<line x1="165.3" y1="851.23" x2="172" y2="851.23" stroke="#000" stroke-width="1.85"/>
<line x1="165.3" y1="840.43" x2="172" y2="840.43" stroke="#000" stroke-width="1.85"/>
<line x1="165.3" y1="830.92" x2="172" y2="830.92" stroke="#000" stroke-width="1.85"/>
<line x1="165.3" y1="766.38" x2="172" y2="766.38" stroke="#000" stroke-width="1.85"/>
<line x1="165.3" y1="733.61" x2="172" y2="733.61" stroke="#000" stroke-width="1.85"/>
<line x1="165.3" y1="710.36" x2="172" y2="710.36" stroke="#000" stroke-width="1.85"/>
<line x1="165.3" y1="692.32" x2="172" y2="692.32" stroke="#000" stroke-width="1.85"/>
<line x1="165.3" y1="677.59" x2="172" y2="677.59" stroke="#000" stroke-width="1.85"/>
<line x1="165.3" y1="665.13" x2="172" y2="665.13" stroke="#000" stroke-width="1.85"/>
<line x1="165.3" y1="654.33" x2="172" y2="654.33" stroke="#000" stroke-width="1.85"/>
<line x1="165.3" y1="644.82" x2="172" y2="644.82" stroke="#000" stroke-width="1.85"/>
<line x1="165.3" y1="580.28" x2="172" y2="580.28" stroke="#000" stroke-width="1.85"/>
<line x1="165.3" y1="547.51" x2="172" y2="547.51" stroke="#000" stroke-width="1.85"/>
<line x1="165.3" y1="524.26" x2="172" y2="524.26" stroke="#000" stroke-width="1.85"/>
<line x1="165.3" y1="506.22" x2="172" y2="506.22" stroke="#000" stroke-width="1.85"/>
<line x1="165.3" y1="491.49" x2="172" y2="491.49" stroke="#000" stroke-width="1.85"/>
<line x1="165.3" y1="479.03" x2="172" y2="479.03" stroke="#000" stroke-width="1.85"/>
<line x1="165.3" y1="468.23" x2="172" y2="468.23" stroke="#000" stroke-width="1.85"/>
<line x1="165.3" y1="458.72" x2="172" y2="458.72" stroke="#000" stroke-width="1.85"/>
<line x1="165.3" y1="394.18" x2="172" y2="394.18" stroke="#000" stroke-width="1.85"/>
<line x1="165.3" y1="361.41" x2="172" y2="361.41" stroke="#000" stroke-width="1.85"/>
<line x1="1016.8" y1="1105.81" x2="1023.5" y2="1105.81" stroke="#000" stroke-width="1.85"/>
<line x1="1016.8" y1="1082.56" x2="1023.5" y2="1082.56" stroke="#000" stroke-width="1.85"/>
<line x1="1016.8" y1="1064.52" x2="1023.5" y2="1064.52" stroke="#000" stroke-width="1.85"/>
<line x1="1016.8" y1="1049.79" x2="1023.5" y2="1049.79" stroke="#000" stroke-width="1.85"/>
<line x1="1016.8" y1="1037.33" x2="1023.5" y2="1037.33" stroke="#000" stroke-width="1.85"/>
<line x1="1016.8" y1="1026.53" x2="1023.5" y2="1026.53" stroke="#000" stroke-width="1.85"/>
<line x1="1016.8" y1="1017.02" x2="1023.5" y2="1017.02" stroke="#000" stroke-width="1.85"/>
<line x1="1016.8" y1="952.48" x2="1023.5" y2="952.48" stroke="#000" stroke-width="1.85"/>
<line x1="1016.8" y1="919.71" x2="1023.5" y2="919.71" stroke="#000" stroke-width="1.85"/>
<line x1="1016.8" y1="896.46" x2="1023.5" y2="896.46" stroke="#000" stroke-width="1.85"/>
<line x1="1016.8" y1="878.42" x2="1023.5" y2="878.42" stroke="#000" stroke-width="1.85"/>
<line x1="1016.8" y1="863.69" x2="1023.5" y2="863.69" stroke="#000" stroke-width="1.85"/>
<line x1="1016.8" y1="851.23" x2="1023.5" y2="851.23" stroke="#000" stroke-width="1.85"/>
<line x1="1016.8" y1="840.43" x2="1023.5" y2="840.43" stroke="#000" stroke-width="1.85"/>
<line x1="1016.8" y1="830.92" x2="1023.5" y2="830.92" stroke="#000" stroke-width="1.85"/>
<line x1="1016.8" y1="766.38" x2="1023.5" y2="766.38" stroke="#000" stroke-width="1.85"/>
<line x1="1016.8" y1="733.61" x2="1023.5" y2="733.61" stroke="#000" stroke-width="1.85"/>
<line x1="1016.8" y1="710.36" x2="1023.5" y2="710.36" stroke="#000" stroke-width="1.85"/>
<line x1="1016.8" y1="692.32" x2="1023.5" y2="692.32" stroke="#000" stroke-width="1.85"/>
<line x1="1016.8" y1="677.59" x2="1023.5" y2="677.59" stroke="#000" stroke-width="1.85"/>
<line x1="1016.8" y1="665.13" x2="1023.5" y2="665.13" stroke="#000" stroke-width="1.85"/>
<line x1="1016.8" y1="654.33" x2="1023.5" y2="654.33" stroke="#000" stroke-width="1.85"/>
<line x1="1016.8" y1="644.82" x2="1023.5" y2="644.82" stroke="#000" stroke-width="1.85"/>
<line x1="1016.8" y1="580.28" x2="1023.5" y2="580.28" stroke="#000" stroke-width="1.85"/>
<line x1="1016.8" y1="547.51" x2="1023.5" y2="547.51" stroke="#000" stroke-width="1.85"/>
<line x1="1016.8" y1="524.26" x2="1023.5" y2="524.26" stroke="#000" stroke-width="1.85"/>
<line x1="1016.8" y1="506.22" x2="1023.5" y2="506.22" stroke="#000" stroke-width="1.85"/>
<line x1="1016.8" y1="491.49" x2="1023.5" y2="491.49" stroke="#000" stroke-width="1.85"/>
<line x1="1016.8" y1="479.03" x2="1023.5" y2="479.03" stroke="#000" stroke-width="1.85"/>
<line x1="1016.8" y1="468.23" x2="1023.5" y2="468.23" stroke="#000" stroke-width="1.85"/>
<line x1="1016.8" y1="458.72" x2="1023.5" y2="458.72" stroke="#000" stroke-width="1.85"/>
<line x1="1016.8" y1="394.18" x2="1023.5" y2="394.18" stroke="#000" stroke-width="1.85"/>
<line x1="1016.8" y1="361.41" x2="1023.5" y2="361.41" stroke="#000" stroke-width="1.85"/>
<line x1="1031.8" y1="1120.75" x2="1031.8" y2="1109.05" stroke="#000" stroke-width="2.4"/>
<line x1="1162.6" y1="1120.75" x2="1162.6" y2="1109.05" stroke="#000" stroke-width="2.4"/>
<line x1="1293.4" y1="1120.75" x2="1293.4" y2="1109.05" stroke="#000" stroke-width="2.4"/>
<line x1="1019.12" y1="1120.75" x2="1019.12" y2="1114.65" stroke="#000" stroke-width="1.85"/>
<line x1="1025.81" y1="1120.75" x2="1025.81" y2="1114.65" stroke="#000" stroke-width="1.85"/>
<line x1="1071.17" y1="1120.75" x2="1071.17" y2="1114.65" stroke="#000" stroke-width="1.85"/>
<line x1="1094.21" y1="1120.75" x2="1094.21" y2="1114.65" stroke="#000" stroke-width="1.85"/>
<line x1="1110.55" y1="1120.75" x2="1110.55" y2="1114.65" stroke="#000" stroke-width="1.85"/>
<line x1="1123.23" y1="1120.75" x2="1123.23" y2="1114.65" stroke="#000" stroke-width="1.85"/>
<line x1="1133.58" y1="1120.75" x2="1133.58" y2="1114.65" stroke="#000" stroke-width="1.85"/>
<line x1="1142.34" y1="1120.75" x2="1142.34" y2="1114.65" stroke="#000" stroke-width="1.85"/>
<line x1="1149.92" y1="1120.75" x2="1149.92" y2="1114.65" stroke="#000" stroke-width="1.85"/>
<line x1="1156.61" y1="1120.75" x2="1156.61" y2="1114.65" stroke="#000" stroke-width="1.85"/>
<line x1="1201.97" y1="1120.75" x2="1201.97" y2="1114.65" stroke="#000" stroke-width="1.85"/>
<line x1="1225.01" y1="1120.75" x2="1225.01" y2="1114.65" stroke="#000" stroke-width="1.85"/>
<line x1="1241.35" y1="1120.75" x2="1241.35" y2="1114.65" stroke="#000" stroke-width="1.85"/>
<line x1="1254.03" y1="1120.75" x2="1254.03" y2="1114.65" stroke="#000" stroke-width="1.85"/>
<line x1="1264.38" y1="1120.75" x2="1264.38" y2="1114.65" stroke="#000" stroke-width="1.85"/>
<line x1="1273.14" y1="1120.75" x2="1273.14" y2="1114.65" stroke="#000" stroke-width="1.85"/>
<line x1="1280.72" y1="1120.75" x2="1280.72" y2="1114.65" stroke="#000" stroke-width="1.85"/>
<line x1="1287.41" y1="1120.75" x2="1287.41" y2="1114.65" stroke="#000" stroke-width="1.85"/>
<line x1="1332.77" y1="1120.75" x2="1332.77" y2="1114.65" stroke="#000" stroke-width="1.85"/>
<rect x="165.3" y="2.35" width="817.4" height="310.25" fill="none" stroke="#000" stroke-width="2.8" stroke-linejoin="miter"/>
<rect x="165.3" y="345.7" width="817.4" height="775.05" fill="none" stroke="#000" stroke-width="2.8" stroke-linejoin="miter"/>
<rect x="1016.8" y="345.7" width="327.2" height="775.05" fill="none" stroke="#000" stroke-width="2.8" stroke-linejoin="miter"/>
<rect x="737.6" y="896.5" width="231.1" height="211.7" rx="5.5" ry="5.5" fill="#fff" fill-opacity="0.8" stroke="#cccccc" stroke-opacity="0.8" stroke-width="2.78"/>
<circle cx="776.0" cy="922.0" r="6.2" fill="#87ceeb"/>
<circle cx="776.0" cy="962.8" r="6.2" fill="#8fbc8f"/>
<rect x="769.7" y="996.2" width="12.6" height="12.6" fill="#ff0000"/>
<polygon points="776.0,1035.6000000000001 784.6,1044.2 776.0,1052.8 767.4,1044.2" fill="#ff0000"/>
<polygon points="769.7,1078.5 782.5,1084.9 769.7,1091.3000000000002" fill="#ff0000"/>
<text x="824.1" y="929.2" font-size="27.8">Episode 1</text>
<text x="824.1" y="969.7" font-size="27.8">Episode 2</text>
<text x="824.1" y="1010.6" font-size="27.8">burst #1</text>
<text x="824.1" y="1050.9" font-size="27.8">burst #2</text>
<text x="824.1" y="1091.6" font-size="27.8">burst #3</text>
<text x="79.3" y="79.9" font-size="44.3">10</text>
<text x="135.67" y="63.7" font-size="31.0">2</text>
<text x="79.3" y="197.7" font-size="44.3">10</text>
<text x="135.67" y="181.5" font-size="31.0">1</text>
<text x="79.3" y="315.1" font-size="44.3">10</text>
<text x="135.67" y="298.9" font-size="31.0">0</text>
<text x="58.9" y="466" font-size="44.3">10</text>
<text x="115.27" y="449.8" font-size="31.0">39</text>
<text x="58.9" y="652.4" font-size="44.3">10</text>
<text x="115.27" y="636.2" font-size="31.0">38</text>
<text x="59.2" y="838.8" font-size="44.3">10</text>
<text x="115.57" y="822.6" font-size="31.0">37</text>
<text x="58.9" y="1025.3" font-size="44.3">10</text>
<text x="115.27" y="1009.1" font-size="31.0">36</text>
<text x="156.8" y="1167.6" font-size="44.3">10</text>
<text x="213.17" y="1151.4" font-size="31.0">0</text>
<text x="674.5" y="1166.4" font-size="44.3">10</text>
<text x="730.87" y="1150.2" font-size="31.0">1</text>
<text x="994.8" y="1167.4" font-size="44.3">10</text>
<text x="1051.17" y="1151.2" font-size="31.0">0</text>
<text x="1125" y="1167" font-size="44.3">10</text>
<text x="1181.37" y="1150.8" font-size="31.0">1</text>
<text x="1255.8" y="1167" font-size="44.3">10</text>
<text x="1312.17" y="1150.8" font-size="31.0">2</text>
<text x="574.0" y="1224.8" font-size="44.3" text-anchor="middle">Width (ms)</text>
<text transform="translate(33.6,734.7) rotate(-90) scale(1,0.96)" x="0" y="0" font-size="44.3" text-anchor="middle">Energy (erg)</text>
</svg>
</body></html>
